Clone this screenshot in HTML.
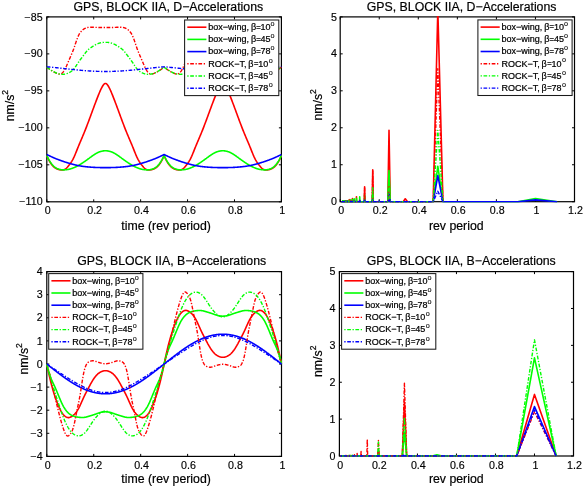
<!DOCTYPE html>
<html><head><meta charset="utf-8"><title>GPS BLOCK IIA Accelerations</title>
<style>html,body{margin:0;padding:0;background:#fff;overflow:hidden}svg{display:block}</style></head>
<body><svg width="585" height="487" viewBox="0 0 585 487" font-family="'Liberation Sans', sans-serif" fill="#000">
<rect width="585" height="487" fill="#fff"/>
<clipPath id="cTL"><rect x="46.00" y="16.10" width="236.20" height="186.50"/></clipPath>
<clipPath id="cTR"><rect x="339.40" y="16.10" width="235.90" height="186.40"/></clipPath>
<clipPath id="cBL"><rect x="46.00" y="270.80" width="236.30" height="186.40"/></clipPath>
<clipPath id="cBR"><rect x="338.60" y="270.80" width="235.70" height="186.00"/></clipPath>
<path d="M46.80,201.8v-2.5M46.80,16.9v2.5M93.72,201.8v-2.5M93.72,16.9v2.5M140.64,201.8v-2.5M140.64,16.9v2.5M187.56,201.8v-2.5M187.56,16.9v2.5M234.48,201.8v-2.5M234.48,16.9v2.5M281.40,201.8v-2.5M281.40,16.9v2.5M46.8,201.80h2.5M281.4,201.80h-2.5M46.8,164.82h2.5M281.4,164.82h-2.5M46.8,127.84h2.5M281.4,127.84h-2.5M46.8,90.86h2.5M281.4,90.86h-2.5M46.8,53.88h2.5M281.4,53.88h-2.5M46.8,16.90h2.5M281.4,16.90h-2.5" stroke="#000" stroke-width="1" fill="none"/>
<rect x="46.8" y="16.9" width="234.60" height="184.90" fill="none" stroke="#000" stroke-width="1.2"/>
<g clip-path="url(#cTL)"><polyline points="46.80,155.43 47.09,156.16 47.39,156.86 47.68,157.54 47.97,158.19 48.27,158.82 48.56,159.43 48.85,160.01 49.15,160.57 49.44,161.11 49.73,161.63 50.03,162.13 50.32,162.60 50.61,163.06 50.91,163.49 51.20,163.91 51.49,164.31 51.79,164.69 52.08,165.05 52.37,165.39 52.66,165.72 52.96,166.03 53.25,166.33 53.54,166.61 53.84,166.88 54.13,167.13 54.42,167.36 54.72,167.59 55.01,167.80 55.30,168.00 55.60,168.18 55.89,168.36 56.18,168.52 56.48,168.67 56.77,168.81 57.06,168.94 57.36,169.06 57.65,169.17 57.94,169.28 58.24,169.37 58.53,169.46 58.82,169.54 59.12,169.61 59.41,169.67 59.70,169.73 60.00,169.79 60.29,169.83 60.58,169.87 60.88,169.91 61.17,169.94 61.46,169.96 61.76,169.97 62.05,169.97 62.34,169.97 62.64,169.94 62.93,169.91 63.22,169.86 63.52,169.79 63.81,169.71 64.10,169.61 64.39,169.49 64.69,169.35 64.98,169.19 65.27,169.01 65.57,168.80 65.86,168.58 66.15,168.34 66.45,168.08 66.74,167.81 67.03,167.51 67.33,167.21 67.62,166.89 67.91,166.56 68.21,166.21 68.50,165.86 68.79,165.50 69.09,165.12 69.38,164.74 69.67,164.36 69.97,163.96 70.26,163.56 70.55,163.14 70.85,162.72 71.14,162.28 71.43,161.82 71.73,161.36 72.02,160.87 72.31,160.37 72.61,159.85 72.90,159.31 73.19,158.76 73.49,158.17 73.78,157.57 74.07,156.95 74.37,156.30 74.66,155.63 74.95,154.95 75.25,154.25 75.54,153.54 75.83,152.81 76.12,152.08 76.42,151.35 76.71,150.61 77.00,149.87 77.30,149.13 77.59,148.40 77.88,147.67 78.18,146.94 78.47,146.23 78.76,145.51 79.06,144.81 79.35,144.11 79.64,143.41 79.94,142.71 80.23,142.02 80.52,141.33 80.82,140.64 81.11,139.95 81.40,139.27 81.70,138.58 81.99,137.89 82.28,137.20 82.58,136.51 82.87,135.81 83.16,135.11 83.46,134.41 83.75,133.71 84.04,132.99 84.34,132.28 84.63,131.55 84.92,130.83 85.22,130.09 85.51,129.35 85.80,128.61 86.10,127.86 86.39,127.10 86.68,126.34 86.98,125.58 87.27,124.81 87.56,124.04 87.85,123.27 88.15,122.49 88.44,121.71 88.73,120.93 89.03,120.14 89.32,119.35 89.61,118.56 89.91,117.77 90.20,116.98 90.49,116.18 90.79,115.38 91.08,114.59 91.37,113.79 91.67,112.99 91.96,112.19 92.25,111.39 92.55,110.59 92.84,109.80 93.13,109.00 93.43,108.20 93.72,107.41 94.01,106.62 94.31,105.83 94.60,105.04 94.89,104.25 95.19,103.47 95.48,102.69 95.77,101.92 96.07,101.15 96.36,100.38 96.65,99.61 96.95,98.86 97.24,98.10 97.53,97.35 97.83,96.61 98.12,95.87 98.41,95.14 98.71,94.41 99.00,93.69 99.29,92.98 99.58,92.28 99.88,91.60 100.17,90.92 100.46,90.26 100.76,89.62 101.05,89.00 101.34,88.40 101.64,87.81 101.93,87.26 102.22,86.73 102.52,86.22 102.81,85.75 103.10,85.31 103.40,84.91 103.69,84.55 103.98,84.23 104.28,83.97 104.57,83.75 104.86,83.59 105.16,83.50 105.45,83.46 105.74,83.50 106.04,83.59 106.33,83.75 106.62,83.97 106.92,84.23 107.21,84.55 107.50,84.91 107.80,85.31 108.09,85.75 108.38,86.22 108.68,86.73 108.97,87.26 109.26,87.81 109.56,88.40 109.85,89.00 110.14,89.62 110.44,90.26 110.73,90.92 111.02,91.60 111.31,92.28 111.61,92.98 111.90,93.69 112.19,94.41 112.49,95.14 112.78,95.87 113.07,96.61 113.37,97.35 113.66,98.10 113.95,98.86 114.25,99.61 114.54,100.38 114.83,101.15 115.13,101.92 115.42,102.69 115.71,103.47 116.01,104.25 116.30,105.04 116.59,105.83 116.89,106.62 117.18,107.41 117.47,108.20 117.77,109.00 118.06,109.80 118.35,110.59 118.65,111.39 118.94,112.19 119.23,112.99 119.53,113.79 119.82,114.59 120.11,115.38 120.41,116.18 120.70,116.98 120.99,117.77 121.29,118.56 121.58,119.35 121.87,120.14 122.17,120.93 122.46,121.71 122.75,122.49 123.04,123.27 123.34,124.04 123.63,124.81 123.92,125.58 124.22,126.34 124.51,127.10 124.80,127.86 125.10,128.61 125.39,129.35 125.68,130.09 125.98,130.83 126.27,131.55 126.56,132.28 126.86,132.99 127.15,133.71 127.44,134.41 127.74,135.11 128.03,135.81 128.32,136.51 128.62,137.20 128.91,137.89 129.20,138.58 129.50,139.27 129.79,139.95 130.08,140.64 130.38,141.33 130.67,142.02 130.96,142.71 131.26,143.41 131.55,144.11 131.84,144.81 132.14,145.51 132.43,146.23 132.72,146.94 133.02,147.67 133.31,148.40 133.60,149.13 133.90,149.87 134.19,150.61 134.48,151.35 134.77,152.08 135.07,152.81 135.36,153.54 135.65,154.25 135.95,154.95 136.24,155.63 136.53,156.30 136.83,156.95 137.12,157.57 137.41,158.17 137.71,158.76 138.00,159.31 138.29,159.85 138.59,160.37 138.88,160.87 139.17,161.36 139.47,161.82 139.76,162.28 140.05,162.72 140.35,163.14 140.64,163.56 140.93,163.96 141.23,164.36 141.52,164.74 141.81,165.12 142.11,165.50 142.40,165.86 142.69,166.21 142.99,166.56 143.28,166.89 143.57,167.21 143.87,167.51 144.16,167.81 144.45,168.08 144.75,168.34 145.04,168.58 145.33,168.80 145.63,169.01 145.92,169.19 146.21,169.35 146.50,169.49 146.80,169.61 147.09,169.71 147.38,169.79 147.68,169.86 147.97,169.91 148.26,169.94 148.56,169.97 148.85,169.97 149.14,169.97 149.44,169.96 149.73,169.94 150.02,169.91 150.32,169.87 150.61,169.83 150.90,169.79 151.20,169.73 151.49,169.67 151.78,169.61 152.08,169.54 152.37,169.46 152.66,169.37 152.96,169.28 153.25,169.17 153.54,169.06 153.84,168.94 154.13,168.81 154.42,168.67 154.72,168.52 155.01,168.36 155.30,168.18 155.60,168.00 155.89,167.80 156.18,167.59 156.48,167.36 156.77,167.13 157.06,166.88 157.36,166.61 157.65,166.33 157.94,166.03 158.23,165.72 158.53,165.39 158.82,165.05 159.11,164.69 159.41,164.31 159.70,163.91 159.99,163.49 160.29,163.06 160.58,162.60 160.87,162.13 161.17,161.63 161.46,161.11 161.75,160.57 162.05,160.01 162.34,159.43 162.63,158.82 162.93,158.19 163.22,157.54 163.51,156.86 163.81,156.16 164.10,155.43 164.39,156.16 164.69,156.86 164.98,157.54 165.27,158.19 165.57,158.82 165.86,159.43 166.15,160.01 166.45,160.57 166.74,161.11 167.03,161.63 167.33,162.13 167.62,162.60 167.91,163.06 168.21,163.49 168.50,163.91 168.79,164.31 169.09,164.69 169.38,165.05 169.67,165.39 169.96,165.72 170.26,166.03 170.55,166.33 170.84,166.61 171.14,166.88 171.43,167.13 171.72,167.36 172.02,167.59 172.31,167.80 172.60,168.00 172.90,168.18 173.19,168.36 173.48,168.52 173.78,168.67 174.07,168.81 174.36,168.94 174.66,169.06 174.95,169.17 175.24,169.28 175.54,169.37 175.83,169.46 176.12,169.54 176.42,169.61 176.71,169.67 177.00,169.73 177.30,169.79 177.59,169.83 177.88,169.87 178.18,169.91 178.47,169.94 178.76,169.96 179.06,169.97 179.35,169.97 179.64,169.97 179.94,169.94 180.23,169.91 180.52,169.86 180.82,169.79 181.11,169.71 181.40,169.61 181.69,169.49 181.99,169.35 182.28,169.19 182.57,169.01 182.87,168.80 183.16,168.58 183.45,168.34 183.75,168.08 184.04,167.81 184.33,167.51 184.63,167.21 184.92,166.89 185.21,166.56 185.51,166.21 185.80,165.86 186.09,165.50 186.39,165.12 186.68,164.74 186.97,164.36 187.27,163.96 187.56,163.56 187.85,163.14 188.15,162.72 188.44,162.28 188.73,161.82 189.03,161.36 189.32,160.87 189.61,160.37 189.91,159.85 190.20,159.31 190.49,158.76 190.79,158.17 191.08,157.57 191.37,156.95 191.67,156.30 191.96,155.63 192.25,154.95 192.55,154.25 192.84,153.54 193.13,152.81 193.42,152.08 193.72,151.35 194.01,150.61 194.30,149.87 194.60,149.13 194.89,148.40 195.18,147.67 195.48,146.94 195.77,146.23 196.06,145.51 196.36,144.81 196.65,144.11 196.94,143.41 197.24,142.71 197.53,142.02 197.82,141.33 198.12,140.64 198.41,139.95 198.70,139.27 199.00,138.58 199.29,137.89 199.58,137.20 199.88,136.51 200.17,135.81 200.46,135.11 200.76,134.41 201.05,133.71 201.34,132.99 201.64,132.28 201.93,131.55 202.22,130.83 202.52,130.09 202.81,129.35 203.10,128.61 203.40,127.86 203.69,127.10 203.98,126.34 204.28,125.58 204.57,124.81 204.86,124.04 205.15,123.27 205.45,122.49 205.74,121.71 206.03,120.93 206.33,120.14 206.62,119.35 206.91,118.56 207.21,117.77 207.50,116.98 207.79,116.18 208.09,115.38 208.38,114.59 208.67,113.79 208.97,112.99 209.26,112.19 209.55,111.39 209.85,110.59 210.14,109.80 210.43,109.00 210.73,108.20 211.02,107.41 211.31,106.62 211.61,105.83 211.90,105.04 212.19,104.25 212.49,103.47 212.78,102.69 213.07,101.92 213.37,101.15 213.66,100.38 213.95,99.61 214.25,98.86 214.54,98.10 214.83,97.35 215.13,96.61 215.42,95.87 215.71,95.14 216.01,94.41 216.30,93.69 216.59,92.98 216.88,92.28 217.18,91.60 217.47,90.92 217.76,90.26 218.06,89.62 218.35,89.00 218.64,88.40 218.94,87.81 219.23,87.26 219.52,86.73 219.82,86.22 220.11,85.75 220.40,85.31 220.70,84.91 220.99,84.55 221.28,84.23 221.58,83.97 221.87,83.75 222.16,83.59 222.46,83.50 222.75,83.46 223.04,83.50 223.34,83.59 223.63,83.75 223.92,83.97 224.22,84.23 224.51,84.55 224.80,84.91 225.10,85.31 225.39,85.75 225.68,86.22 225.98,86.73 226.27,87.26 226.56,87.81 226.86,88.40 227.15,89.00 227.44,89.62 227.74,90.26 228.03,90.92 228.32,91.60 228.61,92.28 228.91,92.98 229.20,93.69 229.49,94.41 229.79,95.14 230.08,95.87 230.37,96.61 230.67,97.35 230.96,98.10 231.25,98.86 231.55,99.61 231.84,100.38 232.13,101.15 232.43,101.92 232.72,102.69 233.01,103.47 233.31,104.25 233.60,105.04 233.89,105.83 234.19,106.62 234.48,107.41 234.77,108.20 235.07,109.00 235.36,109.80 235.65,110.59 235.95,111.39 236.24,112.19 236.53,112.99 236.83,113.79 237.12,114.59 237.41,115.38 237.71,116.18 238.00,116.98 238.29,117.77 238.59,118.56 238.88,119.35 239.17,120.14 239.47,120.93 239.76,121.71 240.05,122.49 240.34,123.27 240.64,124.04 240.93,124.81 241.22,125.58 241.52,126.34 241.81,127.10 242.10,127.86 242.40,128.61 242.69,129.35 242.98,130.09 243.28,130.83 243.57,131.55 243.86,132.28 244.16,132.99 244.45,133.71 244.74,134.41 245.04,135.11 245.33,135.81 245.62,136.51 245.92,137.20 246.21,137.89 246.50,138.58 246.80,139.27 247.09,139.95 247.38,140.64 247.68,141.33 247.97,142.02 248.26,142.71 248.56,143.41 248.85,144.11 249.14,144.81 249.44,145.51 249.73,146.23 250.02,146.94 250.32,147.67 250.61,148.40 250.90,149.13 251.20,149.87 251.49,150.61 251.78,151.35 252.07,152.08 252.37,152.81 252.66,153.54 252.95,154.25 253.25,154.95 253.54,155.63 253.83,156.30 254.13,156.95 254.42,157.57 254.71,158.17 255.01,158.76 255.30,159.31 255.59,159.85 255.89,160.37 256.18,160.87 256.47,161.36 256.77,161.82 257.06,162.28 257.35,162.72 257.65,163.14 257.94,163.56 258.23,163.96 258.53,164.36 258.82,164.74 259.11,165.12 259.41,165.50 259.70,165.86 259.99,166.21 260.29,166.56 260.58,166.89 260.87,167.21 261.17,167.51 261.46,167.81 261.75,168.08 262.05,168.34 262.34,168.58 262.63,168.80 262.93,169.01 263.22,169.19 263.51,169.35 263.80,169.49 264.10,169.61 264.39,169.71 264.68,169.79 264.98,169.86 265.27,169.91 265.56,169.94 265.86,169.97 266.15,169.97 266.44,169.97 266.74,169.96 267.03,169.94 267.32,169.91 267.62,169.87 267.91,169.83 268.20,169.79 268.50,169.73 268.79,169.67 269.08,169.61 269.38,169.54 269.67,169.46 269.96,169.37 270.26,169.28 270.55,169.17 270.84,169.06 271.14,168.94 271.43,168.81 271.72,168.67 272.02,168.52 272.31,168.36 272.60,168.18 272.90,168.00 273.19,167.80 273.48,167.59 273.78,167.36 274.07,167.13 274.36,166.88 274.66,166.61 274.95,166.33 275.24,166.03 275.53,165.72 275.83,165.39 276.12,165.05 276.41,164.69 276.71,164.31 277.00,163.91 277.29,163.49 277.59,163.06 277.88,162.60 278.17,162.13 278.47,161.63 278.76,161.11 279.05,160.57 279.35,160.01 279.64,159.43 279.93,158.82 280.23,158.19 280.52,157.54 280.81,156.86 281.11,156.16 281.40,155.43" fill="none" stroke="#ff0000" stroke-width="1.6" stroke-linejoin="round" /><polyline points="46.80,155.43 47.09,156.09 47.39,156.73 47.68,157.34 47.97,157.94 48.27,158.52 48.56,159.08 48.85,159.63 49.15,160.15 49.44,160.65 49.73,161.14 50.03,161.61 50.32,162.06 50.61,162.50 50.91,162.92 51.20,163.32 51.49,163.71 51.79,164.08 52.08,164.44 52.37,164.78 52.66,165.11 52.96,165.42 53.25,165.72 53.54,166.01 53.84,166.28 54.13,166.54 54.42,166.78 54.72,167.02 55.01,167.24 55.30,167.45 55.60,167.65 55.89,167.84 56.18,168.02 56.48,168.18 56.77,168.34 57.06,168.49 57.36,168.63 57.65,168.76 57.94,168.88 58.24,168.99 58.53,169.09 58.82,169.19 59.12,169.28 59.41,169.36 59.70,169.43 60.00,169.50 60.29,169.56 60.58,169.61 60.88,169.66 61.17,169.70 61.46,169.74 61.76,169.77 62.05,169.79 62.34,169.81 62.64,169.83 62.93,169.84 63.22,169.85 63.52,169.85 63.81,169.85 64.10,169.85 64.39,169.84 64.69,169.83 64.98,169.81 65.27,169.80 65.57,169.78 65.86,169.75 66.15,169.72 66.45,169.69 66.74,169.66 67.03,169.62 67.33,169.58 67.62,169.53 67.91,169.48 68.21,169.43 68.50,169.38 68.79,169.32 69.09,169.25 69.38,169.19 69.67,169.11 69.97,169.04 70.26,168.96 70.55,168.88 70.85,168.79 71.14,168.70 71.43,168.61 71.73,168.52 72.02,168.42 72.31,168.31 72.61,168.21 72.90,168.09 73.19,167.98 73.49,167.86 73.78,167.74 74.07,167.62 74.37,167.50 74.66,167.37 74.95,167.23 75.25,167.10 75.54,166.96 75.83,166.82 76.12,166.68 76.42,166.53 76.71,166.38 77.00,166.23 77.30,166.07 77.59,165.91 77.88,165.75 78.18,165.59 78.47,165.43 78.76,165.26 79.06,165.09 79.35,164.92 79.64,164.74 79.94,164.57 80.23,164.39 80.52,164.21 80.82,164.03 81.11,163.84 81.40,163.66 81.70,163.47 81.99,163.28 82.28,163.09 82.58,162.89 82.87,162.70 83.16,162.50 83.46,162.30 83.75,162.10 84.04,161.90 84.34,161.70 84.63,161.50 84.92,161.29 85.22,161.09 85.51,160.88 85.80,160.67 86.10,160.47 86.39,160.26 86.68,160.05 86.98,159.83 87.27,159.62 87.56,159.41 87.85,159.20 88.15,158.98 88.44,158.77 88.73,158.55 89.03,158.34 89.32,158.12 89.61,157.90 89.91,157.69 90.20,157.47 90.49,157.26 90.79,157.04 91.08,156.83 91.37,156.61 91.67,156.40 91.96,156.19 92.25,155.98 92.55,155.77 92.84,155.57 93.13,155.37 93.43,155.16 93.72,154.97 94.01,154.77 94.31,154.58 94.60,154.39 94.89,154.20 95.19,154.02 95.48,153.84 95.77,153.67 96.07,153.50 96.36,153.33 96.65,153.17 96.95,153.02 97.24,152.87 97.53,152.72 97.83,152.58 98.12,152.44 98.41,152.31 98.71,152.19 99.00,152.07 99.29,151.95 99.58,151.84 99.88,151.74 100.17,151.64 100.46,151.55 100.76,151.46 101.05,151.38 101.34,151.30 101.64,151.23 101.93,151.16 102.22,151.10 102.52,151.04 102.81,150.99 103.10,150.94 103.40,150.90 103.69,150.87 103.98,150.84 104.28,150.81 104.57,150.79 104.86,150.78 105.16,150.77 105.45,150.77 105.74,150.77 106.04,150.78 106.33,150.79 106.62,150.81 106.92,150.84 107.21,150.87 107.50,150.90 107.80,150.94 108.09,150.99 108.38,151.04 108.68,151.10 108.97,151.16 109.26,151.23 109.56,151.30 109.85,151.38 110.14,151.46 110.44,151.55 110.73,151.64 111.02,151.74 111.31,151.84 111.61,151.95 111.90,152.07 112.19,152.19 112.49,152.31 112.78,152.44 113.07,152.58 113.37,152.72 113.66,152.87 113.95,153.02 114.25,153.17 114.54,153.33 114.83,153.50 115.13,153.67 115.42,153.84 115.71,154.02 116.01,154.20 116.30,154.39 116.59,154.58 116.89,154.77 117.18,154.97 117.47,155.16 117.77,155.37 118.06,155.57 118.35,155.77 118.65,155.98 118.94,156.19 119.23,156.40 119.53,156.61 119.82,156.83 120.11,157.04 120.41,157.26 120.70,157.47 120.99,157.69 121.29,157.90 121.58,158.12 121.87,158.34 122.17,158.55 122.46,158.77 122.75,158.98 123.04,159.20 123.34,159.41 123.63,159.62 123.92,159.83 124.22,160.05 124.51,160.26 124.80,160.47 125.10,160.67 125.39,160.88 125.68,161.09 125.98,161.29 126.27,161.50 126.56,161.70 126.86,161.90 127.15,162.10 127.44,162.30 127.74,162.50 128.03,162.70 128.32,162.89 128.62,163.09 128.91,163.28 129.20,163.47 129.50,163.66 129.79,163.84 130.08,164.03 130.38,164.21 130.67,164.39 130.96,164.57 131.26,164.74 131.55,164.92 131.84,165.09 132.14,165.26 132.43,165.43 132.72,165.59 133.02,165.75 133.31,165.91 133.60,166.07 133.90,166.23 134.19,166.38 134.48,166.53 134.77,166.68 135.07,166.82 135.36,166.96 135.65,167.10 135.95,167.23 136.24,167.37 136.53,167.50 136.83,167.62 137.12,167.74 137.41,167.86 137.71,167.98 138.00,168.09 138.29,168.21 138.59,168.31 138.88,168.42 139.17,168.52 139.47,168.61 139.76,168.70 140.05,168.79 140.35,168.88 140.64,168.96 140.93,169.04 141.23,169.11 141.52,169.19 141.81,169.25 142.11,169.32 142.40,169.38 142.69,169.43 142.99,169.48 143.28,169.53 143.57,169.58 143.87,169.62 144.16,169.66 144.45,169.69 144.75,169.72 145.04,169.75 145.33,169.78 145.63,169.80 145.92,169.81 146.21,169.83 146.50,169.84 146.80,169.85 147.09,169.85 147.38,169.85 147.68,169.85 147.97,169.84 148.26,169.83 148.56,169.81 148.85,169.79 149.14,169.77 149.44,169.74 149.73,169.70 150.02,169.66 150.32,169.61 150.61,169.56 150.90,169.50 151.20,169.43 151.49,169.36 151.78,169.28 152.08,169.19 152.37,169.09 152.66,168.99 152.96,168.88 153.25,168.76 153.54,168.63 153.84,168.49 154.13,168.34 154.42,168.18 154.72,168.02 155.01,167.84 155.30,167.65 155.60,167.45 155.89,167.24 156.18,167.02 156.48,166.78 156.77,166.54 157.06,166.28 157.36,166.01 157.65,165.72 157.94,165.42 158.23,165.11 158.53,164.78 158.82,164.44 159.11,164.08 159.41,163.71 159.70,163.32 159.99,162.92 160.29,162.50 160.58,162.06 160.87,161.61 161.17,161.14 161.46,160.65 161.75,160.15 162.05,159.63 162.34,159.08 162.63,158.52 162.93,157.94 163.22,157.34 163.51,156.73 163.81,156.09 164.10,155.43 164.39,156.09 164.69,156.73 164.98,157.34 165.27,157.94 165.57,158.52 165.86,159.08 166.15,159.63 166.45,160.15 166.74,160.65 167.03,161.14 167.33,161.61 167.62,162.06 167.91,162.50 168.21,162.92 168.50,163.32 168.79,163.71 169.09,164.08 169.38,164.44 169.67,164.78 169.96,165.11 170.26,165.42 170.55,165.72 170.84,166.01 171.14,166.28 171.43,166.54 171.72,166.78 172.02,167.02 172.31,167.24 172.60,167.45 172.90,167.65 173.19,167.84 173.48,168.02 173.78,168.18 174.07,168.34 174.36,168.49 174.66,168.63 174.95,168.76 175.24,168.88 175.54,168.99 175.83,169.09 176.12,169.19 176.42,169.28 176.71,169.36 177.00,169.43 177.30,169.50 177.59,169.56 177.88,169.61 178.18,169.66 178.47,169.70 178.76,169.74 179.06,169.77 179.35,169.79 179.64,169.81 179.94,169.83 180.23,169.84 180.52,169.85 180.82,169.85 181.11,169.85 181.40,169.85 181.69,169.84 181.99,169.83 182.28,169.81 182.57,169.80 182.87,169.78 183.16,169.75 183.45,169.72 183.75,169.69 184.04,169.66 184.33,169.62 184.63,169.58 184.92,169.53 185.21,169.48 185.51,169.43 185.80,169.38 186.09,169.32 186.39,169.25 186.68,169.19 186.97,169.11 187.27,169.04 187.56,168.96 187.85,168.88 188.15,168.79 188.44,168.70 188.73,168.61 189.03,168.52 189.32,168.42 189.61,168.31 189.91,168.21 190.20,168.09 190.49,167.98 190.79,167.86 191.08,167.74 191.37,167.62 191.67,167.50 191.96,167.37 192.25,167.23 192.55,167.10 192.84,166.96 193.13,166.82 193.42,166.68 193.72,166.53 194.01,166.38 194.30,166.23 194.60,166.07 194.89,165.91 195.18,165.75 195.48,165.59 195.77,165.43 196.06,165.26 196.36,165.09 196.65,164.92 196.94,164.74 197.24,164.57 197.53,164.39 197.82,164.21 198.12,164.03 198.41,163.84 198.70,163.66 199.00,163.47 199.29,163.28 199.58,163.09 199.88,162.89 200.17,162.70 200.46,162.50 200.76,162.30 201.05,162.10 201.34,161.90 201.64,161.70 201.93,161.50 202.22,161.29 202.52,161.09 202.81,160.88 203.10,160.67 203.40,160.47 203.69,160.26 203.98,160.05 204.28,159.83 204.57,159.62 204.86,159.41 205.15,159.20 205.45,158.98 205.74,158.77 206.03,158.55 206.33,158.34 206.62,158.12 206.91,157.90 207.21,157.69 207.50,157.47 207.79,157.26 208.09,157.04 208.38,156.83 208.67,156.61 208.97,156.40 209.26,156.19 209.55,155.98 209.85,155.77 210.14,155.57 210.43,155.37 210.73,155.16 211.02,154.97 211.31,154.77 211.61,154.58 211.90,154.39 212.19,154.20 212.49,154.02 212.78,153.84 213.07,153.67 213.37,153.50 213.66,153.33 213.95,153.17 214.25,153.02 214.54,152.87 214.83,152.72 215.13,152.58 215.42,152.44 215.71,152.31 216.01,152.19 216.30,152.07 216.59,151.95 216.88,151.84 217.18,151.74 217.47,151.64 217.76,151.55 218.06,151.46 218.35,151.38 218.64,151.30 218.94,151.23 219.23,151.16 219.52,151.10 219.82,151.04 220.11,150.99 220.40,150.94 220.70,150.90 220.99,150.87 221.28,150.84 221.58,150.81 221.87,150.79 222.16,150.78 222.46,150.77 222.75,150.77 223.04,150.77 223.34,150.78 223.63,150.79 223.92,150.81 224.22,150.84 224.51,150.87 224.80,150.90 225.10,150.94 225.39,150.99 225.68,151.04 225.98,151.10 226.27,151.16 226.56,151.23 226.86,151.30 227.15,151.38 227.44,151.46 227.74,151.55 228.03,151.64 228.32,151.74 228.61,151.84 228.91,151.95 229.20,152.07 229.49,152.19 229.79,152.31 230.08,152.44 230.37,152.58 230.67,152.72 230.96,152.87 231.25,153.02 231.55,153.17 231.84,153.33 232.13,153.50 232.43,153.67 232.72,153.84 233.01,154.02 233.31,154.20 233.60,154.39 233.89,154.58 234.19,154.77 234.48,154.97 234.77,155.16 235.07,155.37 235.36,155.57 235.65,155.77 235.95,155.98 236.24,156.19 236.53,156.40 236.83,156.61 237.12,156.83 237.41,157.04 237.71,157.26 238.00,157.47 238.29,157.69 238.59,157.90 238.88,158.12 239.17,158.34 239.47,158.55 239.76,158.77 240.05,158.98 240.34,159.20 240.64,159.41 240.93,159.62 241.22,159.83 241.52,160.05 241.81,160.26 242.10,160.47 242.40,160.67 242.69,160.88 242.98,161.09 243.28,161.29 243.57,161.50 243.86,161.70 244.16,161.90 244.45,162.10 244.74,162.30 245.04,162.50 245.33,162.70 245.62,162.89 245.92,163.09 246.21,163.28 246.50,163.47 246.80,163.66 247.09,163.84 247.38,164.03 247.68,164.21 247.97,164.39 248.26,164.57 248.56,164.74 248.85,164.92 249.14,165.09 249.44,165.26 249.73,165.43 250.02,165.59 250.32,165.75 250.61,165.91 250.90,166.07 251.20,166.23 251.49,166.38 251.78,166.53 252.07,166.68 252.37,166.82 252.66,166.96 252.95,167.10 253.25,167.23 253.54,167.37 253.83,167.50 254.13,167.62 254.42,167.74 254.71,167.86 255.01,167.98 255.30,168.09 255.59,168.21 255.89,168.31 256.18,168.42 256.47,168.52 256.77,168.61 257.06,168.70 257.35,168.79 257.65,168.88 257.94,168.96 258.23,169.04 258.53,169.11 258.82,169.19 259.11,169.25 259.41,169.32 259.70,169.38 259.99,169.43 260.29,169.48 260.58,169.53 260.87,169.58 261.17,169.62 261.46,169.66 261.75,169.69 262.05,169.72 262.34,169.75 262.63,169.78 262.93,169.80 263.22,169.81 263.51,169.83 263.80,169.84 264.10,169.85 264.39,169.85 264.68,169.85 264.98,169.85 265.27,169.84 265.56,169.83 265.86,169.81 266.15,169.79 266.44,169.77 266.74,169.74 267.03,169.70 267.32,169.66 267.62,169.61 267.91,169.56 268.20,169.50 268.50,169.43 268.79,169.36 269.08,169.28 269.38,169.19 269.67,169.09 269.96,168.99 270.26,168.88 270.55,168.76 270.84,168.63 271.14,168.49 271.43,168.34 271.72,168.18 272.02,168.02 272.31,167.84 272.60,167.65 272.90,167.45 273.19,167.24 273.48,167.02 273.78,166.78 274.07,166.54 274.36,166.28 274.66,166.01 274.95,165.72 275.24,165.42 275.53,165.11 275.83,164.78 276.12,164.44 276.41,164.08 276.71,163.71 277.00,163.32 277.29,162.92 277.59,162.50 277.88,162.06 278.17,161.61 278.47,161.14 278.76,160.65 279.05,160.15 279.35,159.63 279.64,159.08 279.93,158.52 280.23,157.94 280.52,157.34 280.81,156.73 281.11,156.09 281.40,155.43" fill="none" stroke="#00ff00" stroke-width="1.6" stroke-linejoin="round" /><polyline points="46.80,154.47 47.09,154.62 47.39,154.77 47.68,154.92 47.97,155.07 48.27,155.21 48.56,155.36 48.85,155.50 49.15,155.65 49.44,155.79 49.73,155.93 50.03,156.07 50.32,156.21 50.61,156.35 50.91,156.49 51.20,156.62 51.49,156.76 51.79,156.89 52.08,157.02 52.37,157.16 52.66,157.29 52.96,157.42 53.25,157.54 53.54,157.67 53.84,157.80 54.13,157.92 54.42,158.05 54.72,158.17 55.01,158.30 55.30,158.42 55.60,158.54 55.89,158.66 56.18,158.78 56.48,158.89 56.77,159.01 57.06,159.13 57.36,159.24 57.65,159.36 57.94,159.47 58.24,159.58 58.53,159.70 58.82,159.81 59.12,159.92 59.41,160.03 59.70,160.13 60.00,160.24 60.29,160.35 60.58,160.46 60.88,160.56 61.17,160.67 61.46,160.77 61.76,160.87 62.05,160.98 62.34,161.08 62.64,161.18 62.93,161.28 63.22,161.38 63.52,161.48 63.81,161.58 64.10,161.67 64.39,161.77 64.69,161.87 64.98,161.96 65.27,162.06 65.57,162.15 65.86,162.25 66.15,162.34 66.45,162.44 66.74,162.53 67.03,162.62 67.33,162.71 67.62,162.80 67.91,162.89 68.21,162.98 68.50,163.07 68.79,163.16 69.09,163.25 69.38,163.33 69.67,163.42 69.97,163.51 70.26,163.59 70.55,163.67 70.85,163.76 71.14,163.84 71.43,163.92 71.73,164.00 72.02,164.08 72.31,164.16 72.61,164.24 72.90,164.32 73.19,164.40 73.49,164.47 73.78,164.55 74.07,164.62 74.37,164.69 74.66,164.77 74.95,164.84 75.25,164.91 75.54,164.98 75.83,165.04 76.12,165.11 76.42,165.18 76.71,165.24 77.00,165.30 77.30,165.37 77.59,165.43 77.88,165.49 78.18,165.55 78.47,165.61 78.76,165.66 79.06,165.72 79.35,165.77 79.64,165.83 79.94,165.88 80.23,165.93 80.52,165.98 80.82,166.03 81.11,166.07 81.40,166.12 81.70,166.17 81.99,166.21 82.28,166.25 82.58,166.30 82.87,166.34 83.16,166.38 83.46,166.42 83.75,166.46 84.04,166.50 84.34,166.53 84.63,166.57 84.92,166.60 85.22,166.64 85.51,166.67 85.80,166.71 86.10,166.74 86.39,166.77 86.68,166.80 86.98,166.83 87.27,166.86 87.56,166.89 87.85,166.91 88.15,166.94 88.44,166.97 88.73,166.99 89.03,167.02 89.32,167.04 89.61,167.07 89.91,167.09 90.20,167.11 90.49,167.14 90.79,167.16 91.08,167.18 91.37,167.20 91.67,167.22 91.96,167.24 92.25,167.26 92.55,167.28 92.84,167.29 93.13,167.31 93.43,167.33 93.72,167.34 94.01,167.36 94.31,167.37 94.60,167.39 94.89,167.40 95.19,167.42 95.48,167.43 95.77,167.44 96.07,167.45 96.36,167.47 96.65,167.48 96.95,167.49 97.24,167.50 97.53,167.51 97.83,167.52 98.12,167.53 98.41,167.54 98.71,167.54 99.00,167.55 99.29,167.56 99.58,167.57 99.88,167.57 100.17,167.58 100.46,167.58 100.76,167.59 101.05,167.60 101.34,167.60 101.64,167.60 101.93,167.61 102.22,167.61 102.52,167.62 102.81,167.62 103.10,167.62 103.40,167.62 103.69,167.63 103.98,167.63 104.28,167.63 104.57,167.63 104.86,167.63 105.16,167.63 105.45,167.63 105.74,167.63 106.04,167.63 106.33,167.63 106.62,167.63 106.92,167.63 107.21,167.63 107.50,167.62 107.80,167.62 108.09,167.62 108.38,167.62 108.68,167.61 108.97,167.61 109.26,167.60 109.56,167.60 109.85,167.60 110.14,167.59 110.44,167.58 110.73,167.58 111.02,167.57 111.31,167.57 111.61,167.56 111.90,167.55 112.19,167.54 112.49,167.54 112.78,167.53 113.07,167.52 113.37,167.51 113.66,167.50 113.95,167.49 114.25,167.48 114.54,167.47 114.83,167.45 115.13,167.44 115.42,167.43 115.71,167.42 116.01,167.40 116.30,167.39 116.59,167.37 116.89,167.36 117.18,167.34 117.47,167.33 117.77,167.31 118.06,167.29 118.35,167.28 118.65,167.26 118.94,167.24 119.23,167.22 119.53,167.20 119.82,167.18 120.11,167.16 120.41,167.14 120.70,167.11 120.99,167.09 121.29,167.07 121.58,167.04 121.87,167.02 122.17,166.99 122.46,166.97 122.75,166.94 123.04,166.91 123.34,166.89 123.63,166.86 123.92,166.83 124.22,166.80 124.51,166.77 124.80,166.74 125.10,166.71 125.39,166.67 125.68,166.64 125.98,166.60 126.27,166.57 126.56,166.53 126.86,166.50 127.15,166.46 127.44,166.42 127.74,166.38 128.03,166.34 128.32,166.30 128.62,166.25 128.91,166.21 129.20,166.17 129.50,166.12 129.79,166.07 130.08,166.03 130.38,165.98 130.67,165.93 130.96,165.88 131.26,165.83 131.55,165.77 131.84,165.72 132.14,165.66 132.43,165.61 132.72,165.55 133.02,165.49 133.31,165.43 133.60,165.37 133.90,165.30 134.19,165.24 134.48,165.18 134.77,165.11 135.07,165.04 135.36,164.98 135.65,164.91 135.95,164.84 136.24,164.77 136.53,164.69 136.83,164.62 137.12,164.55 137.41,164.47 137.71,164.40 138.00,164.32 138.29,164.24 138.59,164.16 138.88,164.08 139.17,164.00 139.47,163.92 139.76,163.84 140.05,163.76 140.35,163.67 140.64,163.59 140.93,163.51 141.23,163.42 141.52,163.33 141.81,163.25 142.11,163.16 142.40,163.07 142.69,162.98 142.99,162.89 143.28,162.80 143.57,162.71 143.87,162.62 144.16,162.53 144.45,162.44 144.75,162.34 145.04,162.25 145.33,162.15 145.63,162.06 145.92,161.96 146.21,161.87 146.50,161.77 146.80,161.67 147.09,161.58 147.38,161.48 147.68,161.38 147.97,161.28 148.26,161.18 148.56,161.08 148.85,160.98 149.14,160.87 149.44,160.77 149.73,160.67 150.02,160.56 150.32,160.46 150.61,160.35 150.90,160.24 151.20,160.13 151.49,160.03 151.78,159.92 152.08,159.81 152.37,159.70 152.66,159.58 152.96,159.47 153.25,159.36 153.54,159.24 153.84,159.13 154.13,159.01 154.42,158.89 154.72,158.78 155.01,158.66 155.30,158.54 155.60,158.42 155.89,158.30 156.18,158.17 156.48,158.05 156.77,157.92 157.06,157.80 157.36,157.67 157.65,157.54 157.94,157.42 158.23,157.29 158.53,157.16 158.82,157.02 159.11,156.89 159.41,156.76 159.70,156.62 159.99,156.49 160.29,156.35 160.58,156.21 160.87,156.07 161.17,155.93 161.46,155.79 161.75,155.65 162.05,155.50 162.34,155.36 162.63,155.21 162.93,155.07 163.22,154.92 163.51,154.77 163.81,154.62 164.10,154.47 164.39,154.62 164.69,154.77 164.98,154.92 165.27,155.07 165.57,155.21 165.86,155.36 166.15,155.50 166.45,155.65 166.74,155.79 167.03,155.93 167.33,156.07 167.62,156.21 167.91,156.35 168.21,156.49 168.50,156.62 168.79,156.76 169.09,156.89 169.38,157.02 169.67,157.16 169.96,157.29 170.26,157.42 170.55,157.54 170.84,157.67 171.14,157.80 171.43,157.92 171.72,158.05 172.02,158.17 172.31,158.30 172.60,158.42 172.90,158.54 173.19,158.66 173.48,158.78 173.78,158.89 174.07,159.01 174.36,159.13 174.66,159.24 174.95,159.36 175.24,159.47 175.54,159.58 175.83,159.70 176.12,159.81 176.42,159.92 176.71,160.03 177.00,160.13 177.30,160.24 177.59,160.35 177.88,160.46 178.18,160.56 178.47,160.67 178.76,160.77 179.06,160.87 179.35,160.98 179.64,161.08 179.94,161.18 180.23,161.28 180.52,161.38 180.82,161.48 181.11,161.58 181.40,161.67 181.69,161.77 181.99,161.87 182.28,161.96 182.57,162.06 182.87,162.15 183.16,162.25 183.45,162.34 183.75,162.44 184.04,162.53 184.33,162.62 184.63,162.71 184.92,162.80 185.21,162.89 185.51,162.98 185.80,163.07 186.09,163.16 186.39,163.25 186.68,163.33 186.97,163.42 187.27,163.51 187.56,163.59 187.85,163.67 188.15,163.76 188.44,163.84 188.73,163.92 189.03,164.00 189.32,164.08 189.61,164.16 189.91,164.24 190.20,164.32 190.49,164.40 190.79,164.47 191.08,164.55 191.37,164.62 191.67,164.69 191.96,164.77 192.25,164.84 192.55,164.91 192.84,164.98 193.13,165.04 193.42,165.11 193.72,165.18 194.01,165.24 194.30,165.30 194.60,165.37 194.89,165.43 195.18,165.49 195.48,165.55 195.77,165.61 196.06,165.66 196.36,165.72 196.65,165.77 196.94,165.83 197.24,165.88 197.53,165.93 197.82,165.98 198.12,166.03 198.41,166.07 198.70,166.12 199.00,166.17 199.29,166.21 199.58,166.25 199.88,166.30 200.17,166.34 200.46,166.38 200.76,166.42 201.05,166.46 201.34,166.50 201.64,166.53 201.93,166.57 202.22,166.60 202.52,166.64 202.81,166.67 203.10,166.71 203.40,166.74 203.69,166.77 203.98,166.80 204.28,166.83 204.57,166.86 204.86,166.89 205.15,166.91 205.45,166.94 205.74,166.97 206.03,166.99 206.33,167.02 206.62,167.04 206.91,167.07 207.21,167.09 207.50,167.11 207.79,167.14 208.09,167.16 208.38,167.18 208.67,167.20 208.97,167.22 209.26,167.24 209.55,167.26 209.85,167.28 210.14,167.29 210.43,167.31 210.73,167.33 211.02,167.34 211.31,167.36 211.61,167.37 211.90,167.39 212.19,167.40 212.49,167.42 212.78,167.43 213.07,167.44 213.37,167.45 213.66,167.47 213.95,167.48 214.25,167.49 214.54,167.50 214.83,167.51 215.13,167.52 215.42,167.53 215.71,167.54 216.01,167.54 216.30,167.55 216.59,167.56 216.88,167.57 217.18,167.57 217.47,167.58 217.76,167.58 218.06,167.59 218.35,167.60 218.64,167.60 218.94,167.60 219.23,167.61 219.52,167.61 219.82,167.62 220.11,167.62 220.40,167.62 220.70,167.62 220.99,167.63 221.28,167.63 221.58,167.63 221.87,167.63 222.16,167.63 222.46,167.63 222.75,167.63 223.04,167.63 223.34,167.63 223.63,167.63 223.92,167.63 224.22,167.63 224.51,167.63 224.80,167.62 225.10,167.62 225.39,167.62 225.68,167.62 225.98,167.61 226.27,167.61 226.56,167.60 226.86,167.60 227.15,167.60 227.44,167.59 227.74,167.58 228.03,167.58 228.32,167.57 228.61,167.57 228.91,167.56 229.20,167.55 229.49,167.54 229.79,167.54 230.08,167.53 230.37,167.52 230.67,167.51 230.96,167.50 231.25,167.49 231.55,167.48 231.84,167.47 232.13,167.45 232.43,167.44 232.72,167.43 233.01,167.42 233.31,167.40 233.60,167.39 233.89,167.37 234.19,167.36 234.48,167.34 234.77,167.33 235.07,167.31 235.36,167.29 235.65,167.28 235.95,167.26 236.24,167.24 236.53,167.22 236.83,167.20 237.12,167.18 237.41,167.16 237.71,167.14 238.00,167.11 238.29,167.09 238.59,167.07 238.88,167.04 239.17,167.02 239.47,166.99 239.76,166.97 240.05,166.94 240.34,166.91 240.64,166.89 240.93,166.86 241.22,166.83 241.52,166.80 241.81,166.77 242.10,166.74 242.40,166.71 242.69,166.67 242.98,166.64 243.28,166.60 243.57,166.57 243.86,166.53 244.16,166.50 244.45,166.46 244.74,166.42 245.04,166.38 245.33,166.34 245.62,166.30 245.92,166.25 246.21,166.21 246.50,166.17 246.80,166.12 247.09,166.07 247.38,166.03 247.68,165.98 247.97,165.93 248.26,165.88 248.56,165.83 248.85,165.77 249.14,165.72 249.44,165.66 249.73,165.61 250.02,165.55 250.32,165.49 250.61,165.43 250.90,165.37 251.20,165.30 251.49,165.24 251.78,165.18 252.07,165.11 252.37,165.04 252.66,164.98 252.95,164.91 253.25,164.84 253.54,164.77 253.83,164.69 254.13,164.62 254.42,164.55 254.71,164.47 255.01,164.40 255.30,164.32 255.59,164.24 255.89,164.16 256.18,164.08 256.47,164.00 256.77,163.92 257.06,163.84 257.35,163.76 257.65,163.67 257.94,163.59 258.23,163.51 258.53,163.42 258.82,163.33 259.11,163.25 259.41,163.16 259.70,163.07 259.99,162.98 260.29,162.89 260.58,162.80 260.87,162.71 261.17,162.62 261.46,162.53 261.75,162.44 262.05,162.34 262.34,162.25 262.63,162.15 262.93,162.06 263.22,161.96 263.51,161.87 263.80,161.77 264.10,161.67 264.39,161.58 264.68,161.48 264.98,161.38 265.27,161.28 265.56,161.18 265.86,161.08 266.15,160.98 266.44,160.87 266.74,160.77 267.03,160.67 267.32,160.56 267.62,160.46 267.91,160.35 268.20,160.24 268.50,160.13 268.79,160.03 269.08,159.92 269.38,159.81 269.67,159.70 269.96,159.58 270.26,159.47 270.55,159.36 270.84,159.24 271.14,159.13 271.43,159.01 271.72,158.89 272.02,158.78 272.31,158.66 272.60,158.54 272.90,158.42 273.19,158.30 273.48,158.17 273.78,158.05 274.07,157.92 274.36,157.80 274.66,157.67 274.95,157.54 275.24,157.42 275.53,157.29 275.83,157.16 276.12,157.02 276.41,156.89 276.71,156.76 277.00,156.62 277.29,156.49 277.59,156.35 277.88,156.21 278.17,156.07 278.47,155.93 278.76,155.79 279.05,155.65 279.35,155.50 279.64,155.36 279.93,155.21 280.23,155.07 280.52,154.92 280.81,154.77 281.11,154.62 281.40,154.47" fill="none" stroke="#0000ff" stroke-width="1.6" stroke-linejoin="round" /><polyline points="46.80,67.19 47.09,67.42 47.39,67.64 47.68,67.86 47.97,68.08 48.27,68.30 48.56,68.51 48.85,68.73 49.15,68.94 49.44,69.14 49.73,69.35 50.03,69.55 50.32,69.75 50.61,69.95 50.91,70.14 51.20,70.34 51.49,70.52 51.79,70.71 52.08,70.89 52.37,71.07 52.66,71.25 52.96,71.42 53.25,71.59 53.54,71.76 53.84,71.92 54.13,72.08 54.42,72.23 54.72,72.39 55.01,72.53 55.30,72.68 55.60,72.82 55.89,72.95 56.18,73.09 56.48,73.21 56.77,73.34 57.06,73.46 57.36,73.57 57.65,73.68 57.94,73.78 58.24,73.87 58.53,73.95 58.82,74.01 59.12,74.06 59.41,74.08 59.70,74.09 60.00,74.07 60.29,74.02 60.58,73.95 60.88,73.85 61.17,73.72 61.46,73.55 61.76,73.35 62.05,73.12 62.34,72.86 62.64,72.57 62.93,72.24 63.22,71.89 63.52,71.50 63.81,71.08 64.10,70.63 64.39,70.15 64.69,69.64 64.98,69.10 65.27,68.54 65.57,67.95 65.86,67.34 66.15,66.71 66.45,66.07 66.74,65.41 67.03,64.74 67.33,64.07 67.62,63.38 67.91,62.69 68.21,62.00 68.50,61.32 68.79,60.63 69.09,59.95 69.38,59.28 69.67,58.61 69.97,57.94 70.26,57.28 70.55,56.61 70.85,55.94 71.14,55.26 71.43,54.58 71.73,53.89 72.02,53.19 72.31,52.48 72.61,51.75 72.90,51.00 73.19,50.24 73.49,49.45 73.78,48.65 74.07,47.82 74.37,46.97 74.66,46.10 74.95,45.23 75.25,44.35 75.54,43.47 75.83,42.60 76.12,41.73 76.42,40.87 76.71,40.04 77.00,39.22 77.30,38.43 77.59,37.67 77.88,36.95 78.18,36.26 78.47,35.62 78.76,35.02 79.06,34.47 79.35,33.95 79.64,33.46 79.94,33.01 80.23,32.60 80.52,32.20 80.82,31.84 81.11,31.50 81.40,31.17 81.70,30.87 81.99,30.58 82.28,30.31 82.58,30.05 82.87,29.80 83.16,29.56 83.46,29.34 83.75,29.13 84.04,28.93 84.34,28.75 84.63,28.58 84.92,28.42 85.22,28.27 85.51,28.14 85.80,28.02 86.10,27.91 86.39,27.82 86.68,27.73 86.98,27.65 87.27,27.59 87.56,27.53 87.85,27.47 88.15,27.43 88.44,27.39 88.73,27.36 89.03,27.33 89.32,27.30 89.61,27.28 89.91,27.27 90.20,27.25 90.49,27.24 90.79,27.23 91.08,27.23 91.37,27.23 91.67,27.23 91.96,27.23 92.25,27.23 92.55,27.24 92.84,27.25 93.13,27.26 93.43,27.27 93.72,27.28 94.01,27.29 94.31,27.30 94.60,27.32 94.89,27.33 95.19,27.34 95.48,27.36 95.77,27.37 96.07,27.38 96.36,27.40 96.65,27.41 96.95,27.42 97.24,27.43 97.53,27.44 97.83,27.44 98.12,27.45 98.41,27.46 98.71,27.46 99.00,27.47 99.29,27.47 99.58,27.47 99.88,27.48 100.17,27.48 100.46,27.48 100.76,27.48 101.05,27.48 101.34,27.48 101.64,27.48 101.93,27.48 102.22,27.48 102.52,27.48 102.81,27.48 103.10,27.48 103.40,27.48 103.69,27.48 103.98,27.48 104.28,27.48 104.57,27.48 104.86,27.48 105.16,27.48 105.45,27.48 105.74,27.48 106.04,27.48 106.33,27.48 106.62,27.48 106.92,27.48 107.21,27.48 107.50,27.48 107.80,27.48 108.09,27.48 108.38,27.48 108.68,27.48 108.97,27.48 109.26,27.48 109.56,27.48 109.85,27.48 110.14,27.48 110.44,27.48 110.73,27.48 111.02,27.48 111.31,27.47 111.61,27.47 111.90,27.47 112.19,27.46 112.49,27.46 112.78,27.45 113.07,27.44 113.37,27.44 113.66,27.43 113.95,27.42 114.25,27.41 114.54,27.40 114.83,27.38 115.13,27.37 115.42,27.36 115.71,27.34 116.01,27.33 116.30,27.32 116.59,27.30 116.89,27.29 117.18,27.28 117.47,27.27 117.77,27.26 118.06,27.25 118.35,27.24 118.65,27.23 118.94,27.23 119.23,27.23 119.53,27.23 119.82,27.23 120.11,27.23 120.41,27.24 120.70,27.25 120.99,27.27 121.29,27.28 121.58,27.30 121.87,27.33 122.17,27.36 122.46,27.39 122.75,27.43 123.04,27.47 123.34,27.53 123.63,27.59 123.92,27.65 124.22,27.73 124.51,27.82 124.80,27.91 125.10,28.02 125.39,28.14 125.68,28.27 125.98,28.42 126.27,28.58 126.56,28.75 126.86,28.93 127.15,29.13 127.44,29.34 127.74,29.56 128.03,29.80 128.32,30.05 128.62,30.31 128.91,30.58 129.20,30.87 129.50,31.17 129.79,31.50 130.08,31.84 130.38,32.20 130.67,32.60 130.96,33.01 131.26,33.46 131.55,33.95 131.84,34.47 132.14,35.02 132.43,35.62 132.72,36.26 133.02,36.95 133.31,37.67 133.60,38.43 133.90,39.22 134.19,40.04 134.48,40.87 134.77,41.73 135.07,42.60 135.36,43.47 135.65,44.35 135.95,45.23 136.24,46.10 136.53,46.97 136.83,47.82 137.12,48.65 137.41,49.45 137.71,50.24 138.00,51.00 138.29,51.75 138.59,52.48 138.88,53.19 139.17,53.89 139.47,54.58 139.76,55.26 140.05,55.94 140.35,56.61 140.64,57.28 140.93,57.94 141.23,58.61 141.52,59.28 141.81,59.95 142.11,60.63 142.40,61.32 142.69,62.00 142.99,62.69 143.28,63.38 143.57,64.07 143.87,64.74 144.16,65.41 144.45,66.07 144.75,66.71 145.04,67.34 145.33,67.95 145.63,68.54 145.92,69.10 146.21,69.64 146.50,70.15 146.80,70.63 147.09,71.08 147.38,71.50 147.68,71.89 147.97,72.24 148.26,72.57 148.56,72.86 148.85,73.12 149.14,73.35 149.44,73.55 149.73,73.72 150.02,73.85 150.32,73.95 150.61,74.02 150.90,74.07 151.20,74.09 151.49,74.08 151.78,74.06 152.08,74.01 152.37,73.95 152.66,73.87 152.96,73.78 153.25,73.68 153.54,73.57 153.84,73.46 154.13,73.34 154.42,73.21 154.72,73.09 155.01,72.95 155.30,72.82 155.60,72.68 155.89,72.53 156.18,72.39 156.48,72.23 156.77,72.08 157.06,71.92 157.36,71.76 157.65,71.59 157.94,71.42 158.23,71.25 158.53,71.07 158.82,70.89 159.11,70.71 159.41,70.52 159.70,70.34 159.99,70.14 160.29,69.95 160.58,69.75 160.87,69.55 161.17,69.35 161.46,69.14 161.75,68.94 162.05,68.73 162.34,68.51 162.63,68.30 162.93,68.08 163.22,67.86 163.51,67.64 163.81,67.42 164.10,67.19 164.39,67.42 164.69,67.64 164.98,67.86 165.27,68.08 165.57,68.30 165.86,68.51 166.15,68.73 166.45,68.94 166.74,69.14 167.03,69.35 167.33,69.55 167.62,69.75 167.91,69.95 168.21,70.14 168.50,70.34 168.79,70.52 169.09,70.71 169.38,70.89 169.67,71.07 169.96,71.25 170.26,71.42 170.55,71.59 170.84,71.76 171.14,71.92 171.43,72.08 171.72,72.23 172.02,72.39 172.31,72.53 172.60,72.68 172.90,72.82 173.19,72.95 173.48,73.09 173.78,73.21 174.07,73.34 174.36,73.46 174.66,73.57 174.95,73.68 175.24,73.78 175.54,73.87 175.83,73.95 176.12,74.01 176.42,74.06 176.71,74.08 177.00,74.09 177.30,74.07 177.59,74.02 177.88,73.95 178.18,73.85 178.47,73.72 178.76,73.55 179.06,73.35 179.35,73.12 179.64,72.86 179.94,72.57 180.23,72.24 180.52,71.89 180.82,71.50 181.11,71.08 181.40,70.63 181.69,70.15 181.99,69.64 182.28,69.10 182.57,68.54 182.87,67.95 183.16,67.34 183.45,66.71 183.75,66.07 184.04,65.41 184.33,64.74 184.63,64.07 184.92,63.38 185.21,62.69 185.51,62.00 185.80,61.32 186.09,60.63 186.39,59.95 186.68,59.28 186.97,58.61 187.27,57.94 187.56,57.28 187.85,56.61 188.15,55.94 188.44,55.26 188.73,54.58 189.03,53.89 189.32,53.19 189.61,52.48 189.91,51.75 190.20,51.00 190.49,50.24 190.79,49.45 191.08,48.65 191.37,47.82 191.67,46.97 191.96,46.10 192.25,45.23 192.55,44.35 192.84,43.47 193.13,42.60 193.42,41.73 193.72,40.87 194.01,40.04 194.30,39.22 194.60,38.43 194.89,37.67 195.18,36.95 195.48,36.26 195.77,35.62 196.06,35.02 196.36,34.47 196.65,33.95 196.94,33.46 197.24,33.01 197.53,32.60 197.82,32.20 198.12,31.84 198.41,31.50 198.70,31.17 199.00,30.87 199.29,30.58 199.58,30.31 199.88,30.05 200.17,29.80 200.46,29.56 200.76,29.34 201.05,29.13 201.34,28.93 201.64,28.75 201.93,28.58 202.22,28.42 202.52,28.27 202.81,28.14 203.10,28.02 203.40,27.91 203.69,27.82 203.98,27.73 204.28,27.65 204.57,27.59 204.86,27.53 205.15,27.47 205.45,27.43 205.74,27.39 206.03,27.36 206.33,27.33 206.62,27.30 206.91,27.28 207.21,27.27 207.50,27.25 207.79,27.24 208.09,27.23 208.38,27.23 208.67,27.23 208.97,27.23 209.26,27.23 209.55,27.23 209.85,27.24 210.14,27.25 210.43,27.26 210.73,27.27 211.02,27.28 211.31,27.29 211.61,27.30 211.90,27.32 212.19,27.33 212.49,27.34 212.78,27.36 213.07,27.37 213.37,27.38 213.66,27.40 213.95,27.41 214.25,27.42 214.54,27.43 214.83,27.44 215.13,27.44 215.42,27.45 215.71,27.46 216.01,27.46 216.30,27.47 216.59,27.47 216.88,27.47 217.18,27.48 217.47,27.48 217.76,27.48 218.06,27.48 218.35,27.48 218.64,27.48 218.94,27.48 219.23,27.48 219.52,27.48 219.82,27.48 220.11,27.48 220.40,27.48 220.70,27.48 220.99,27.48 221.28,27.48 221.58,27.48 221.87,27.48 222.16,27.48 222.46,27.48 222.75,27.48 223.04,27.48 223.34,27.48 223.63,27.48 223.92,27.48 224.22,27.48 224.51,27.48 224.80,27.48 225.10,27.48 225.39,27.48 225.68,27.48 225.98,27.48 226.27,27.48 226.56,27.48 226.86,27.48 227.15,27.48 227.44,27.48 227.74,27.48 228.03,27.48 228.32,27.48 228.61,27.47 228.91,27.47 229.20,27.47 229.49,27.46 229.79,27.46 230.08,27.45 230.37,27.44 230.67,27.44 230.96,27.43 231.25,27.42 231.55,27.41 231.84,27.40 232.13,27.38 232.43,27.37 232.72,27.36 233.01,27.34 233.31,27.33 233.60,27.32 233.89,27.30 234.19,27.29 234.48,27.28 234.77,27.27 235.07,27.26 235.36,27.25 235.65,27.24 235.95,27.23 236.24,27.23 236.53,27.23 236.83,27.23 237.12,27.23 237.41,27.23 237.71,27.24 238.00,27.25 238.29,27.27 238.59,27.28 238.88,27.30 239.17,27.33 239.47,27.36 239.76,27.39 240.05,27.43 240.34,27.47 240.64,27.53 240.93,27.59 241.22,27.65 241.52,27.73 241.81,27.82 242.10,27.91 242.40,28.02 242.69,28.14 242.98,28.27 243.28,28.42 243.57,28.58 243.86,28.75 244.16,28.93 244.45,29.13 244.74,29.34 245.04,29.56 245.33,29.80 245.62,30.05 245.92,30.31 246.21,30.58 246.50,30.87 246.80,31.17 247.09,31.50 247.38,31.84 247.68,32.20 247.97,32.60 248.26,33.01 248.56,33.46 248.85,33.95 249.14,34.47 249.44,35.02 249.73,35.62 250.02,36.26 250.32,36.95 250.61,37.67 250.90,38.43 251.20,39.22 251.49,40.04 251.78,40.87 252.07,41.73 252.37,42.60 252.66,43.47 252.95,44.35 253.25,45.23 253.54,46.10 253.83,46.97 254.13,47.82 254.42,48.65 254.71,49.45 255.01,50.24 255.30,51.00 255.59,51.75 255.89,52.48 256.18,53.19 256.47,53.89 256.77,54.58 257.06,55.26 257.35,55.94 257.65,56.61 257.94,57.28 258.23,57.94 258.53,58.61 258.82,59.28 259.11,59.95 259.41,60.63 259.70,61.32 259.99,62.00 260.29,62.69 260.58,63.38 260.87,64.07 261.17,64.74 261.46,65.41 261.75,66.07 262.05,66.71 262.34,67.34 262.63,67.95 262.93,68.54 263.22,69.10 263.51,69.64 263.80,70.15 264.10,70.63 264.39,71.08 264.68,71.50 264.98,71.89 265.27,72.24 265.56,72.57 265.86,72.86 266.15,73.12 266.44,73.35 266.74,73.55 267.03,73.72 267.32,73.85 267.62,73.95 267.91,74.02 268.20,74.07 268.50,74.09 268.79,74.08 269.08,74.06 269.38,74.01 269.67,73.95 269.96,73.87 270.26,73.78 270.55,73.68 270.84,73.57 271.14,73.46 271.43,73.34 271.72,73.21 272.02,73.09 272.31,72.95 272.60,72.82 272.90,72.68 273.19,72.53 273.48,72.39 273.78,72.23 274.07,72.08 274.36,71.92 274.66,71.76 274.95,71.59 275.24,71.42 275.53,71.25 275.83,71.07 276.12,70.89 276.41,70.71 276.71,70.52 277.00,70.34 277.29,70.14 277.59,69.95 277.88,69.75 278.17,69.55 278.47,69.35 278.76,69.14 279.05,68.94 279.35,68.73 279.64,68.51 279.93,68.30 280.23,68.08 280.52,67.86 280.81,67.64 281.11,67.42 281.40,67.19" fill="none" stroke="#ff0000" stroke-width="1.4" stroke-linejoin="round" stroke-dasharray="3.7 1.6 1.3 1.6"/><polyline points="46.80,67.19 47.09,67.41 47.39,67.63 47.68,67.84 47.97,68.05 48.27,68.26 48.56,68.47 48.85,68.68 49.15,68.88 49.44,69.08 49.73,69.28 50.03,69.48 50.32,69.68 50.61,69.87 50.91,70.06 51.20,70.25 51.49,70.43 51.79,70.61 52.08,70.79 52.37,70.96 52.66,71.13 52.96,71.30 53.25,71.47 53.54,71.63 53.84,71.79 54.13,71.94 54.42,72.09 54.72,72.24 55.01,72.38 55.30,72.51 55.60,72.65 55.89,72.78 56.18,72.90 56.48,73.02 56.77,73.14 57.06,73.25 57.36,73.36 57.65,73.46 57.94,73.55 58.24,73.64 58.53,73.73 58.82,73.81 59.12,73.89 59.41,73.96 59.70,74.02 60.00,74.08 60.29,74.13 60.58,74.18 60.88,74.22 61.17,74.26 61.46,74.29 61.76,74.31 62.05,74.32 62.34,74.33 62.64,74.34 62.93,74.34 63.22,74.33 63.52,74.31 63.81,74.29 64.10,74.26 64.39,74.22 64.69,74.17 64.98,74.12 65.27,74.06 65.57,74.00 65.86,73.93 66.15,73.85 66.45,73.76 66.74,73.66 67.03,73.56 67.33,73.46 67.62,73.34 67.91,73.22 68.21,73.09 68.50,72.96 68.79,72.81 69.09,72.66 69.38,72.51 69.67,72.35 69.97,72.18 70.26,72.00 70.55,71.82 70.85,71.63 71.14,71.43 71.43,71.22 71.73,71.00 72.02,70.76 72.31,70.52 72.61,70.25 72.90,69.98 73.19,69.68 73.49,69.37 73.78,69.04 74.07,68.69 74.37,68.32 74.66,67.94 74.95,67.54 75.25,67.13 75.54,66.70 75.83,66.27 76.12,65.83 76.42,65.38 76.71,64.93 77.00,64.48 77.30,64.03 77.59,63.58 77.88,63.14 78.18,62.69 78.47,62.26 78.76,61.83 79.06,61.41 79.35,61.00 79.64,60.59 79.94,60.18 80.23,59.78 80.52,59.38 80.82,58.99 81.11,58.60 81.40,58.20 81.70,57.81 81.99,57.42 82.28,57.03 82.58,56.64 82.87,56.25 83.16,55.86 83.46,55.46 83.75,55.07 84.04,54.67 84.34,54.28 84.63,53.89 84.92,53.50 85.22,53.12 85.51,52.74 85.80,52.38 86.10,52.02 86.39,51.66 86.68,51.32 86.98,50.99 87.27,50.68 87.56,50.37 87.85,50.08 88.15,49.80 88.44,49.53 88.73,49.28 89.03,49.03 89.32,48.79 89.61,48.56 89.91,48.34 90.20,48.12 90.49,47.92 90.79,47.71 91.08,47.51 91.37,47.32 91.67,47.12 91.96,46.93 92.25,46.74 92.55,46.55 92.84,46.36 93.13,46.17 93.43,45.99 93.72,45.81 94.01,45.63 94.31,45.45 94.60,45.28 94.89,45.11 95.19,44.94 95.48,44.78 95.77,44.62 96.07,44.46 96.36,44.32 96.65,44.17 96.95,44.04 97.24,43.90 97.53,43.78 97.83,43.66 98.12,43.54 98.41,43.43 98.71,43.33 99.00,43.23 99.29,43.14 99.58,43.05 99.88,42.97 100.17,42.90 100.46,42.83 100.76,42.76 101.05,42.70 101.34,42.65 101.64,42.60 101.93,42.55 102.22,42.51 102.52,42.48 102.81,42.45 103.10,42.42 103.40,42.40 103.69,42.38 103.98,42.37 104.28,42.36 104.57,42.35 104.86,42.35 105.16,42.34 105.45,42.34 105.74,42.34 106.04,42.35 106.33,42.35 106.62,42.36 106.92,42.37 107.21,42.38 107.50,42.40 107.80,42.42 108.09,42.45 108.38,42.48 108.68,42.51 108.97,42.55 109.26,42.60 109.56,42.65 109.85,42.70 110.14,42.76 110.44,42.83 110.73,42.90 111.02,42.97 111.31,43.05 111.61,43.14 111.90,43.23 112.19,43.33 112.49,43.43 112.78,43.54 113.07,43.66 113.37,43.78 113.66,43.90 113.95,44.04 114.25,44.17 114.54,44.32 114.83,44.46 115.13,44.62 115.42,44.78 115.71,44.94 116.01,45.11 116.30,45.28 116.59,45.45 116.89,45.63 117.18,45.81 117.47,45.99 117.77,46.17 118.06,46.36 118.35,46.55 118.65,46.74 118.94,46.93 119.23,47.12 119.53,47.32 119.82,47.51 120.11,47.71 120.41,47.92 120.70,48.12 120.99,48.34 121.29,48.56 121.58,48.79 121.87,49.03 122.17,49.28 122.46,49.53 122.75,49.80 123.04,50.08 123.34,50.37 123.63,50.68 123.92,50.99 124.22,51.32 124.51,51.66 124.80,52.02 125.10,52.38 125.39,52.74 125.68,53.12 125.98,53.50 126.27,53.89 126.56,54.28 126.86,54.67 127.15,55.07 127.44,55.46 127.74,55.86 128.03,56.25 128.32,56.64 128.62,57.03 128.91,57.42 129.20,57.81 129.50,58.20 129.79,58.60 130.08,58.99 130.38,59.38 130.67,59.78 130.96,60.18 131.26,60.59 131.55,61.00 131.84,61.41 132.14,61.83 132.43,62.26 132.72,62.69 133.02,63.14 133.31,63.58 133.60,64.03 133.90,64.48 134.19,64.93 134.48,65.38 134.77,65.83 135.07,66.27 135.36,66.70 135.65,67.13 135.95,67.54 136.24,67.94 136.53,68.32 136.83,68.69 137.12,69.04 137.41,69.37 137.71,69.68 138.00,69.98 138.29,70.25 138.59,70.52 138.88,70.76 139.17,71.00 139.47,71.22 139.76,71.43 140.05,71.63 140.35,71.82 140.64,72.00 140.93,72.18 141.23,72.35 141.52,72.51 141.81,72.66 142.11,72.81 142.40,72.96 142.69,73.09 142.99,73.22 143.28,73.34 143.57,73.46 143.87,73.56 144.16,73.66 144.45,73.76 144.75,73.85 145.04,73.93 145.33,74.00 145.63,74.06 145.92,74.12 146.21,74.17 146.50,74.22 146.80,74.26 147.09,74.29 147.38,74.31 147.68,74.33 147.97,74.34 148.26,74.34 148.56,74.33 148.85,74.32 149.14,74.31 149.44,74.29 149.73,74.26 150.02,74.22 150.32,74.18 150.61,74.13 150.90,74.08 151.20,74.02 151.49,73.96 151.78,73.89 152.08,73.81 152.37,73.73 152.66,73.64 152.96,73.55 153.25,73.46 153.54,73.36 153.84,73.25 154.13,73.14 154.42,73.02 154.72,72.90 155.01,72.78 155.30,72.65 155.60,72.51 155.89,72.38 156.18,72.24 156.48,72.09 156.77,71.94 157.06,71.79 157.36,71.63 157.65,71.47 157.94,71.30 158.23,71.13 158.53,70.96 158.82,70.79 159.11,70.61 159.41,70.43 159.70,70.25 159.99,70.06 160.29,69.87 160.58,69.68 160.87,69.48 161.17,69.28 161.46,69.08 161.75,68.88 162.05,68.68 162.34,68.47 162.63,68.26 162.93,68.05 163.22,67.84 163.51,67.63 163.81,67.41 164.10,67.19 164.39,67.41 164.69,67.63 164.98,67.84 165.27,68.05 165.57,68.26 165.86,68.47 166.15,68.68 166.45,68.88 166.74,69.08 167.03,69.28 167.33,69.48 167.62,69.68 167.91,69.87 168.21,70.06 168.50,70.25 168.79,70.43 169.09,70.61 169.38,70.79 169.67,70.96 169.96,71.13 170.26,71.30 170.55,71.47 170.84,71.63 171.14,71.79 171.43,71.94 171.72,72.09 172.02,72.24 172.31,72.38 172.60,72.51 172.90,72.65 173.19,72.78 173.48,72.90 173.78,73.02 174.07,73.14 174.36,73.25 174.66,73.36 174.95,73.46 175.24,73.55 175.54,73.64 175.83,73.73 176.12,73.81 176.42,73.89 176.71,73.96 177.00,74.02 177.30,74.08 177.59,74.13 177.88,74.18 178.18,74.22 178.47,74.26 178.76,74.29 179.06,74.31 179.35,74.32 179.64,74.33 179.94,74.34 180.23,74.34 180.52,74.33 180.82,74.31 181.11,74.29 181.40,74.26 181.69,74.22 181.99,74.17 182.28,74.12 182.57,74.06 182.87,74.00 183.16,73.93 183.45,73.85 183.75,73.76 184.04,73.66 184.33,73.56 184.63,73.46 184.92,73.34 185.21,73.22 185.51,73.09 185.80,72.96 186.09,72.81 186.39,72.66 186.68,72.51 186.97,72.35 187.27,72.18 187.56,72.00 187.85,71.82 188.15,71.63 188.44,71.43 188.73,71.22 189.03,71.00 189.32,70.76 189.61,70.52 189.91,70.25 190.20,69.98 190.49,69.68 190.79,69.37 191.08,69.04 191.37,68.69 191.67,68.32 191.96,67.94 192.25,67.54 192.55,67.13 192.84,66.70 193.13,66.27 193.42,65.83 193.72,65.38 194.01,64.93 194.30,64.48 194.60,64.03 194.89,63.58 195.18,63.14 195.48,62.69 195.77,62.26 196.06,61.83 196.36,61.41 196.65,61.00 196.94,60.59 197.24,60.18 197.53,59.78 197.82,59.38 198.12,58.99 198.41,58.60 198.70,58.20 199.00,57.81 199.29,57.42 199.58,57.03 199.88,56.64 200.17,56.25 200.46,55.86 200.76,55.46 201.05,55.07 201.34,54.67 201.64,54.28 201.93,53.89 202.22,53.50 202.52,53.12 202.81,52.74 203.10,52.38 203.40,52.02 203.69,51.66 203.98,51.32 204.28,50.99 204.57,50.68 204.86,50.37 205.15,50.08 205.45,49.80 205.74,49.53 206.03,49.28 206.33,49.03 206.62,48.79 206.91,48.56 207.21,48.34 207.50,48.12 207.79,47.92 208.09,47.71 208.38,47.51 208.67,47.32 208.97,47.12 209.26,46.93 209.55,46.74 209.85,46.55 210.14,46.36 210.43,46.17 210.73,45.99 211.02,45.81 211.31,45.63 211.61,45.45 211.90,45.28 212.19,45.11 212.49,44.94 212.78,44.78 213.07,44.62 213.37,44.46 213.66,44.32 213.95,44.17 214.25,44.04 214.54,43.90 214.83,43.78 215.13,43.66 215.42,43.54 215.71,43.43 216.01,43.33 216.30,43.23 216.59,43.14 216.88,43.05 217.18,42.97 217.47,42.90 217.76,42.83 218.06,42.76 218.35,42.70 218.64,42.65 218.94,42.60 219.23,42.55 219.52,42.51 219.82,42.48 220.11,42.45 220.40,42.42 220.70,42.40 220.99,42.38 221.28,42.37 221.58,42.36 221.87,42.35 222.16,42.35 222.46,42.34 222.75,42.34 223.04,42.34 223.34,42.35 223.63,42.35 223.92,42.36 224.22,42.37 224.51,42.38 224.80,42.40 225.10,42.42 225.39,42.45 225.68,42.48 225.98,42.51 226.27,42.55 226.56,42.60 226.86,42.65 227.15,42.70 227.44,42.76 227.74,42.83 228.03,42.90 228.32,42.97 228.61,43.05 228.91,43.14 229.20,43.23 229.49,43.33 229.79,43.43 230.08,43.54 230.37,43.66 230.67,43.78 230.96,43.90 231.25,44.04 231.55,44.17 231.84,44.32 232.13,44.46 232.43,44.62 232.72,44.78 233.01,44.94 233.31,45.11 233.60,45.28 233.89,45.45 234.19,45.63 234.48,45.81 234.77,45.99 235.07,46.17 235.36,46.36 235.65,46.55 235.95,46.74 236.24,46.93 236.53,47.12 236.83,47.32 237.12,47.51 237.41,47.71 237.71,47.92 238.00,48.12 238.29,48.34 238.59,48.56 238.88,48.79 239.17,49.03 239.47,49.28 239.76,49.53 240.05,49.80 240.34,50.08 240.64,50.37 240.93,50.68 241.22,50.99 241.52,51.32 241.81,51.66 242.10,52.02 242.40,52.38 242.69,52.74 242.98,53.12 243.28,53.50 243.57,53.89 243.86,54.28 244.16,54.67 244.45,55.07 244.74,55.46 245.04,55.86 245.33,56.25 245.62,56.64 245.92,57.03 246.21,57.42 246.50,57.81 246.80,58.20 247.09,58.60 247.38,58.99 247.68,59.38 247.97,59.78 248.26,60.18 248.56,60.59 248.85,61.00 249.14,61.41 249.44,61.83 249.73,62.26 250.02,62.69 250.32,63.14 250.61,63.58 250.90,64.03 251.20,64.48 251.49,64.93 251.78,65.38 252.07,65.83 252.37,66.27 252.66,66.70 252.95,67.13 253.25,67.54 253.54,67.94 253.83,68.32 254.13,68.69 254.42,69.04 254.71,69.37 255.01,69.68 255.30,69.98 255.59,70.25 255.89,70.52 256.18,70.76 256.47,71.00 256.77,71.22 257.06,71.43 257.35,71.63 257.65,71.82 257.94,72.00 258.23,72.18 258.53,72.35 258.82,72.51 259.11,72.66 259.41,72.81 259.70,72.96 259.99,73.09 260.29,73.22 260.58,73.34 260.87,73.46 261.17,73.56 261.46,73.66 261.75,73.76 262.05,73.85 262.34,73.93 262.63,74.00 262.93,74.06 263.22,74.12 263.51,74.17 263.80,74.22 264.10,74.26 264.39,74.29 264.68,74.31 264.98,74.33 265.27,74.34 265.56,74.34 265.86,74.33 266.15,74.32 266.44,74.31 266.74,74.29 267.03,74.26 267.32,74.22 267.62,74.18 267.91,74.13 268.20,74.08 268.50,74.02 268.79,73.96 269.08,73.89 269.38,73.81 269.67,73.73 269.96,73.64 270.26,73.55 270.55,73.46 270.84,73.36 271.14,73.25 271.43,73.14 271.72,73.02 272.02,72.90 272.31,72.78 272.60,72.65 272.90,72.51 273.19,72.38 273.48,72.24 273.78,72.09 274.07,71.94 274.36,71.79 274.66,71.63 274.95,71.47 275.24,71.30 275.53,71.13 275.83,70.96 276.12,70.79 276.41,70.61 276.71,70.43 277.00,70.25 277.29,70.06 277.59,69.87 277.88,69.68 278.17,69.48 278.47,69.28 278.76,69.08 279.05,68.88 279.35,68.68 279.64,68.47 279.93,68.26 280.23,68.05 280.52,67.84 280.81,67.63 281.11,67.41 281.40,67.19" fill="none" stroke="#00ff00" stroke-width="1.4" stroke-linejoin="round" stroke-dasharray="3.7 1.6 1.3 1.6"/><polyline points="46.80,66.82 47.09,66.85 47.39,66.87 47.68,66.89 47.97,66.92 48.27,66.94 48.56,66.97 48.85,66.99 49.15,67.02 49.44,67.05 49.73,67.07 50.03,67.10 50.32,67.12 50.61,67.15 50.91,67.18 51.20,67.20 51.49,67.23 51.79,67.26 52.08,67.29 52.37,67.31 52.66,67.34 52.96,67.37 53.25,67.40 53.54,67.43 53.84,67.46 54.13,67.49 54.42,67.52 54.72,67.55 55.01,67.57 55.30,67.60 55.60,67.63 55.89,67.66 56.18,67.69 56.48,67.72 56.77,67.76 57.06,67.79 57.36,67.82 57.65,67.85 57.94,67.88 58.24,67.91 58.53,67.94 58.82,67.97 59.12,68.00 59.41,68.03 59.70,68.07 60.00,68.10 60.29,68.13 60.58,68.16 60.88,68.19 61.17,68.22 61.46,68.26 61.76,68.29 62.05,68.32 62.34,68.35 62.64,68.39 62.93,68.42 63.22,68.45 63.52,68.48 63.81,68.51 64.10,68.55 64.39,68.58 64.69,68.61 64.98,68.64 65.27,68.68 65.57,68.71 65.86,68.74 66.15,68.77 66.45,68.81 66.74,68.84 67.03,68.87 67.33,68.90 67.62,68.94 67.91,68.97 68.21,69.00 68.50,69.03 68.79,69.07 69.09,69.10 69.38,69.13 69.67,69.16 69.97,69.19 70.26,69.23 70.55,69.26 70.85,69.29 71.14,69.32 71.43,69.35 71.73,69.38 72.02,69.41 72.31,69.45 72.61,69.48 72.90,69.51 73.19,69.54 73.49,69.57 73.78,69.60 74.07,69.63 74.37,69.66 74.66,69.69 74.95,69.72 75.25,69.75 75.54,69.78 75.83,69.81 76.12,69.84 76.42,69.87 76.71,69.90 77.00,69.93 77.30,69.96 77.59,69.99 77.88,70.02 78.18,70.04 78.47,70.07 78.76,70.10 79.06,70.13 79.35,70.16 79.64,70.18 79.94,70.21 80.23,70.24 80.52,70.26 80.82,70.29 81.11,70.32 81.40,70.34 81.70,70.37 81.99,70.39 82.28,70.42 82.58,70.44 82.87,70.47 83.16,70.49 83.46,70.52 83.75,70.54 84.04,70.56 84.34,70.59 84.63,70.61 84.92,70.63 85.22,70.66 85.51,70.68 85.80,70.70 86.10,70.72 86.39,70.75 86.68,70.77 86.98,70.79 87.27,70.81 87.56,70.83 87.85,70.85 88.15,70.87 88.44,70.89 88.73,70.91 89.03,70.93 89.32,70.95 89.61,70.96 89.91,70.98 90.20,71.00 90.49,71.02 90.79,71.04 91.08,71.05 91.37,71.07 91.67,71.09 91.96,71.10 92.25,71.12 92.55,71.13 92.84,71.15 93.13,71.16 93.43,71.18 93.72,71.19 94.01,71.21 94.31,71.22 94.60,71.23 94.89,71.25 95.19,71.26 95.48,71.27 95.77,71.28 96.07,71.29 96.36,71.31 96.65,71.32 96.95,71.33 97.24,71.34 97.53,71.35 97.83,71.36 98.12,71.37 98.41,71.38 98.71,71.38 99.00,71.39 99.29,71.40 99.58,71.41 99.88,71.41 100.17,71.42 100.46,71.43 100.76,71.43 101.05,71.44 101.34,71.45 101.64,71.45 101.93,71.46 102.22,71.46 102.52,71.46 102.81,71.47 103.10,71.47 103.40,71.47 103.69,71.48 103.98,71.48 104.28,71.48 104.57,71.48 104.86,71.48 105.16,71.48 105.45,71.48 105.74,71.48 106.04,71.48 106.33,71.48 106.62,71.48 106.92,71.48 107.21,71.48 107.50,71.47 107.80,71.47 108.09,71.47 108.38,71.46 108.68,71.46 108.97,71.46 109.26,71.45 109.56,71.45 109.85,71.44 110.14,71.43 110.44,71.43 110.73,71.42 111.02,71.41 111.31,71.41 111.61,71.40 111.90,71.39 112.19,71.38 112.49,71.38 112.78,71.37 113.07,71.36 113.37,71.35 113.66,71.34 113.95,71.33 114.25,71.32 114.54,71.31 114.83,71.29 115.13,71.28 115.42,71.27 115.71,71.26 116.01,71.25 116.30,71.23 116.59,71.22 116.89,71.21 117.18,71.19 117.47,71.18 117.77,71.16 118.06,71.15 118.35,71.13 118.65,71.12 118.94,71.10 119.23,71.09 119.53,71.07 119.82,71.05 120.11,71.04 120.41,71.02 120.70,71.00 120.99,70.98 121.29,70.96 121.58,70.95 121.87,70.93 122.17,70.91 122.46,70.89 122.75,70.87 123.04,70.85 123.34,70.83 123.63,70.81 123.92,70.79 124.22,70.77 124.51,70.75 124.80,70.72 125.10,70.70 125.39,70.68 125.68,70.66 125.98,70.63 126.27,70.61 126.56,70.59 126.86,70.56 127.15,70.54 127.44,70.52 127.74,70.49 128.03,70.47 128.32,70.44 128.62,70.42 128.91,70.39 129.20,70.37 129.50,70.34 129.79,70.32 130.08,70.29 130.38,70.26 130.67,70.24 130.96,70.21 131.26,70.18 131.55,70.16 131.84,70.13 132.14,70.10 132.43,70.07 132.72,70.04 133.02,70.02 133.31,69.99 133.60,69.96 133.90,69.93 134.19,69.90 134.48,69.87 134.77,69.84 135.07,69.81 135.36,69.78 135.65,69.75 135.95,69.72 136.24,69.69 136.53,69.66 136.83,69.63 137.12,69.60 137.41,69.57 137.71,69.54 138.00,69.51 138.29,69.48 138.59,69.45 138.88,69.41 139.17,69.38 139.47,69.35 139.76,69.32 140.05,69.29 140.35,69.26 140.64,69.23 140.93,69.19 141.23,69.16 141.52,69.13 141.81,69.10 142.11,69.07 142.40,69.03 142.69,69.00 142.99,68.97 143.28,68.94 143.57,68.90 143.87,68.87 144.16,68.84 144.45,68.81 144.75,68.77 145.04,68.74 145.33,68.71 145.63,68.68 145.92,68.64 146.21,68.61 146.50,68.58 146.80,68.55 147.09,68.51 147.38,68.48 147.68,68.45 147.97,68.42 148.26,68.39 148.56,68.35 148.85,68.32 149.14,68.29 149.44,68.26 149.73,68.22 150.02,68.19 150.32,68.16 150.61,68.13 150.90,68.10 151.20,68.07 151.49,68.03 151.78,68.00 152.08,67.97 152.37,67.94 152.66,67.91 152.96,67.88 153.25,67.85 153.54,67.82 153.84,67.79 154.13,67.76 154.42,67.72 154.72,67.69 155.01,67.66 155.30,67.63 155.60,67.60 155.89,67.57 156.18,67.55 156.48,67.52 156.77,67.49 157.06,67.46 157.36,67.43 157.65,67.40 157.94,67.37 158.23,67.34 158.53,67.31 158.82,67.29 159.11,67.26 159.41,67.23 159.70,67.20 159.99,67.18 160.29,67.15 160.58,67.12 160.87,67.10 161.17,67.07 161.46,67.05 161.75,67.02 162.05,66.99 162.34,66.97 162.63,66.94 162.93,66.92 163.22,66.89 163.51,66.87 163.81,66.85 164.10,66.82 164.39,66.85 164.69,66.87 164.98,66.89 165.27,66.92 165.57,66.94 165.86,66.97 166.15,66.99 166.45,67.02 166.74,67.05 167.03,67.07 167.33,67.10 167.62,67.12 167.91,67.15 168.21,67.18 168.50,67.20 168.79,67.23 169.09,67.26 169.38,67.29 169.67,67.31 169.96,67.34 170.26,67.37 170.55,67.40 170.84,67.43 171.14,67.46 171.43,67.49 171.72,67.52 172.02,67.55 172.31,67.57 172.60,67.60 172.90,67.63 173.19,67.66 173.48,67.69 173.78,67.72 174.07,67.76 174.36,67.79 174.66,67.82 174.95,67.85 175.24,67.88 175.54,67.91 175.83,67.94 176.12,67.97 176.42,68.00 176.71,68.03 177.00,68.07 177.30,68.10 177.59,68.13 177.88,68.16 178.18,68.19 178.47,68.22 178.76,68.26 179.06,68.29 179.35,68.32 179.64,68.35 179.94,68.39 180.23,68.42 180.52,68.45 180.82,68.48 181.11,68.51 181.40,68.55 181.69,68.58 181.99,68.61 182.28,68.64 182.57,68.68 182.87,68.71 183.16,68.74 183.45,68.77 183.75,68.81 184.04,68.84 184.33,68.87 184.63,68.90 184.92,68.94 185.21,68.97 185.51,69.00 185.80,69.03 186.09,69.07 186.39,69.10 186.68,69.13 186.97,69.16 187.27,69.19 187.56,69.23 187.85,69.26 188.15,69.29 188.44,69.32 188.73,69.35 189.03,69.38 189.32,69.41 189.61,69.45 189.91,69.48 190.20,69.51 190.49,69.54 190.79,69.57 191.08,69.60 191.37,69.63 191.67,69.66 191.96,69.69 192.25,69.72 192.55,69.75 192.84,69.78 193.13,69.81 193.42,69.84 193.72,69.87 194.01,69.90 194.30,69.93 194.60,69.96 194.89,69.99 195.18,70.02 195.48,70.04 195.77,70.07 196.06,70.10 196.36,70.13 196.65,70.16 196.94,70.18 197.24,70.21 197.53,70.24 197.82,70.26 198.12,70.29 198.41,70.32 198.70,70.34 199.00,70.37 199.29,70.39 199.58,70.42 199.88,70.44 200.17,70.47 200.46,70.49 200.76,70.52 201.05,70.54 201.34,70.56 201.64,70.59 201.93,70.61 202.22,70.63 202.52,70.66 202.81,70.68 203.10,70.70 203.40,70.72 203.69,70.75 203.98,70.77 204.28,70.79 204.57,70.81 204.86,70.83 205.15,70.85 205.45,70.87 205.74,70.89 206.03,70.91 206.33,70.93 206.62,70.95 206.91,70.96 207.21,70.98 207.50,71.00 207.79,71.02 208.09,71.04 208.38,71.05 208.67,71.07 208.97,71.09 209.26,71.10 209.55,71.12 209.85,71.13 210.14,71.15 210.43,71.16 210.73,71.18 211.02,71.19 211.31,71.21 211.61,71.22 211.90,71.23 212.19,71.25 212.49,71.26 212.78,71.27 213.07,71.28 213.37,71.29 213.66,71.31 213.95,71.32 214.25,71.33 214.54,71.34 214.83,71.35 215.13,71.36 215.42,71.37 215.71,71.38 216.01,71.38 216.30,71.39 216.59,71.40 216.88,71.41 217.18,71.41 217.47,71.42 217.76,71.43 218.06,71.43 218.35,71.44 218.64,71.45 218.94,71.45 219.23,71.46 219.52,71.46 219.82,71.46 220.11,71.47 220.40,71.47 220.70,71.47 220.99,71.48 221.28,71.48 221.58,71.48 221.87,71.48 222.16,71.48 222.46,71.48 222.75,71.48 223.04,71.48 223.34,71.48 223.63,71.48 223.92,71.48 224.22,71.48 224.51,71.48 224.80,71.47 225.10,71.47 225.39,71.47 225.68,71.46 225.98,71.46 226.27,71.46 226.56,71.45 226.86,71.45 227.15,71.44 227.44,71.43 227.74,71.43 228.03,71.42 228.32,71.41 228.61,71.41 228.91,71.40 229.20,71.39 229.49,71.38 229.79,71.38 230.08,71.37 230.37,71.36 230.67,71.35 230.96,71.34 231.25,71.33 231.55,71.32 231.84,71.31 232.13,71.29 232.43,71.28 232.72,71.27 233.01,71.26 233.31,71.25 233.60,71.23 233.89,71.22 234.19,71.21 234.48,71.19 234.77,71.18 235.07,71.16 235.36,71.15 235.65,71.13 235.95,71.12 236.24,71.10 236.53,71.09 236.83,71.07 237.12,71.05 237.41,71.04 237.71,71.02 238.00,71.00 238.29,70.98 238.59,70.96 238.88,70.95 239.17,70.93 239.47,70.91 239.76,70.89 240.05,70.87 240.34,70.85 240.64,70.83 240.93,70.81 241.22,70.79 241.52,70.77 241.81,70.75 242.10,70.72 242.40,70.70 242.69,70.68 242.98,70.66 243.28,70.63 243.57,70.61 243.86,70.59 244.16,70.56 244.45,70.54 244.74,70.52 245.04,70.49 245.33,70.47 245.62,70.44 245.92,70.42 246.21,70.39 246.50,70.37 246.80,70.34 247.09,70.32 247.38,70.29 247.68,70.26 247.97,70.24 248.26,70.21 248.56,70.18 248.85,70.16 249.14,70.13 249.44,70.10 249.73,70.07 250.02,70.04 250.32,70.02 250.61,69.99 250.90,69.96 251.20,69.93 251.49,69.90 251.78,69.87 252.07,69.84 252.37,69.81 252.66,69.78 252.95,69.75 253.25,69.72 253.54,69.69 253.83,69.66 254.13,69.63 254.42,69.60 254.71,69.57 255.01,69.54 255.30,69.51 255.59,69.48 255.89,69.45 256.18,69.41 256.47,69.38 256.77,69.35 257.06,69.32 257.35,69.29 257.65,69.26 257.94,69.23 258.23,69.19 258.53,69.16 258.82,69.13 259.11,69.10 259.41,69.07 259.70,69.03 259.99,69.00 260.29,68.97 260.58,68.94 260.87,68.90 261.17,68.87 261.46,68.84 261.75,68.81 262.05,68.77 262.34,68.74 262.63,68.71 262.93,68.68 263.22,68.64 263.51,68.61 263.80,68.58 264.10,68.55 264.39,68.51 264.68,68.48 264.98,68.45 265.27,68.42 265.56,68.39 265.86,68.35 266.15,68.32 266.44,68.29 266.74,68.26 267.03,68.22 267.32,68.19 267.62,68.16 267.91,68.13 268.20,68.10 268.50,68.07 268.79,68.03 269.08,68.00 269.38,67.97 269.67,67.94 269.96,67.91 270.26,67.88 270.55,67.85 270.84,67.82 271.14,67.79 271.43,67.76 271.72,67.72 272.02,67.69 272.31,67.66 272.60,67.63 272.90,67.60 273.19,67.57 273.48,67.55 273.78,67.52 274.07,67.49 274.36,67.46 274.66,67.43 274.95,67.40 275.24,67.37 275.53,67.34 275.83,67.31 276.12,67.29 276.41,67.26 276.71,67.23 277.00,67.20 277.29,67.18 277.59,67.15 277.88,67.12 278.17,67.10 278.47,67.07 278.76,67.05 279.05,67.02 279.35,66.99 279.64,66.97 279.93,66.94 280.23,66.92 280.52,66.89 280.81,66.87 281.11,66.85 281.40,66.82" fill="none" stroke="#0000ff" stroke-width="1.4" stroke-linejoin="round" stroke-dasharray="3.7 1.6 1.3 1.6"/></g>
<text transform="translate(47.70,213.7) scale(1.07,1)" font-size="10" text-anchor="middle" stroke="#000" stroke-width="0.15">0</text>
<text transform="translate(94.62,213.7) scale(1.07,1)" font-size="10" text-anchor="middle" stroke="#000" stroke-width="0.15">0.2</text>
<text transform="translate(141.54,213.7) scale(1.07,1)" font-size="10" text-anchor="middle" stroke="#000" stroke-width="0.15">0.4</text>
<text transform="translate(188.46,213.7) scale(1.07,1)" font-size="10" text-anchor="middle" stroke="#000" stroke-width="0.15">0.6</text>
<text transform="translate(235.38,213.7) scale(1.07,1)" font-size="10" text-anchor="middle" stroke="#000" stroke-width="0.15">0.8</text>
<text transform="translate(282.30,213.7) scale(1.07,1)" font-size="10" text-anchor="middle" stroke="#000" stroke-width="0.15">1</text>
<text transform="translate(42.6,205.40) scale(1.07,1)" font-size="10" text-anchor="end" stroke="#000" stroke-width="0.15">−110</text>
<text transform="translate(42.6,168.42) scale(1.07,1)" font-size="10" text-anchor="end" stroke="#000" stroke-width="0.15">−105</text>
<text transform="translate(42.6,131.44) scale(1.07,1)" font-size="10" text-anchor="end" stroke="#000" stroke-width="0.15">−100</text>
<text transform="translate(42.6,94.46) scale(1.07,1)" font-size="10" text-anchor="end" stroke="#000" stroke-width="0.15">−95</text>
<text transform="translate(42.6,57.48) scale(1.07,1)" font-size="10" text-anchor="end" stroke="#000" stroke-width="0.15">−90</text>
<text transform="translate(42.6,20.50) scale(1.07,1)" font-size="10" text-anchor="end" stroke="#000" stroke-width="0.15">−85</text>
<text x="73.50" y="10.80" font-size="12.3" text-anchor="start" stroke="#000" stroke-width="0.2">GPS, BLOCK IIA, D−Accelerations</text>
<text x="121.30" y="229.60" font-size="12.3" text-anchor="start" stroke="#000" stroke-width="0.2">time (rev period)</text>
<text transform="translate(13.9,121.3) rotate(-90)" font-size="12.3" stroke="#000" stroke-width="0.2">nm/s<tspan dy="-6" font-size="8.5">2</tspan></text>
<rect x="184.6" y="20.0" width="94.2" height="75.6" fill="#fff" stroke="#1a1a1a" stroke-width="1.05"/>
<line x1="187.30" y1="27.20" x2="206.40" y2="27.20" stroke="#ff0000" stroke-width="1.6" />
<text y="30.00" font-size="9" stroke="#000" stroke-width="0.22"><tspan x="208.20">box−wing,</tspan><tspan x="250.90">β</tspan><tspan x="256.30" dy="-0.45" font-size="7.6">=</tspan><tspan x="260.60" dy="0.45">10</tspan><tspan x="270.60" dy="-4.1" font-size="7.2" stroke-width="0.1">o</tspan></text>
<line x1="187.30" y1="39.40" x2="206.40" y2="39.40" stroke="#00ff00" stroke-width="1.6" />
<text y="42.20" font-size="9" stroke="#000" stroke-width="0.22"><tspan x="208.20">box−wing,</tspan><tspan x="250.90">β</tspan><tspan x="256.30" dy="-0.45" font-size="7.6">=</tspan><tspan x="260.60" dy="0.45">45</tspan><tspan x="270.60" dy="-4.1" font-size="7.2" stroke-width="0.1">o</tspan></text>
<line x1="187.30" y1="51.60" x2="206.40" y2="51.60" stroke="#0000ff" stroke-width="1.6" />
<text y="54.40" font-size="9" stroke="#000" stroke-width="0.22"><tspan x="208.20">box−wing,</tspan><tspan x="250.90">β</tspan><tspan x="256.30" dy="-0.45" font-size="7.6">=</tspan><tspan x="260.60" dy="0.45">78</tspan><tspan x="270.60" dy="-4.1" font-size="7.2" stroke-width="0.1">o</tspan></text>
<line x1="187.30" y1="63.80" x2="205.50" y2="63.80" stroke="#ff0000" stroke-width="1.4" stroke-dasharray="3.7 1.6 1.3 1.6" stroke-dashoffset="5.3"/>
<text y="66.60" font-size="9" stroke="#000" stroke-width="0.22"><tspan x="208.20">ROCK−T,</tspan><tspan x="248.20">β</tspan><tspan x="253.90" dy="-0.45" font-size="7.6">=</tspan><tspan x="258.30" dy="0.45">10</tspan><tspan x="268.70" dy="-4.1" font-size="7.2" stroke-width="0.1">o</tspan></text>
<line x1="187.30" y1="76.00" x2="205.50" y2="76.00" stroke="#00ff00" stroke-width="1.4" stroke-dasharray="3.7 1.6 1.3 1.6" stroke-dashoffset="5.3"/>
<text y="78.80" font-size="9" stroke="#000" stroke-width="0.22"><tspan x="208.20">ROCK−T,</tspan><tspan x="248.20">β</tspan><tspan x="253.90" dy="-0.45" font-size="7.6">=</tspan><tspan x="258.30" dy="0.45">45</tspan><tspan x="268.70" dy="-4.1" font-size="7.2" stroke-width="0.1">o</tspan></text>
<line x1="187.30" y1="88.20" x2="205.50" y2="88.20" stroke="#0000ff" stroke-width="1.4" stroke-dasharray="3.7 1.6 1.3 1.6" stroke-dashoffset="5.3"/>
<text y="91.00" font-size="9" stroke="#000" stroke-width="0.22"><tspan x="208.20">ROCK−T,</tspan><tspan x="248.20">β</tspan><tspan x="253.90" dy="-0.45" font-size="7.6">=</tspan><tspan x="258.30" dy="0.45">78</tspan><tspan x="268.70" dy="-4.1" font-size="7.2" stroke-width="0.1">o</tspan></text>
<path d="M340.20,201.7v-2.5M340.20,16.9v2.5M379.25,201.7v-2.5M379.25,16.9v2.5M418.30,201.7v-2.5M418.30,16.9v2.5M457.35,201.7v-2.5M457.35,16.9v2.5M496.40,201.7v-2.5M496.40,16.9v2.5M535.45,201.7v-2.5M535.45,16.9v2.5M574.50,201.7v-2.5M574.50,16.9v2.5M340.2,201.70h2.5M574.5,201.70h-2.5M340.2,164.74h2.5M574.5,164.74h-2.5M340.2,127.78h2.5M574.5,127.78h-2.5M340.2,90.82h2.5M574.5,90.82h-2.5M340.2,53.86h2.5M574.5,53.86h-2.5M340.2,16.90h2.5M574.5,16.90h-2.5" stroke="#000" stroke-width="1" fill="none"/>
<rect x="340.2" y="16.9" width="234.30" height="184.80" fill="none" stroke="#000" stroke-width="1.2"/>
<g clip-path="url(#cTR)"><polyline points="442.96,201.70 437.82,9.52 433.18,201.70 407.53,201.70 405.28,198.74 403.18,201.70 390.26,201.70 389.01,130.32 387.82,201.70 373.29,201.70 372.74,169.91 372.21,201.70 364.92,201.70 364.61,186.75 364.30,201.70 359.92,201.70 359.72,200.68 359.53,201.70 356.61,201.70 356.47,196.84 356.34,201.70 354.25,201.70 354.15,199.62 354.05,201.70 352.48,201.70 352.40,198.49 352.33,201.70 351.11,201.70 351.05,200.88 350.99,201.70 350.01,201.70 349.96,199.50 349.91,201.70 349.12,201.70 349.07,200.28 349.03,201.70 348.37,201.70 348.34,200.55 348.30,201.70 347.74,201.70 347.71,201.30 347.68,201.70 347.20,201.70 347.17,200.91 347.15,201.70 346.73,201.70 346.71,200.97 346.69,201.70 346.32,201.70 346.30,200.97 346.28,201.70 345.96,201.70 345.94,201.23 345.93,201.70 345.64,201.70 345.62,201.22 345.61,201.70 345.35,201.70 345.34,201.29 345.32,201.70 345.09,201.70 345.08,201.28 345.07,201.70 344.86,201.70 344.85,201.39 344.84,201.70 344.65,201.70 344.64,201.37 344.63,201.70 344.45,201.70 344.44,201.41 344.44,201.70 344.28,201.70 344.27,201.41 344.26,201.70 344.11,201.70 344.10,201.47 344.10,201.70 343.96,201.70 343.95,201.45 343.95,201.70 343.82,201.70 343.82,201.49 343.81,201.70 343.69,201.70 343.69,201.49 343.68,201.70 343.57,201.70 343.57,201.51 343.56,201.70 343.46,201.70 343.45,201.52 343.45,201.70 343.35,201.70 343.35,201.53 343.34,201.70 343.26,201.70 343.25,201.54 343.25,201.70 343.16,201.70 343.16,201.55 343.15,201.70 343.08,201.70 343.07,201.56 343.07,201.70 342.99,201.70 342.99,201.57 342.99,201.70 342.92,201.70 342.91,201.57 342.91,201.70 342.84,201.70 342.84,201.58 342.83,201.70 342.77,201.70 342.77,201.58 342.77,201.70 342.71,201.70 342.70,201.59 342.70,201.70 342.64,201.70 342.64,201.59 342.64,201.70 342.58,201.70 342.58,201.60 342.58,201.70 342.53,201.70 342.52,201.60 342.52,201.70 342.47,201.70 342.47,201.61 342.47,201.70 342.42,201.70 342.42,201.61 342.42,201.70 342.37,201.70 342.37,201.61 342.37,201.70 342.32,201.70 342.32,201.61 342.32,201.70 342.28,201.70 342.28,201.62 342.27,201.70 342.24,201.70 342.23,201.62 342.23,201.70 342.19,201.70 342.19,201.62 342.19,201.70 342.15,201.70 342.15,201.63 342.15,201.70 341.18,201.70" fill="none" stroke="#ff0000" stroke-width="1.6" stroke-linejoin="round" /><polyline points="557.14,201.70 535.45,198.56 517.70,201.70 442.96,201.70 437.82,166.22 433.18,201.70 390.26,201.70 389.01,170.65 387.82,201.70 373.29,201.70 372.74,193.89 372.21,201.70 364.92,201.70 364.61,194.92 364.30,201.70 359.92,201.70 359.72,196.84 359.53,201.70 356.61,201.70 356.47,198.21 356.34,201.70 354.25,201.70 354.15,198.83 354.05,201.70 352.48,201.70 352.40,199.65 352.33,201.70 351.11,201.70 351.05,200.05 350.99,201.70 350.01,201.70 349.96,200.37 349.91,201.70 349.12,201.70 349.07,200.61 349.03,201.70 348.37,201.70 348.34,200.75 348.30,201.70 347.74,201.70 347.71,200.89 347.68,201.70 347.20,201.70 347.17,201.00 347.15,201.70 346.73,201.70 346.71,201.09 346.69,201.70 346.32,201.70 346.30,201.16 346.28,201.70 345.96,201.70 345.94,201.23 345.93,201.70 345.64,201.70 345.62,201.27 345.61,201.70 345.35,201.70 345.34,201.32 345.32,201.70 345.09,201.70 345.08,201.35 345.07,201.70 344.86,201.70 344.85,201.38 344.84,201.70 344.65,201.70 344.64,201.41 344.63,201.70 344.45,201.70 344.44,201.43 344.44,201.70 344.28,201.70 344.27,201.45 344.26,201.70 344.11,201.70 344.10,201.47 344.10,201.70 343.96,201.70 343.95,201.49 343.95,201.70 343.82,201.70 343.82,201.50 343.81,201.70 343.69,201.70 343.69,201.52 343.68,201.70 343.57,201.70 343.57,201.53 343.56,201.70 343.46,201.70 343.45,201.54 343.45,201.70 343.35,201.70 343.35,201.55 343.34,201.70 343.26,201.70 343.25,201.56 343.25,201.70 343.16,201.70 343.16,201.56 343.15,201.70 343.08,201.70 343.07,201.57 343.07,201.70 342.99,201.70 342.99,201.58 342.99,201.70 342.92,201.70 342.91,201.58 342.91,201.70 342.84,201.70 342.84,201.59 342.83,201.70 342.77,201.70 342.77,201.59 342.77,201.70 342.71,201.70 342.70,201.60 342.70,201.70 342.64,201.70 342.64,201.60 342.64,201.70 342.58,201.70 342.58,201.61 342.58,201.70 342.53,201.70 342.52,201.61 342.52,201.70 342.47,201.70 342.47,201.61 342.47,201.70 342.42,201.70 342.42,201.62 342.42,201.70 342.37,201.70 342.37,201.62 342.37,201.70 342.32,201.70 342.32,201.62 342.32,201.70 341.18,201.70" fill="none" stroke="#00ff00" stroke-width="1.6" stroke-linejoin="round" /><polyline points="557.14,201.70 535.45,199.85 517.70,201.70 442.96,201.70 437.82,175.59 433.18,201.70 390.26,201.70 389.01,193.39 387.82,201.70 373.29,201.70 372.74,198.72 372.21,201.70 364.92,201.70 364.61,199.94 364.30,201.70 359.92,201.70 359.72,200.43 359.53,201.70 356.61,201.70 356.47,200.80 356.34,201.70 354.25,201.70 354.15,201.08 354.05,201.70 352.48,201.70 352.40,201.22 352.33,201.70 351.11,201.70 351.05,201.32 350.99,201.70 350.01,201.70 349.96,201.39 349.91,201.70 349.12,201.70 349.07,201.44 349.03,201.70 348.37,201.70 348.34,201.48 348.30,201.70 347.74,201.70 347.71,201.51 347.68,201.70 347.20,201.70 347.17,201.54 347.15,201.70 346.73,201.70 346.71,201.56 346.69,201.70 346.32,201.70 346.30,201.58 346.28,201.70 345.96,201.70 345.94,201.59 345.93,201.70 345.64,201.70 345.62,201.60 345.61,201.70 345.35,201.70 345.34,201.61 345.32,201.70 345.09,201.70 345.08,201.62 345.07,201.70 341.18,201.70" fill="none" stroke="#0000ff" stroke-width="1.6" stroke-linejoin="round" /><polyline points="442.96,201.70 437.82,68.79 433.18,201.70 390.26,201.70 389.01,185.82 387.82,201.70 373.29,201.70 372.74,170.95 372.21,201.70 364.92,201.70 364.61,187.99 364.30,201.70 359.92,201.70 359.72,201.12 359.53,201.70 356.61,201.70 356.47,201.35 356.34,201.70 354.25,201.70 354.15,200.36 354.05,201.70 352.48,201.70 352.40,201.33 352.33,201.70 351.11,201.70 351.05,200.78 350.99,201.70 350.01,201.70 349.96,200.97 349.91,201.70 349.12,201.70 349.07,200.13 349.03,201.70 348.37,201.70 348.34,201.10 348.30,201.70 347.74,201.70 347.71,201.46 347.68,201.70 347.20,201.70 347.17,201.60 347.15,201.70 346.73,201.70 346.71,201.21 346.69,201.70 346.32,201.70 346.30,201.48 346.28,201.70 345.64,201.70 345.62,201.58 345.61,201.70 345.35,201.70 345.34,201.54 345.32,201.70 345.09,201.70 345.08,201.59 345.07,201.70 344.86,201.70 344.85,201.59 344.84,201.70 344.65,201.70 344.64,201.58 344.63,201.70 344.45,201.70 344.44,201.60 344.44,201.70 344.28,201.70 344.27,201.62 344.26,201.70 341.18,201.70" fill="none" stroke="#ff0000" stroke-width="1.4" stroke-linejoin="round" stroke-dasharray="3.7 1.6 1.3 1.6"/><polyline points="442.96,201.70 437.82,130.37 433.18,201.70 390.26,201.70 389.01,177.20 387.82,201.70 373.29,201.70 372.74,187.62 372.21,201.70 364.92,201.70 364.61,200.67 364.30,201.70 359.92,201.70 359.72,201.32 359.53,201.70 356.61,201.70 356.47,199.68 356.34,201.70 354.25,201.70 354.15,200.32 354.05,201.70 352.48,201.70 352.40,201.14 352.33,201.70 351.11,201.70 351.05,201.33 350.99,201.70 350.01,201.70 349.96,201.51 349.91,201.70 349.12,201.70 349.07,200.89 349.03,201.70 348.37,201.70 348.34,201.32 348.30,201.70 347.20,201.70 347.17,201.42 347.15,201.70 346.73,201.70 346.71,201.37 346.69,201.70 346.32,201.70 346.30,201.56 346.28,201.70 345.96,201.70 345.94,201.57 345.93,201.70 345.64,201.70 345.62,201.57 345.61,201.70 345.35,201.70 345.34,201.55 345.32,201.70 345.09,201.70 345.08,201.58 345.07,201.70 344.86,201.70 344.85,201.60 344.84,201.70 344.65,201.70 344.64,201.62 344.63,201.70 344.45,201.70 344.44,201.61 344.44,201.70 344.28,201.70 344.27,201.62 344.26,201.70 344.11,201.70 344.10,201.62 344.10,201.70 341.18,201.70" fill="none" stroke="#00ff00" stroke-width="1.4" stroke-linejoin="round" stroke-dasharray="3.7 1.6 1.3 1.6"/><polyline points="442.96,201.70 437.82,191.22 433.18,201.70 390.26,201.70 389.01,200.26 387.82,201.70 380.05,201.70 379.25,200.59 378.48,201.70 373.29,201.70 372.74,201.13 372.21,201.70 364.92,201.70 364.61,201.40 364.30,201.70 359.92,201.70 359.72,201.50 359.53,201.70 356.61,201.70 356.47,201.57 356.34,201.70 354.25,201.70 354.15,201.60 354.05,201.70 352.48,201.70 352.40,201.62 352.33,201.70 341.18,201.70" fill="none" stroke="#0000ff" stroke-width="1.4" stroke-linejoin="round" stroke-dasharray="3.7 1.6 1.3 1.6"/></g>
<text transform="translate(341.10,213.7) scale(1.07,1)" font-size="10" text-anchor="middle" stroke="#000" stroke-width="0.15">0</text>
<text transform="translate(380.15,213.7) scale(1.07,1)" font-size="10" text-anchor="middle" stroke="#000" stroke-width="0.15">0.2</text>
<text transform="translate(419.20,213.7) scale(1.07,1)" font-size="10" text-anchor="middle" stroke="#000" stroke-width="0.15">0.4</text>
<text transform="translate(458.25,213.7) scale(1.07,1)" font-size="10" text-anchor="middle" stroke="#000" stroke-width="0.15">0.6</text>
<text transform="translate(497.30,213.7) scale(1.07,1)" font-size="10" text-anchor="middle" stroke="#000" stroke-width="0.15">0.8</text>
<text transform="translate(536.35,213.7) scale(1.07,1)" font-size="10" text-anchor="middle" stroke="#000" stroke-width="0.15">1</text>
<text transform="translate(575.40,213.7) scale(1.07,1)" font-size="10" text-anchor="middle" stroke="#000" stroke-width="0.15">1.2</text>
<text transform="translate(336.9,205.30) scale(1.07,1)" font-size="10" text-anchor="end" stroke="#000" stroke-width="0.15">0</text>
<text transform="translate(336.9,168.34) scale(1.07,1)" font-size="10" text-anchor="end" stroke="#000" stroke-width="0.15">1</text>
<text transform="translate(336.9,131.38) scale(1.07,1)" font-size="10" text-anchor="end" stroke="#000" stroke-width="0.15">2</text>
<text transform="translate(336.9,94.42) scale(1.07,1)" font-size="10" text-anchor="end" stroke="#000" stroke-width="0.15">3</text>
<text transform="translate(336.9,57.46) scale(1.07,1)" font-size="10" text-anchor="end" stroke="#000" stroke-width="0.15">4</text>
<text transform="translate(336.9,20.50) scale(1.07,1)" font-size="10" text-anchor="end" stroke="#000" stroke-width="0.15">5</text>
<text x="366.80" y="10.80" font-size="12.3" text-anchor="start" stroke="#000" stroke-width="0.2">GPS, BLOCK IIA, D−Accelerations</text>
<text x="428.90" y="229.60" font-size="12.3" text-anchor="start" stroke="#000" stroke-width="0.2">rev period</text>
<text transform="translate(322.1,120.6) rotate(-90)" font-size="12.3" stroke="#000" stroke-width="0.2">nm/s<tspan dy="-6" font-size="8.5">2</tspan></text>
<rect x="477.9" y="19.9" width="94.2" height="75.6" fill="#fff" stroke="#1a1a1a" stroke-width="1.05"/>
<line x1="480.60" y1="27.10" x2="499.70" y2="27.10" stroke="#ff0000" stroke-width="1.6" />
<text y="29.90" font-size="9" stroke="#000" stroke-width="0.22"><tspan x="501.50">box−wing,</tspan><tspan x="544.20">β</tspan><tspan x="549.60" dy="-0.45" font-size="7.6">=</tspan><tspan x="553.90" dy="0.45">10</tspan><tspan x="563.90" dy="-4.1" font-size="7.2" stroke-width="0.1">o</tspan></text>
<line x1="480.60" y1="39.30" x2="499.70" y2="39.30" stroke="#00ff00" stroke-width="1.6" />
<text y="42.10" font-size="9" stroke="#000" stroke-width="0.22"><tspan x="501.50">box−wing,</tspan><tspan x="544.20">β</tspan><tspan x="549.60" dy="-0.45" font-size="7.6">=</tspan><tspan x="553.90" dy="0.45">45</tspan><tspan x="563.90" dy="-4.1" font-size="7.2" stroke-width="0.1">o</tspan></text>
<line x1="480.60" y1="51.50" x2="499.70" y2="51.50" stroke="#0000ff" stroke-width="1.6" />
<text y="54.30" font-size="9" stroke="#000" stroke-width="0.22"><tspan x="501.50">box−wing,</tspan><tspan x="544.20">β</tspan><tspan x="549.60" dy="-0.45" font-size="7.6">=</tspan><tspan x="553.90" dy="0.45">78</tspan><tspan x="563.90" dy="-4.1" font-size="7.2" stroke-width="0.1">o</tspan></text>
<line x1="480.60" y1="63.70" x2="498.80" y2="63.70" stroke="#ff0000" stroke-width="1.4" stroke-dasharray="3.7 1.6 1.3 1.6" stroke-dashoffset="5.3"/>
<text y="66.50" font-size="9" stroke="#000" stroke-width="0.22"><tspan x="501.50">ROCK−T,</tspan><tspan x="541.50">β</tspan><tspan x="547.20" dy="-0.45" font-size="7.6">=</tspan><tspan x="551.60" dy="0.45">10</tspan><tspan x="562.00" dy="-4.1" font-size="7.2" stroke-width="0.1">o</tspan></text>
<line x1="480.60" y1="75.90" x2="498.80" y2="75.90" stroke="#00ff00" stroke-width="1.4" stroke-dasharray="3.7 1.6 1.3 1.6" stroke-dashoffset="5.3"/>
<text y="78.70" font-size="9" stroke="#000" stroke-width="0.22"><tspan x="501.50">ROCK−T,</tspan><tspan x="541.50">β</tspan><tspan x="547.20" dy="-0.45" font-size="7.6">=</tspan><tspan x="551.60" dy="0.45">45</tspan><tspan x="562.00" dy="-4.1" font-size="7.2" stroke-width="0.1">o</tspan></text>
<line x1="480.60" y1="88.10" x2="498.80" y2="88.10" stroke="#0000ff" stroke-width="1.4" stroke-dasharray="3.7 1.6 1.3 1.6" stroke-dashoffset="5.3"/>
<text y="90.90" font-size="9" stroke="#000" stroke-width="0.22"><tspan x="501.50">ROCK−T,</tspan><tspan x="541.50">β</tspan><tspan x="547.20" dy="-0.45" font-size="7.6">=</tspan><tspan x="551.60" dy="0.45">78</tspan><tspan x="562.00" dy="-4.1" font-size="7.2" stroke-width="0.1">o</tspan></text>
<path d="M46.80,456.4v-2.5M46.80,271.6v2.5M93.74,456.4v-2.5M93.74,271.6v2.5M140.68,456.4v-2.5M140.68,271.6v2.5M187.62,456.4v-2.5M187.62,271.6v2.5M234.56,456.4v-2.5M234.56,271.6v2.5M281.50,456.4v-2.5M281.50,271.6v2.5M46.8,456.40h2.5M281.5,456.40h-2.5M46.8,433.30h2.5M281.5,433.30h-2.5M46.8,410.20h2.5M281.5,410.20h-2.5M46.8,387.10h2.5M281.5,387.10h-2.5M46.8,364.00h2.5M281.5,364.00h-2.5M46.8,340.90h2.5M281.5,340.90h-2.5M46.8,317.80h2.5M281.5,317.80h-2.5M46.8,294.70h2.5M281.5,294.70h-2.5M46.8,271.60h2.5M281.5,271.60h-2.5" stroke="#000" stroke-width="1" fill="none"/>
<rect x="46.8" y="271.6" width="234.70" height="184.80" fill="none" stroke="#000" stroke-width="1.2"/>
<g clip-path="url(#cBL)"><polyline points="46.80,364.00 47.09,365.49 47.39,366.95 47.68,368.39 47.97,369.79 48.27,371.17 48.56,372.52 48.85,373.84 49.15,375.14 49.44,376.42 49.73,377.67 50.03,378.89 50.32,380.10 50.61,381.27 50.91,382.43 51.20,383.57 51.49,384.68 51.79,385.78 52.08,386.85 52.37,387.91 52.67,388.95 52.96,389.97 53.25,390.97 53.55,391.95 53.84,392.92 54.13,393.87 54.43,394.80 54.72,395.71 55.01,396.61 55.31,397.49 55.60,398.35 55.89,399.19 56.19,400.01 56.48,400.82 56.77,401.61 57.07,402.39 57.36,403.14 57.65,403.88 57.95,404.60 58.24,405.31 58.53,405.99 58.83,406.66 59.12,407.32 59.42,407.95 59.71,408.57 60.00,409.16 60.30,409.74 60.59,410.30 60.88,410.84 61.18,411.36 61.47,411.86 61.76,412.34 62.06,412.80 62.35,413.24 62.64,413.65 62.94,414.05 63.23,414.43 63.52,414.78 63.82,415.11 64.11,415.42 64.40,415.71 64.70,415.98 64.99,416.23 65.28,416.45 65.58,416.66 65.87,416.85 66.16,417.01 66.46,417.15 66.75,417.28 67.04,417.38 67.34,417.47 67.63,417.53 67.92,417.57 68.22,417.60 68.51,417.60 68.80,417.58 69.10,417.55 69.39,417.50 69.68,417.43 69.98,417.34 70.27,417.23 70.56,417.11 70.86,416.98 71.15,416.83 71.44,416.66 71.74,416.48 72.03,416.29 72.32,416.08 72.62,415.86 72.91,415.63 73.20,415.38 73.50,415.13 73.79,414.86 74.08,414.58 74.38,414.29 74.67,413.99 74.96,413.67 75.26,413.34 75.55,412.99 75.84,412.63 76.14,412.25 76.43,411.86 76.72,411.44 77.02,411.01 77.31,410.57 77.60,410.10 77.90,409.61 78.19,409.11 78.48,408.58 78.78,408.04 79.07,407.47 79.36,406.89 79.66,406.29 79.95,405.67 80.24,405.05 80.54,404.41 80.83,403.77 81.12,403.12 81.42,402.46 81.71,401.80 82.00,401.14 82.30,400.48 82.59,399.82 82.89,399.17 83.18,398.52 83.47,397.88 83.77,397.24 84.06,396.62 84.35,396.01 84.65,395.40 84.94,394.81 85.23,394.22 85.53,393.64 85.82,393.06 86.11,392.49 86.41,391.92 86.70,391.36 86.99,390.80 87.29,390.25 87.58,389.69 87.87,389.14 88.17,388.59 88.46,388.03 88.75,387.48 89.05,386.93 89.34,386.38 89.63,385.83 89.93,385.28 90.22,384.74 90.51,384.20 90.81,383.67 91.10,383.14 91.39,382.62 91.69,382.11 91.98,381.60 92.27,381.11 92.57,380.62 92.86,380.14 93.15,379.67 93.45,379.22 93.74,378.77 94.03,378.34 94.33,377.93 94.62,377.52 94.91,377.13 95.21,376.76 95.50,376.40 95.79,376.05 96.09,375.71 96.38,375.39 96.67,375.08 96.97,374.78 97.26,374.49 97.55,374.22 97.85,373.96 98.14,373.70 98.43,373.46 98.73,373.24 99.02,373.02 99.31,372.81 99.61,372.61 99.90,372.42 100.19,372.25 100.49,372.08 100.78,371.92 101.07,371.77 101.37,371.63 101.66,371.50 101.95,371.38 102.25,371.27 102.54,371.17 102.83,371.08 103.13,371.00 103.42,370.93 103.71,370.87 104.01,370.82 104.30,370.77 104.59,370.74 104.89,370.72 105.18,370.70 105.47,370.70 105.77,370.70 106.06,370.72 106.36,370.74 106.65,370.77 106.94,370.82 107.24,370.87 107.53,370.93 107.82,371.00 108.12,371.08 108.41,371.17 108.70,371.27 109.00,371.38 109.29,371.50 109.58,371.63 109.88,371.77 110.17,371.92 110.46,372.08 110.76,372.25 111.05,372.42 111.34,372.61 111.64,372.81 111.93,373.02 112.22,373.24 112.52,373.46 112.81,373.70 113.10,373.96 113.40,374.22 113.69,374.49 113.98,374.78 114.28,375.08 114.57,375.39 114.86,375.71 115.16,376.05 115.45,376.40 115.74,376.76 116.04,377.13 116.33,377.52 116.62,377.93 116.92,378.34 117.21,378.77 117.50,379.22 117.80,379.67 118.09,380.14 118.38,380.62 118.68,381.11 118.97,381.60 119.26,382.11 119.56,382.62 119.85,383.14 120.14,383.67 120.44,384.20 120.73,384.74 121.02,385.28 121.32,385.83 121.61,386.38 121.90,386.93 122.20,387.48 122.49,388.03 122.78,388.59 123.08,389.14 123.37,389.69 123.66,390.25 123.96,390.80 124.25,391.36 124.54,391.92 124.84,392.49 125.13,393.06 125.42,393.64 125.72,394.22 126.01,394.81 126.30,395.40 126.60,396.01 126.89,396.62 127.18,397.24 127.48,397.88 127.77,398.52 128.06,399.17 128.36,399.82 128.65,400.48 128.94,401.14 129.24,401.80 129.53,402.46 129.83,403.12 130.12,403.77 130.41,404.41 130.71,405.05 131.00,405.67 131.29,406.29 131.59,406.89 131.88,407.47 132.17,408.04 132.47,408.58 132.76,409.11 133.05,409.61 133.35,410.10 133.64,410.57 133.93,411.01 134.23,411.44 134.52,411.86 134.81,412.25 135.11,412.63 135.40,412.99 135.69,413.34 135.99,413.67 136.28,413.99 136.57,414.29 136.87,414.58 137.16,414.86 137.45,415.13 137.75,415.38 138.04,415.63 138.33,415.86 138.63,416.08 138.92,416.29 139.21,416.48 139.51,416.66 139.80,416.83 140.09,416.98 140.39,417.11 140.68,417.23 140.97,417.34 141.27,417.43 141.56,417.50 141.85,417.55 142.15,417.58 142.44,417.60 142.73,417.60 143.03,417.57 143.32,417.53 143.61,417.47 143.91,417.38 144.20,417.28 144.49,417.15 144.79,417.01 145.08,416.85 145.37,416.66 145.67,416.45 145.96,416.23 146.25,415.98 146.55,415.71 146.84,415.42 147.13,415.11 147.43,414.78 147.72,414.43 148.01,414.05 148.31,413.65 148.60,413.24 148.89,412.80 149.19,412.34 149.48,411.86 149.77,411.36 150.07,410.84 150.36,410.30 150.65,409.74 150.95,409.16 151.24,408.57 151.53,407.95 151.83,407.32 152.12,406.66 152.41,405.99 152.71,405.31 153.00,404.60 153.30,403.88 153.59,403.14 153.88,402.39 154.18,401.61 154.47,400.82 154.76,400.01 155.06,399.19 155.35,398.35 155.64,397.49 155.94,396.61 156.23,395.71 156.52,394.80 156.82,393.87 157.11,392.92 157.40,391.95 157.70,390.97 157.99,389.97 158.28,388.95 158.58,387.91 158.87,386.85 159.16,385.78 159.46,384.68 159.75,383.57 160.04,382.43 160.34,381.27 160.63,380.10 160.92,378.89 161.22,377.67 161.51,376.42 161.80,375.14 162.10,373.84 162.39,372.52 162.68,371.17 162.98,369.79 163.27,368.39 163.56,366.95 163.86,365.49 164.15,364.00 164.44,362.51 164.74,361.05 165.03,359.61 165.32,358.21 165.62,356.83 165.91,355.48 166.20,354.16 166.50,352.86 166.79,351.58 167.08,350.33 167.38,349.11 167.67,347.90 167.96,346.73 168.26,345.57 168.55,344.43 168.84,343.32 169.14,342.22 169.43,341.15 169.72,340.09 170.02,339.05 170.31,338.03 170.60,337.03 170.90,336.05 171.19,335.08 171.48,334.13 171.78,333.20 172.07,332.29 172.36,331.39 172.66,330.51 172.95,329.65 173.24,328.81 173.54,327.99 173.83,327.18 174.12,326.39 174.42,325.61 174.71,324.86 175.00,324.12 175.30,323.40 175.59,322.69 175.88,322.01 176.18,321.34 176.47,320.68 176.77,320.05 177.06,319.43 177.35,318.84 177.65,318.26 177.94,317.70 178.23,317.16 178.53,316.64 178.82,316.14 179.11,315.66 179.41,315.20 179.70,314.76 179.99,314.35 180.29,313.95 180.58,313.57 180.87,313.22 181.17,312.89 181.46,312.58 181.75,312.29 182.05,312.02 182.34,311.77 182.63,311.55 182.93,311.34 183.22,311.15 183.51,310.99 183.81,310.85 184.10,310.72 184.39,310.62 184.69,310.53 184.98,310.47 185.27,310.43 185.57,310.40 185.86,310.40 186.15,310.42 186.45,310.45 186.74,310.50 187.03,310.57 187.33,310.66 187.62,310.77 187.91,310.89 188.21,311.02 188.50,311.17 188.79,311.34 189.09,311.52 189.38,311.71 189.67,311.92 189.97,312.14 190.26,312.37 190.55,312.62 190.85,312.87 191.14,313.14 191.43,313.42 191.73,313.71 192.02,314.01 192.31,314.33 192.61,314.66 192.90,315.01 193.19,315.37 193.49,315.75 193.78,316.14 194.07,316.56 194.37,316.99 194.66,317.43 194.95,317.90 195.25,318.39 195.54,318.89 195.83,319.42 196.13,319.96 196.42,320.53 196.71,321.11 197.01,321.71 197.30,322.33 197.59,322.95 197.89,323.59 198.18,324.23 198.47,324.88 198.77,325.54 199.06,326.20 199.36,326.86 199.65,327.52 199.94,328.18 200.24,328.83 200.53,329.48 200.82,330.12 201.12,330.76 201.41,331.38 201.70,331.99 202.00,332.60 202.29,333.19 202.58,333.78 202.88,334.36 203.17,334.94 203.46,335.51 203.76,336.08 204.05,336.64 204.34,337.20 204.64,337.75 204.93,338.31 205.22,338.86 205.52,339.41 205.81,339.97 206.10,340.52 206.40,341.07 206.69,341.62 206.98,342.17 207.28,342.72 207.57,343.26 207.86,343.80 208.16,344.33 208.45,344.86 208.74,345.38 209.04,345.89 209.33,346.40 209.62,346.89 209.92,347.38 210.21,347.86 210.50,348.33 210.80,348.78 211.09,349.23 211.38,349.66 211.68,350.07 211.97,350.48 212.26,350.87 212.56,351.24 212.85,351.60 213.14,351.95 213.44,352.29 213.73,352.61 214.02,352.92 214.32,353.22 214.61,353.51 214.90,353.78 215.20,354.04 215.49,354.30 215.78,354.54 216.08,354.76 216.37,354.98 216.66,355.19 216.96,355.39 217.25,355.58 217.54,355.75 217.84,355.92 218.13,356.08 218.42,356.23 218.72,356.37 219.01,356.50 219.30,356.62 219.60,356.73 219.89,356.83 220.18,356.92 220.48,357.00 220.77,357.07 221.06,357.13 221.36,357.18 221.65,357.23 221.94,357.26 222.24,357.28 222.53,357.30 222.82,357.30 223.12,357.30 223.41,357.28 223.71,357.26 224.00,357.23 224.29,357.18 224.59,357.13 224.88,357.07 225.17,357.00 225.47,356.92 225.76,356.83 226.05,356.73 226.35,356.62 226.64,356.50 226.93,356.37 227.23,356.23 227.52,356.08 227.81,355.92 228.11,355.75 228.40,355.58 228.69,355.39 228.99,355.19 229.28,354.98 229.57,354.76 229.87,354.54 230.16,354.30 230.45,354.04 230.75,353.78 231.04,353.51 231.33,353.22 231.63,352.92 231.92,352.61 232.21,352.29 232.51,351.95 232.80,351.60 233.09,351.24 233.39,350.87 233.68,350.48 233.97,350.07 234.27,349.66 234.56,349.23 234.85,348.78 235.15,348.33 235.44,347.86 235.73,347.38 236.03,346.89 236.32,346.40 236.61,345.89 236.91,345.38 237.20,344.86 237.49,344.33 237.79,343.80 238.08,343.26 238.37,342.72 238.67,342.17 238.96,341.62 239.25,341.07 239.55,340.52 239.84,339.97 240.13,339.41 240.43,338.86 240.72,338.31 241.01,337.75 241.31,337.20 241.60,336.64 241.89,336.08 242.19,335.51 242.48,334.94 242.77,334.36 243.07,333.78 243.36,333.19 243.65,332.60 243.95,331.99 244.24,331.38 244.53,330.76 244.83,330.12 245.12,329.48 245.41,328.83 245.71,328.18 246.00,327.52 246.29,326.86 246.59,326.20 246.88,325.54 247.18,324.88 247.47,324.23 247.76,323.59 248.06,322.95 248.35,322.33 248.64,321.71 248.94,321.11 249.23,320.53 249.52,319.96 249.82,319.42 250.11,318.89 250.40,318.39 250.70,317.90 250.99,317.43 251.28,316.99 251.58,316.56 251.87,316.14 252.16,315.75 252.46,315.37 252.75,315.01 253.04,314.66 253.34,314.33 253.63,314.01 253.92,313.71 254.22,313.42 254.51,313.14 254.80,312.87 255.10,312.62 255.39,312.37 255.68,312.14 255.98,311.92 256.27,311.71 256.56,311.52 256.86,311.34 257.15,311.17 257.44,311.02 257.74,310.89 258.03,310.77 258.32,310.66 258.62,310.57 258.91,310.50 259.20,310.45 259.50,310.42 259.79,310.40 260.08,310.40 260.38,310.43 260.67,310.47 260.96,310.53 261.26,310.62 261.55,310.72 261.84,310.85 262.14,310.99 262.43,311.15 262.72,311.34 263.02,311.55 263.31,311.77 263.60,312.02 263.90,312.29 264.19,312.58 264.48,312.89 264.78,313.22 265.07,313.57 265.36,313.95 265.66,314.35 265.95,314.76 266.24,315.20 266.54,315.66 266.83,316.14 267.12,316.64 267.42,317.16 267.71,317.70 268.00,318.26 268.30,318.84 268.59,319.43 268.88,320.05 269.18,320.68 269.47,321.34 269.76,322.01 270.06,322.69 270.35,323.40 270.65,324.12 270.94,324.86 271.23,325.61 271.53,326.39 271.82,327.18 272.11,327.99 272.41,328.81 272.70,329.65 272.99,330.51 273.29,331.39 273.58,332.29 273.87,333.20 274.17,334.13 274.46,335.08 274.75,336.05 275.05,337.03 275.34,338.03 275.63,339.05 275.93,340.09 276.22,341.15 276.51,342.22 276.81,343.32 277.10,344.43 277.39,345.57 277.69,346.73 277.98,347.90 278.27,349.11 278.57,350.33 278.86,351.58 279.15,352.86 279.45,354.16 279.74,355.48 280.03,356.83 280.33,358.21 280.62,359.61 280.91,361.05 281.21,362.51 281.50,364.00" fill="none" stroke="#ff0000" stroke-width="1.6" stroke-linejoin="round" /><polyline points="46.80,364.00 47.09,365.33 47.39,366.60 47.68,367.81 47.97,368.97 48.27,370.07 48.56,371.12 48.85,372.13 49.15,373.08 49.44,374.00 49.73,374.88 50.03,375.72 50.32,376.52 50.61,377.30 50.91,378.04 51.20,378.77 51.49,379.47 51.79,380.15 52.08,380.81 52.37,381.46 52.67,382.10 52.96,382.73 53.25,383.36 53.55,383.98 53.84,384.61 54.13,385.23 54.43,385.87 54.72,386.51 55.01,387.16 55.31,387.83 55.60,388.50 55.89,389.19 56.19,389.88 56.48,390.58 56.77,391.29 57.07,392.00 57.36,392.71 57.65,393.43 57.95,394.14 58.24,394.86 58.53,395.58 58.83,396.30 59.12,397.01 59.42,397.71 59.71,398.42 60.00,399.11 60.30,399.80 60.59,400.48 60.88,401.15 61.18,401.81 61.47,402.46 61.76,403.09 62.06,403.71 62.35,404.31 62.64,404.90 62.94,405.47 63.23,406.02 63.52,406.55 63.82,407.06 64.11,407.56 64.40,408.04 64.70,408.50 64.99,408.94 65.28,409.37 65.58,409.78 65.87,410.17 66.16,410.55 66.46,410.92 66.75,411.27 67.04,411.60 67.34,411.92 67.63,412.23 67.92,412.53 68.22,412.81 68.51,413.08 68.80,413.34 69.10,413.58 69.39,413.82 69.68,414.04 69.98,414.25 70.27,414.46 70.56,414.65 70.86,414.83 71.15,415.01 71.44,415.17 71.74,415.33 72.03,415.48 72.32,415.62 72.62,415.75 72.91,415.87 73.20,415.99 73.50,416.10 73.79,416.21 74.08,416.31 74.38,416.40 74.67,416.49 74.96,416.57 75.26,416.65 75.55,416.72 75.84,416.79 76.14,416.86 76.43,416.92 76.72,416.97 77.02,417.03 77.31,417.07 77.60,417.12 77.90,417.16 78.19,417.20 78.48,417.24 78.78,417.27 79.07,417.30 79.36,417.33 79.66,417.36 79.95,417.39 80.24,417.41 80.54,417.43 80.83,417.45 81.12,417.47 81.42,417.48 81.71,417.49 82.00,417.49 82.30,417.49 82.59,417.49 82.89,417.48 83.18,417.47 83.47,417.45 83.77,417.43 84.06,417.40 84.35,417.36 84.65,417.32 84.94,417.27 85.23,417.22 85.53,417.16 85.82,417.10 86.11,417.03 86.41,416.96 86.70,416.88 86.99,416.80 87.29,416.72 87.58,416.64 87.87,416.56 88.17,416.47 88.46,416.38 88.75,416.29 89.05,416.21 89.34,416.12 89.63,416.03 89.93,415.94 90.22,415.85 90.51,415.77 90.81,415.68 91.10,415.59 91.39,415.50 91.69,415.41 91.98,415.32 92.27,415.23 92.57,415.14 92.86,415.04 93.15,414.95 93.45,414.85 93.74,414.76 94.03,414.66 94.33,414.56 94.62,414.46 94.91,414.36 95.21,414.25 95.50,414.15 95.79,414.04 96.09,413.93 96.38,413.83 96.67,413.72 96.97,413.61 97.26,413.50 97.55,413.40 97.85,413.29 98.14,413.19 98.43,413.09 98.73,412.99 99.02,412.89 99.31,412.80 99.61,412.71 99.90,412.62 100.19,412.54 100.49,412.46 100.78,412.39 101.07,412.32 101.37,412.26 101.66,412.20 101.95,412.14 102.25,412.09 102.54,412.04 102.83,412.00 103.13,411.96 103.42,411.93 103.71,411.90 104.01,411.87 104.30,411.85 104.59,411.84 104.89,411.83 105.18,411.82 105.47,411.82 105.77,411.82 106.06,411.83 106.36,411.84 106.65,411.85 106.94,411.87 107.24,411.90 107.53,411.93 107.82,411.96 108.12,412.00 108.41,412.04 108.70,412.09 109.00,412.14 109.29,412.20 109.58,412.26 109.88,412.32 110.17,412.39 110.46,412.46 110.76,412.54 111.05,412.62 111.34,412.71 111.64,412.80 111.93,412.89 112.22,412.99 112.52,413.09 112.81,413.19 113.10,413.29 113.40,413.40 113.69,413.50 113.98,413.61 114.28,413.72 114.57,413.83 114.86,413.93 115.16,414.04 115.45,414.15 115.74,414.25 116.04,414.36 116.33,414.46 116.62,414.56 116.92,414.66 117.21,414.76 117.50,414.85 117.80,414.95 118.09,415.04 118.38,415.14 118.68,415.23 118.97,415.32 119.26,415.41 119.56,415.50 119.85,415.59 120.14,415.68 120.44,415.77 120.73,415.85 121.02,415.94 121.32,416.03 121.61,416.12 121.90,416.21 122.20,416.29 122.49,416.38 122.78,416.47 123.08,416.56 123.37,416.64 123.66,416.72 123.96,416.80 124.25,416.88 124.54,416.96 124.84,417.03 125.13,417.10 125.42,417.16 125.72,417.22 126.01,417.27 126.30,417.32 126.60,417.36 126.89,417.40 127.18,417.43 127.48,417.45 127.77,417.47 128.06,417.48 128.36,417.49 128.65,417.49 128.94,417.49 129.24,417.49 129.53,417.48 129.83,417.47 130.12,417.45 130.41,417.43 130.71,417.41 131.00,417.39 131.29,417.36 131.59,417.33 131.88,417.30 132.17,417.27 132.47,417.24 132.76,417.20 133.05,417.16 133.35,417.12 133.64,417.07 133.93,417.03 134.23,416.97 134.52,416.92 134.81,416.86 135.11,416.79 135.40,416.72 135.69,416.65 135.99,416.57 136.28,416.49 136.57,416.40 136.87,416.31 137.16,416.21 137.45,416.10 137.75,415.99 138.04,415.87 138.33,415.75 138.63,415.62 138.92,415.48 139.21,415.33 139.51,415.17 139.80,415.01 140.09,414.83 140.39,414.65 140.68,414.46 140.97,414.25 141.27,414.04 141.56,413.82 141.85,413.58 142.15,413.34 142.44,413.08 142.73,412.81 143.03,412.53 143.32,412.23 143.61,411.92 143.91,411.60 144.20,411.27 144.49,410.92 144.79,410.55 145.08,410.17 145.37,409.78 145.67,409.37 145.96,408.94 146.25,408.50 146.55,408.04 146.84,407.56 147.13,407.06 147.43,406.55 147.72,406.02 148.01,405.47 148.31,404.90 148.60,404.31 148.89,403.71 149.19,403.09 149.48,402.46 149.77,401.81 150.07,401.15 150.36,400.48 150.65,399.80 150.95,399.11 151.24,398.42 151.53,397.71 151.83,397.01 152.12,396.30 152.41,395.58 152.71,394.86 153.00,394.14 153.30,393.43 153.59,392.71 153.88,392.00 154.18,391.29 154.47,390.58 154.76,389.88 155.06,389.19 155.35,388.50 155.64,387.83 155.94,387.16 156.23,386.51 156.52,385.87 156.82,385.23 157.11,384.61 157.40,383.98 157.70,383.36 157.99,382.73 158.28,382.10 158.58,381.46 158.87,380.81 159.16,380.15 159.46,379.47 159.75,378.77 160.04,378.04 160.34,377.30 160.63,376.52 160.92,375.72 161.22,374.88 161.51,374.00 161.80,373.08 162.10,372.13 162.39,371.12 162.68,370.07 162.98,368.97 163.27,367.81 163.56,366.60 163.86,365.33 164.15,364.00 164.44,362.67 164.74,361.40 165.03,360.19 165.32,359.03 165.62,357.93 165.91,356.88 166.20,355.87 166.50,354.92 166.79,354.00 167.08,353.12 167.38,352.28 167.67,351.48 167.96,350.70 168.26,349.96 168.55,349.23 168.84,348.53 169.14,347.85 169.43,347.19 169.72,346.54 170.02,345.90 170.31,345.27 170.60,344.64 170.90,344.02 171.19,343.39 171.48,342.77 171.78,342.13 172.07,341.49 172.36,340.84 172.66,340.17 172.95,339.50 173.24,338.81 173.54,338.12 173.83,337.42 174.12,336.71 174.42,336.00 174.71,335.29 175.00,334.57 175.30,333.86 175.59,333.14 175.88,332.42 176.18,331.70 176.47,330.99 176.77,330.29 177.06,329.58 177.35,328.89 177.65,328.20 177.94,327.52 178.23,326.85 178.53,326.19 178.82,325.54 179.11,324.91 179.41,324.29 179.70,323.69 179.99,323.10 180.29,322.53 180.58,321.98 180.87,321.45 181.17,320.94 181.46,320.44 181.75,319.96 182.05,319.50 182.34,319.06 182.63,318.63 182.93,318.22 183.22,317.83 183.51,317.45 183.81,317.08 184.10,316.73 184.39,316.40 184.69,316.08 184.98,315.77 185.27,315.47 185.57,315.19 185.86,314.92 186.15,314.66 186.45,314.42 186.74,314.18 187.03,313.96 187.33,313.75 187.62,313.54 187.91,313.35 188.21,313.17 188.50,312.99 188.79,312.83 189.09,312.67 189.38,312.52 189.67,312.38 189.97,312.25 190.26,312.13 190.55,312.01 190.85,311.90 191.14,311.79 191.43,311.69 191.73,311.60 192.02,311.51 192.31,311.43 192.61,311.35 192.90,311.28 193.19,311.21 193.49,311.14 193.78,311.08 194.07,311.03 194.37,310.97 194.66,310.93 194.95,310.88 195.25,310.84 195.54,310.80 195.83,310.76 196.13,310.73 196.42,310.70 196.71,310.67 197.01,310.64 197.30,310.61 197.59,310.59 197.89,310.57 198.18,310.55 198.47,310.53 198.77,310.52 199.06,310.51 199.36,310.51 199.65,310.51 199.94,310.51 200.24,310.52 200.53,310.53 200.82,310.55 201.12,310.57 201.41,310.60 201.70,310.64 202.00,310.68 202.29,310.73 202.58,310.78 202.88,310.84 203.17,310.90 203.46,310.97 203.76,311.04 204.05,311.12 204.34,311.20 204.64,311.28 204.93,311.36 205.22,311.44 205.52,311.53 205.81,311.62 206.10,311.71 206.40,311.79 206.69,311.88 206.98,311.97 207.28,312.06 207.57,312.15 207.86,312.23 208.16,312.32 208.45,312.41 208.74,312.50 209.04,312.59 209.33,312.68 209.62,312.77 209.92,312.86 210.21,312.96 210.50,313.05 210.80,313.15 211.09,313.24 211.38,313.34 211.68,313.44 211.97,313.54 212.26,313.64 212.56,313.75 212.85,313.85 213.14,313.96 213.44,314.07 213.73,314.17 214.02,314.28 214.32,314.39 214.61,314.50 214.90,314.60 215.20,314.71 215.49,314.81 215.78,314.91 216.08,315.01 216.37,315.11 216.66,315.20 216.96,315.29 217.25,315.38 217.54,315.46 217.84,315.54 218.13,315.61 218.42,315.68 218.72,315.74 219.01,315.80 219.30,315.86 219.60,315.91 219.89,315.96 220.18,316.00 220.48,316.04 220.77,316.07 221.06,316.10 221.36,316.13 221.65,316.15 221.94,316.16 222.24,316.17 222.53,316.18 222.82,316.18 223.12,316.18 223.41,316.17 223.71,316.16 224.00,316.15 224.29,316.13 224.59,316.10 224.88,316.07 225.17,316.04 225.47,316.00 225.76,315.96 226.05,315.91 226.35,315.86 226.64,315.80 226.93,315.74 227.23,315.68 227.52,315.61 227.81,315.54 228.11,315.46 228.40,315.38 228.69,315.29 228.99,315.20 229.28,315.11 229.57,315.01 229.87,314.91 230.16,314.81 230.45,314.71 230.75,314.60 231.04,314.50 231.33,314.39 231.63,314.28 231.92,314.17 232.21,314.07 232.51,313.96 232.80,313.85 233.09,313.75 233.39,313.64 233.68,313.54 233.97,313.44 234.27,313.34 234.56,313.24 234.85,313.15 235.15,313.05 235.44,312.96 235.73,312.86 236.03,312.77 236.32,312.68 236.61,312.59 236.91,312.50 237.20,312.41 237.49,312.32 237.79,312.23 238.08,312.15 238.37,312.06 238.67,311.97 238.96,311.88 239.25,311.79 239.55,311.71 239.84,311.62 240.13,311.53 240.43,311.44 240.72,311.36 241.01,311.28 241.31,311.20 241.60,311.12 241.89,311.04 242.19,310.97 242.48,310.90 242.77,310.84 243.07,310.78 243.36,310.73 243.65,310.68 243.95,310.64 244.24,310.60 244.53,310.57 244.83,310.55 245.12,310.53 245.41,310.52 245.71,310.51 246.00,310.51 246.29,310.51 246.59,310.51 246.88,310.52 247.18,310.53 247.47,310.55 247.76,310.57 248.06,310.59 248.35,310.61 248.64,310.64 248.94,310.67 249.23,310.70 249.52,310.73 249.82,310.76 250.11,310.80 250.40,310.84 250.70,310.88 250.99,310.93 251.28,310.97 251.58,311.03 251.87,311.08 252.16,311.14 252.46,311.21 252.75,311.28 253.04,311.35 253.34,311.43 253.63,311.51 253.92,311.60 254.22,311.69 254.51,311.79 254.80,311.90 255.10,312.01 255.39,312.13 255.68,312.25 255.98,312.38 256.27,312.52 256.56,312.67 256.86,312.83 257.15,312.99 257.44,313.17 257.74,313.35 258.03,313.54 258.32,313.75 258.62,313.96 258.91,314.18 259.20,314.42 259.50,314.66 259.79,314.92 260.08,315.19 260.38,315.47 260.67,315.77 260.96,316.08 261.26,316.40 261.55,316.73 261.84,317.08 262.14,317.45 262.43,317.83 262.72,318.22 263.02,318.63 263.31,319.06 263.60,319.50 263.90,319.96 264.19,320.44 264.48,320.94 264.78,321.45 265.07,321.98 265.36,322.53 265.66,323.10 265.95,323.69 266.24,324.29 266.54,324.91 266.83,325.54 267.12,326.19 267.42,326.85 267.71,327.52 268.00,328.20 268.30,328.89 268.59,329.58 268.88,330.29 269.18,330.99 269.47,331.70 269.76,332.42 270.06,333.14 270.35,333.86 270.65,334.57 270.94,335.29 271.23,336.00 271.53,336.71 271.82,337.42 272.11,338.12 272.41,338.81 272.70,339.50 272.99,340.17 273.29,340.84 273.58,341.49 273.87,342.13 274.17,342.77 274.46,343.39 274.75,344.02 275.05,344.64 275.34,345.27 275.63,345.90 275.93,346.54 276.22,347.19 276.51,347.85 276.81,348.53 277.10,349.23 277.39,349.96 277.69,350.70 277.98,351.48 278.27,352.28 278.57,353.12 278.86,354.00 279.15,354.92 279.45,355.87 279.74,356.88 280.03,357.93 280.33,359.03 280.62,360.19 280.91,361.40 281.21,362.67 281.50,364.00" fill="none" stroke="#00ff00" stroke-width="1.6" stroke-linejoin="round" /><polyline points="46.80,364.00 47.09,364.23 47.39,364.47 47.68,364.70 47.97,364.94 48.27,365.17 48.56,365.40 48.85,365.64 49.15,365.87 49.44,366.10 49.73,366.34 50.03,366.57 50.32,366.80 50.61,367.04 50.91,367.27 51.20,367.50 51.49,367.73 51.79,367.97 52.08,368.20 52.37,368.43 52.67,368.66 52.96,368.89 53.25,369.12 53.55,369.35 53.84,369.58 54.13,369.81 54.43,370.04 54.72,370.27 55.01,370.50 55.31,370.73 55.60,370.96 55.89,371.18 56.19,371.41 56.48,371.64 56.77,371.86 57.07,372.09 57.36,372.31 57.65,372.54 57.95,372.76 58.24,372.99 58.53,373.21 58.83,373.43 59.12,373.65 59.42,373.87 59.71,374.09 60.00,374.31 60.30,374.53 60.59,374.75 60.88,374.97 61.18,375.19 61.47,375.40 61.76,375.62 62.06,375.83 62.35,376.05 62.64,376.26 62.94,376.48 63.23,376.69 63.52,376.90 63.82,377.11 64.11,377.32 64.40,377.53 64.70,377.74 64.99,377.94 65.28,378.15 65.58,378.36 65.87,378.56 66.16,378.76 66.46,378.97 66.75,379.17 67.04,379.37 67.34,379.57 67.63,379.77 67.92,379.97 68.22,380.16 68.51,380.36 68.80,380.56 69.10,380.75 69.39,380.94 69.68,381.13 69.98,381.33 70.27,381.52 70.56,381.70 70.86,381.89 71.15,382.08 71.44,382.26 71.74,382.45 72.03,382.63 72.32,382.81 72.62,382.99 72.91,383.17 73.20,383.35 73.50,383.53 73.79,383.71 74.08,383.88 74.38,384.06 74.67,384.23 74.96,384.40 75.26,384.57 75.55,384.74 75.84,384.90 76.14,385.07 76.43,385.24 76.72,385.40 77.02,385.56 77.31,385.72 77.60,385.88 77.90,386.04 78.19,386.20 78.48,386.35 78.78,386.51 79.07,386.66 79.36,386.81 79.66,386.96 79.95,387.11 80.24,387.26 80.54,387.40 80.83,387.55 81.12,387.69 81.42,387.83 81.71,387.97 82.00,388.11 82.30,388.24 82.59,388.38 82.89,388.51 83.18,388.65 83.47,388.78 83.77,388.91 84.06,389.03 84.35,389.16 84.65,389.28 84.94,389.41 85.23,389.53 85.53,389.65 85.82,389.77 86.11,389.88 86.41,390.00 86.70,390.11 86.99,390.23 87.29,390.34 87.58,390.44 87.87,390.55 88.17,390.66 88.46,390.76 88.75,390.86 89.05,390.96 89.34,391.06 89.63,391.16 89.93,391.25 90.22,391.35 90.51,391.44 90.81,391.53 91.10,391.62 91.39,391.71 91.69,391.79 91.98,391.88 92.27,391.96 92.57,392.04 92.86,392.12 93.15,392.19 93.45,392.27 93.74,392.34 94.03,392.41 94.33,392.48 94.62,392.55 94.91,392.62 95.21,392.68 95.50,392.74 95.79,392.80 96.09,392.86 96.38,392.92 96.67,392.98 96.97,393.03 97.26,393.08 97.55,393.13 97.85,393.18 98.14,393.23 98.43,393.27 98.73,393.31 99.02,393.36 99.31,393.39 99.61,393.43 99.90,393.47 100.19,393.50 100.49,393.53 100.78,393.56 101.07,393.59 101.37,393.62 101.66,393.64 101.95,393.67 102.25,393.69 102.54,393.71 102.83,393.72 103.13,393.74 103.42,393.75 103.71,393.77 104.01,393.78 104.30,393.78 104.59,393.79 104.89,393.80 105.18,393.80 105.47,393.80 105.77,393.80 106.06,393.80 106.36,393.79 106.65,393.78 106.94,393.78 107.24,393.77 107.53,393.75 107.82,393.74 108.12,393.72 108.41,393.71 108.70,393.69 109.00,393.67 109.29,393.64 109.58,393.62 109.88,393.59 110.17,393.56 110.46,393.53 110.76,393.50 111.05,393.47 111.34,393.43 111.64,393.39 111.93,393.36 112.22,393.31 112.52,393.27 112.81,393.23 113.10,393.18 113.40,393.13 113.69,393.08 113.98,393.03 114.28,392.98 114.57,392.92 114.86,392.86 115.16,392.80 115.45,392.74 115.74,392.68 116.04,392.62 116.33,392.55 116.62,392.48 116.92,392.41 117.21,392.34 117.50,392.27 117.80,392.19 118.09,392.12 118.38,392.04 118.68,391.96 118.97,391.88 119.26,391.79 119.56,391.71 119.85,391.62 120.14,391.53 120.44,391.44 120.73,391.35 121.02,391.25 121.32,391.16 121.61,391.06 121.90,390.96 122.20,390.86 122.49,390.76 122.78,390.66 123.08,390.55 123.37,390.44 123.66,390.34 123.96,390.23 124.25,390.11 124.54,390.00 124.84,389.88 125.13,389.77 125.42,389.65 125.72,389.53 126.01,389.41 126.30,389.28 126.60,389.16 126.89,389.03 127.18,388.91 127.48,388.78 127.77,388.65 128.06,388.51 128.36,388.38 128.65,388.24 128.94,388.11 129.24,387.97 129.53,387.83 129.83,387.69 130.12,387.55 130.41,387.40 130.71,387.26 131.00,387.11 131.29,386.96 131.59,386.81 131.88,386.66 132.17,386.51 132.47,386.35 132.76,386.20 133.05,386.04 133.35,385.88 133.64,385.72 133.93,385.56 134.23,385.40 134.52,385.24 134.81,385.07 135.11,384.90 135.40,384.74 135.69,384.57 135.99,384.40 136.28,384.23 136.57,384.06 136.87,383.88 137.16,383.71 137.45,383.53 137.75,383.35 138.04,383.17 138.33,382.99 138.63,382.81 138.92,382.63 139.21,382.45 139.51,382.26 139.80,382.08 140.09,381.89 140.39,381.70 140.68,381.52 140.97,381.33 141.27,381.13 141.56,380.94 141.85,380.75 142.15,380.56 142.44,380.36 142.73,380.16 143.03,379.97 143.32,379.77 143.61,379.57 143.91,379.37 144.20,379.17 144.49,378.97 144.79,378.76 145.08,378.56 145.37,378.36 145.67,378.15 145.96,377.94 146.25,377.74 146.55,377.53 146.84,377.32 147.13,377.11 147.43,376.90 147.72,376.69 148.01,376.48 148.31,376.26 148.60,376.05 148.89,375.83 149.19,375.62 149.48,375.40 149.77,375.19 150.07,374.97 150.36,374.75 150.65,374.53 150.95,374.31 151.24,374.09 151.53,373.87 151.83,373.65 152.12,373.43 152.41,373.21 152.71,372.99 153.00,372.76 153.30,372.54 153.59,372.31 153.88,372.09 154.18,371.86 154.47,371.64 154.76,371.41 155.06,371.18 155.35,370.96 155.64,370.73 155.94,370.50 156.23,370.27 156.52,370.04 156.82,369.81 157.11,369.58 157.40,369.35 157.70,369.12 157.99,368.89 158.28,368.66 158.58,368.43 158.87,368.20 159.16,367.97 159.46,367.73 159.75,367.50 160.04,367.27 160.34,367.04 160.63,366.80 160.92,366.57 161.22,366.34 161.51,366.10 161.80,365.87 162.10,365.64 162.39,365.40 162.68,365.17 162.98,364.94 163.27,364.70 163.56,364.47 163.86,364.23 164.15,364.00 164.44,363.77 164.74,363.53 165.03,363.30 165.32,363.06 165.62,362.83 165.91,362.60 166.20,362.36 166.50,362.13 166.79,361.90 167.08,361.66 167.38,361.43 167.67,361.20 167.96,360.96 168.26,360.73 168.55,360.50 168.84,360.27 169.14,360.03 169.43,359.80 169.72,359.57 170.02,359.34 170.31,359.11 170.60,358.88 170.90,358.65 171.19,358.42 171.48,358.19 171.78,357.96 172.07,357.73 172.36,357.50 172.66,357.27 172.95,357.04 173.24,356.82 173.54,356.59 173.83,356.36 174.12,356.14 174.42,355.91 174.71,355.69 175.00,355.46 175.30,355.24 175.59,355.01 175.88,354.79 176.18,354.57 176.47,354.35 176.77,354.13 177.06,353.91 177.35,353.69 177.65,353.47 177.94,353.25 178.23,353.03 178.53,352.81 178.82,352.60 179.11,352.38 179.41,352.17 179.70,351.95 179.99,351.74 180.29,351.52 180.58,351.31 180.87,351.10 181.17,350.89 181.46,350.68 181.75,350.47 182.05,350.26 182.34,350.06 182.63,349.85 182.93,349.64 183.22,349.44 183.51,349.24 183.81,349.03 184.10,348.83 184.39,348.63 184.69,348.43 184.98,348.23 185.27,348.03 185.57,347.84 185.86,347.64 186.15,347.44 186.45,347.25 186.74,347.06 187.03,346.87 187.33,346.67 187.62,346.48 187.91,346.30 188.21,346.11 188.50,345.92 188.79,345.74 189.09,345.55 189.38,345.37 189.67,345.19 189.97,345.01 190.26,344.83 190.55,344.65 190.85,344.47 191.14,344.29 191.43,344.12 191.73,343.94 192.02,343.77 192.31,343.60 192.61,343.43 192.90,343.26 193.19,343.10 193.49,342.93 193.78,342.76 194.07,342.60 194.37,342.44 194.66,342.28 194.95,342.12 195.25,341.96 195.54,341.80 195.83,341.65 196.13,341.49 196.42,341.34 196.71,341.19 197.01,341.04 197.30,340.89 197.59,340.74 197.89,340.60 198.18,340.45 198.47,340.31 198.77,340.17 199.06,340.03 199.36,339.89 199.65,339.76 199.94,339.62 200.24,339.49 200.53,339.35 200.82,339.22 201.12,339.09 201.41,338.97 201.70,338.84 202.00,338.72 202.29,338.59 202.58,338.47 202.88,338.35 203.17,338.23 203.46,338.12 203.76,338.00 204.05,337.89 204.34,337.77 204.64,337.66 204.93,337.56 205.22,337.45 205.52,337.34 205.81,337.24 206.10,337.14 206.40,337.04 206.69,336.94 206.98,336.84 207.28,336.75 207.57,336.65 207.86,336.56 208.16,336.47 208.45,336.38 208.74,336.29 209.04,336.21 209.33,336.12 209.62,336.04 209.92,335.96 210.21,335.88 210.50,335.81 210.80,335.73 211.09,335.66 211.38,335.59 211.68,335.52 211.97,335.45 212.26,335.38 212.56,335.32 212.85,335.26 213.14,335.20 213.44,335.14 213.73,335.08 214.02,335.02 214.32,334.97 214.61,334.92 214.90,334.87 215.20,334.82 215.49,334.77 215.78,334.73 216.08,334.69 216.37,334.64 216.66,334.61 216.96,334.57 217.25,334.53 217.54,334.50 217.84,334.47 218.13,334.44 218.42,334.41 218.72,334.38 219.01,334.36 219.30,334.33 219.60,334.31 219.89,334.29 220.18,334.28 220.48,334.26 220.77,334.25 221.06,334.23 221.36,334.22 221.65,334.22 221.94,334.21 222.24,334.20 222.53,334.20 222.82,334.20 223.12,334.20 223.41,334.20 223.71,334.21 224.00,334.22 224.29,334.22 224.59,334.23 224.88,334.25 225.17,334.26 225.47,334.28 225.76,334.29 226.05,334.31 226.35,334.33 226.64,334.36 226.93,334.38 227.23,334.41 227.52,334.44 227.81,334.47 228.11,334.50 228.40,334.53 228.69,334.57 228.99,334.61 229.28,334.64 229.57,334.69 229.87,334.73 230.16,334.77 230.45,334.82 230.75,334.87 231.04,334.92 231.33,334.97 231.63,335.02 231.92,335.08 232.21,335.14 232.51,335.20 232.80,335.26 233.09,335.32 233.39,335.38 233.68,335.45 233.97,335.52 234.27,335.59 234.56,335.66 234.85,335.73 235.15,335.81 235.44,335.88 235.73,335.96 236.03,336.04 236.32,336.12 236.61,336.21 236.91,336.29 237.20,336.38 237.49,336.47 237.79,336.56 238.08,336.65 238.37,336.75 238.67,336.84 238.96,336.94 239.25,337.04 239.55,337.14 239.84,337.24 240.13,337.34 240.43,337.45 240.72,337.56 241.01,337.66 241.31,337.77 241.60,337.89 241.89,338.00 242.19,338.12 242.48,338.23 242.77,338.35 243.07,338.47 243.36,338.59 243.65,338.72 243.95,338.84 244.24,338.97 244.53,339.09 244.83,339.22 245.12,339.35 245.41,339.49 245.71,339.62 246.00,339.76 246.29,339.89 246.59,340.03 246.88,340.17 247.18,340.31 247.47,340.45 247.76,340.60 248.06,340.74 248.35,340.89 248.64,341.04 248.94,341.19 249.23,341.34 249.52,341.49 249.82,341.65 250.11,341.80 250.40,341.96 250.70,342.12 250.99,342.28 251.28,342.44 251.58,342.60 251.87,342.76 252.16,342.93 252.46,343.10 252.75,343.26 253.04,343.43 253.34,343.60 253.63,343.77 253.92,343.94 254.22,344.12 254.51,344.29 254.80,344.47 255.10,344.65 255.39,344.83 255.68,345.01 255.98,345.19 256.27,345.37 256.56,345.55 256.86,345.74 257.15,345.92 257.44,346.11 257.74,346.30 258.03,346.48 258.32,346.67 258.62,346.87 258.91,347.06 259.20,347.25 259.50,347.44 259.79,347.64 260.08,347.84 260.38,348.03 260.67,348.23 260.96,348.43 261.26,348.63 261.55,348.83 261.84,349.03 262.14,349.24 262.43,349.44 262.72,349.64 263.02,349.85 263.31,350.06 263.60,350.26 263.90,350.47 264.19,350.68 264.48,350.89 264.78,351.10 265.07,351.31 265.36,351.52 265.66,351.74 265.95,351.95 266.24,352.17 266.54,352.38 266.83,352.60 267.12,352.81 267.42,353.03 267.71,353.25 268.00,353.47 268.30,353.69 268.59,353.91 268.88,354.13 269.18,354.35 269.47,354.57 269.76,354.79 270.06,355.01 270.35,355.24 270.65,355.46 270.94,355.69 271.23,355.91 271.53,356.14 271.82,356.36 272.11,356.59 272.41,356.82 272.70,357.04 272.99,357.27 273.29,357.50 273.58,357.73 273.87,357.96 274.17,358.19 274.46,358.42 274.75,358.65 275.05,358.88 275.34,359.11 275.63,359.34 275.93,359.57 276.22,359.80 276.51,360.03 276.81,360.27 277.10,360.50 277.39,360.73 277.69,360.96 277.98,361.20 278.27,361.43 278.57,361.66 278.86,361.90 279.15,362.13 279.45,362.36 279.74,362.60 280.03,362.83 280.33,363.06 280.62,363.30 280.91,363.53 281.21,363.77 281.50,364.00" fill="none" stroke="#0000ff" stroke-width="1.6" stroke-linejoin="round" /><polyline points="46.80,364.00 47.09,364.93 47.39,365.88 47.68,366.86 47.97,367.86 48.27,368.89 48.56,369.94 48.85,371.01 49.15,372.10 49.44,373.21 49.73,374.34 50.03,375.49 50.32,376.65 50.61,377.83 50.91,379.02 51.20,380.23 51.49,381.45 51.79,382.68 52.08,383.92 52.37,385.16 52.67,386.42 52.96,387.68 53.25,388.95 53.55,390.22 53.84,391.50 54.13,392.78 54.43,394.06 54.72,395.34 55.01,396.63 55.31,397.91 55.60,399.18 55.89,400.46 56.19,401.73 56.48,402.99 56.77,404.25 57.07,405.49 57.36,406.73 57.65,407.96 57.95,409.18 58.24,410.39 58.53,411.58 58.83,412.76 59.12,413.93 59.42,415.07 59.71,416.21 60.00,417.32 60.30,418.41 60.59,419.49 60.88,420.54 61.18,421.58 61.47,422.59 61.76,423.59 62.06,424.56 62.35,425.51 62.64,426.44 62.94,427.35 63.23,428.23 63.52,429.09 63.82,429.91 64.11,430.70 64.40,431.46 64.70,432.17 64.99,432.83 65.28,433.44 65.58,433.99 65.87,434.49 66.16,434.92 66.46,435.29 66.75,435.58 67.04,435.79 67.34,435.93 67.63,435.99 67.92,435.98 68.22,435.90 68.51,435.76 68.80,435.57 69.10,435.32 69.39,435.04 69.68,434.72 69.98,434.37 70.27,433.99 70.56,433.60 70.86,433.17 71.15,432.71 71.44,432.21 71.74,431.67 72.03,431.07 72.32,430.40 72.62,429.67 72.91,428.86 73.20,427.97 73.50,426.99 73.79,425.91 74.08,424.73 74.38,423.45 74.67,422.11 74.96,420.69 75.26,419.23 75.55,417.74 75.84,416.23 76.14,414.71 76.43,413.20 76.72,411.71 77.02,410.26 77.31,408.84 77.60,407.45 77.90,406.07 78.19,404.68 78.48,403.29 78.78,401.87 79.07,400.42 79.36,398.92 79.66,397.37 79.95,395.74 80.24,394.03 80.54,392.24 80.83,390.39 81.12,388.49 81.42,386.57 81.71,384.65 82.00,382.74 82.30,380.87 82.59,379.05 82.89,377.30 83.18,375.64 83.47,374.10 83.77,372.67 84.06,371.37 84.35,370.18 84.65,369.10 84.94,368.12 85.23,367.23 85.53,366.43 85.82,365.71 86.11,365.07 86.41,364.50 86.70,364.00 86.99,363.55 87.29,363.16 87.58,362.82 87.87,362.52 88.17,362.26 88.46,362.04 88.75,361.85 89.05,361.69 89.34,361.55 89.63,361.43 89.93,361.32 90.22,361.23 90.51,361.14 90.81,361.06 91.10,360.98 91.39,360.92 91.69,360.86 91.98,360.82 92.27,360.79 92.57,360.77 92.86,360.77 93.15,360.78 93.45,360.81 93.74,360.85 94.03,360.90 94.33,360.96 94.62,361.03 94.91,361.11 95.21,361.20 95.50,361.29 95.79,361.39 96.09,361.50 96.38,361.60 96.67,361.71 96.97,361.81 97.26,361.92 97.55,362.03 97.85,362.13 98.14,362.23 98.43,362.32 98.73,362.42 99.02,362.51 99.31,362.60 99.61,362.69 99.90,362.78 100.19,362.86 100.49,362.94 100.78,363.02 101.07,363.10 101.37,363.17 101.66,363.24 101.95,363.31 102.25,363.37 102.54,363.43 102.83,363.49 103.13,363.54 103.42,363.59 103.71,363.64 104.01,363.68 104.30,363.71 104.59,363.73 104.89,363.75 105.18,363.76 105.47,363.77 105.77,363.76 106.06,363.75 106.36,363.73 106.65,363.71 106.94,363.68 107.24,363.64 107.53,363.59 107.82,363.54 108.12,363.49 108.41,363.43 108.70,363.37 109.00,363.31 109.29,363.24 109.58,363.17 109.88,363.10 110.17,363.02 110.46,362.94 110.76,362.86 111.05,362.78 111.34,362.69 111.64,362.60 111.93,362.51 112.22,362.42 112.52,362.32 112.81,362.23 113.10,362.13 113.40,362.03 113.69,361.92 113.98,361.81 114.28,361.71 114.57,361.60 114.86,361.50 115.16,361.39 115.45,361.29 115.74,361.20 116.04,361.11 116.33,361.03 116.62,360.96 116.92,360.90 117.21,360.85 117.50,360.81 117.80,360.78 118.09,360.77 118.38,360.77 118.68,360.79 118.97,360.82 119.26,360.86 119.56,360.92 119.85,360.98 120.14,361.06 120.44,361.14 120.73,361.23 121.02,361.32 121.32,361.43 121.61,361.55 121.90,361.69 122.20,361.85 122.49,362.04 122.78,362.26 123.08,362.52 123.37,362.82 123.66,363.16 123.96,363.55 124.25,364.00 124.54,364.50 124.84,365.07 125.13,365.71 125.42,366.43 125.72,367.23 126.01,368.12 126.30,369.10 126.60,370.18 126.89,371.37 127.18,372.67 127.48,374.10 127.77,375.64 128.06,377.30 128.36,379.05 128.65,380.87 128.94,382.74 129.24,384.65 129.53,386.57 129.83,388.49 130.12,390.39 130.41,392.24 130.71,394.03 131.00,395.74 131.29,397.37 131.59,398.92 131.88,400.42 132.17,401.87 132.47,403.29 132.76,404.68 133.05,406.07 133.35,407.45 133.64,408.84 133.93,410.26 134.23,411.71 134.52,413.20 134.81,414.71 135.11,416.23 135.40,417.74 135.69,419.23 135.99,420.69 136.28,422.11 136.57,423.45 136.87,424.73 137.16,425.91 137.45,426.99 137.75,427.97 138.04,428.86 138.33,429.67 138.63,430.40 138.92,431.07 139.21,431.67 139.51,432.21 139.80,432.71 140.09,433.17 140.39,433.60 140.68,433.99 140.97,434.37 141.27,434.72 141.56,435.04 141.85,435.32 142.15,435.57 142.44,435.76 142.73,435.90 143.03,435.98 143.32,435.99 143.61,435.93 143.91,435.79 144.20,435.58 144.49,435.29 144.79,434.92 145.08,434.49 145.37,433.99 145.67,433.44 145.96,432.83 146.25,432.17 146.55,431.46 146.84,430.70 147.13,429.91 147.43,429.09 147.72,428.23 148.01,427.35 148.31,426.44 148.60,425.51 148.89,424.56 149.19,423.59 149.48,422.59 149.77,421.58 150.07,420.54 150.36,419.49 150.65,418.41 150.95,417.32 151.24,416.21 151.53,415.07 151.83,413.93 152.12,412.76 152.41,411.58 152.71,410.39 153.00,409.18 153.30,407.96 153.59,406.73 153.88,405.49 154.18,404.25 154.47,402.99 154.76,401.73 155.06,400.46 155.35,399.18 155.64,397.91 155.94,396.63 156.23,395.34 156.52,394.06 156.82,392.78 157.11,391.50 157.40,390.22 157.70,388.95 157.99,387.68 158.28,386.42 158.58,385.16 158.87,383.92 159.16,382.68 159.46,381.45 159.75,380.23 160.04,379.02 160.34,377.83 160.63,376.65 160.92,375.49 161.22,374.34 161.51,373.21 161.80,372.10 162.10,371.01 162.39,369.94 162.68,368.89 162.98,367.86 163.27,366.86 163.56,365.88 163.86,364.93 164.15,364.00 164.44,363.07 164.74,362.12 165.03,361.14 165.32,360.14 165.62,359.11 165.91,358.06 166.20,356.99 166.50,355.90 166.79,354.79 167.08,353.66 167.38,352.51 167.67,351.35 167.96,350.17 168.26,348.98 168.55,347.77 168.84,346.55 169.14,345.32 169.43,344.08 169.72,342.84 170.02,341.58 170.31,340.32 170.60,339.05 170.90,337.78 171.19,336.50 171.48,335.22 171.78,333.94 172.07,332.66 172.36,331.37 172.66,330.09 172.95,328.82 173.24,327.54 173.54,326.27 173.83,325.01 174.12,323.75 174.42,322.51 174.71,321.27 175.00,320.04 175.30,318.82 175.59,317.61 175.88,316.42 176.18,315.24 176.47,314.07 176.77,312.93 177.06,311.79 177.35,310.68 177.65,309.59 177.94,308.51 178.23,307.46 178.53,306.42 178.82,305.41 179.11,304.41 179.41,303.44 179.70,302.49 179.99,301.56 180.29,300.65 180.58,299.77 180.87,298.91 181.17,298.09 181.46,297.30 181.75,296.54 182.05,295.83 182.34,295.17 182.63,294.56 182.93,294.01 183.22,293.51 183.51,293.08 183.81,292.71 184.10,292.42 184.39,292.21 184.69,292.07 184.98,292.01 185.27,292.02 185.57,292.10 185.86,292.24 186.15,292.43 186.45,292.68 186.74,292.96 187.03,293.28 187.33,293.63 187.62,294.01 187.91,294.40 188.21,294.83 188.50,295.29 188.79,295.79 189.09,296.33 189.38,296.93 189.67,297.60 189.97,298.33 190.26,299.14 190.55,300.03 190.85,301.01 191.14,302.09 191.43,303.27 191.73,304.55 192.02,305.89 192.31,307.31 192.61,308.77 192.90,310.26 193.19,311.77 193.49,313.29 193.78,314.80 194.07,316.29 194.37,317.74 194.66,319.16 194.95,320.55 195.25,321.93 195.54,323.32 195.83,324.71 196.13,326.13 196.42,327.58 196.71,329.08 197.01,330.63 197.30,332.26 197.59,333.97 197.89,335.76 198.18,337.61 198.47,339.51 198.77,341.43 199.06,343.35 199.36,345.26 199.65,347.13 199.94,348.95 200.24,350.70 200.53,352.36 200.82,353.90 201.12,355.33 201.41,356.63 201.70,357.82 202.00,358.90 202.29,359.88 202.58,360.77 202.88,361.57 203.17,362.29 203.46,362.93 203.76,363.50 204.05,364.00 204.34,364.45 204.64,364.84 204.93,365.18 205.22,365.48 205.52,365.74 205.81,365.96 206.10,366.15 206.40,366.31 206.69,366.45 206.98,366.57 207.28,366.68 207.57,366.77 207.86,366.86 208.16,366.94 208.45,367.02 208.74,367.08 209.04,367.14 209.33,367.18 209.62,367.21 209.92,367.23 210.21,367.23 210.50,367.22 210.80,367.19 211.09,367.15 211.38,367.10 211.68,367.04 211.97,366.97 212.26,366.89 212.56,366.80 212.85,366.71 213.14,366.61 213.44,366.50 213.73,366.40 214.02,366.29 214.32,366.19 214.61,366.08 214.90,365.97 215.20,365.87 215.49,365.77 215.78,365.68 216.08,365.58 216.37,365.49 216.66,365.40 216.96,365.31 217.25,365.22 217.54,365.14 217.84,365.06 218.13,364.98 218.42,364.90 218.72,364.83 219.01,364.76 219.30,364.69 219.60,364.63 219.89,364.57 220.18,364.51 220.48,364.46 220.77,364.41 221.06,364.36 221.36,364.32 221.65,364.29 221.94,364.27 222.24,364.25 222.53,364.24 222.82,364.23 223.12,364.24 223.41,364.25 223.71,364.27 224.00,364.29 224.29,364.32 224.59,364.36 224.88,364.41 225.17,364.46 225.47,364.51 225.76,364.57 226.05,364.63 226.35,364.69 226.64,364.76 226.93,364.83 227.23,364.90 227.52,364.98 227.81,365.06 228.11,365.14 228.40,365.22 228.69,365.31 228.99,365.40 229.28,365.49 229.57,365.58 229.87,365.68 230.16,365.77 230.45,365.87 230.75,365.97 231.04,366.08 231.33,366.19 231.63,366.29 231.92,366.40 232.21,366.50 232.51,366.61 232.80,366.71 233.09,366.80 233.39,366.89 233.68,366.97 233.97,367.04 234.27,367.10 234.56,367.15 234.85,367.19 235.15,367.22 235.44,367.23 235.73,367.23 236.03,367.21 236.32,367.18 236.61,367.14 236.91,367.08 237.20,367.02 237.49,366.94 237.79,366.86 238.08,366.77 238.37,366.68 238.67,366.57 238.96,366.45 239.25,366.31 239.55,366.15 239.84,365.96 240.13,365.74 240.43,365.48 240.72,365.18 241.01,364.84 241.31,364.45 241.60,364.00 241.89,363.50 242.19,362.93 242.48,362.29 242.77,361.57 243.07,360.77 243.36,359.88 243.65,358.90 243.95,357.82 244.24,356.63 244.53,355.33 244.83,353.90 245.12,352.36 245.41,350.70 245.71,348.95 246.00,347.13 246.29,345.26 246.59,343.35 246.88,341.43 247.18,339.51 247.47,337.61 247.76,335.76 248.06,333.97 248.35,332.26 248.64,330.63 248.94,329.08 249.23,327.58 249.52,326.13 249.82,324.71 250.11,323.32 250.40,321.93 250.70,320.55 250.99,319.16 251.28,317.74 251.58,316.29 251.87,314.80 252.16,313.29 252.46,311.77 252.75,310.26 253.04,308.77 253.34,307.31 253.63,305.89 253.92,304.55 254.22,303.27 254.51,302.09 254.80,301.01 255.10,300.03 255.39,299.14 255.68,298.33 255.98,297.60 256.27,296.93 256.56,296.33 256.86,295.79 257.15,295.29 257.44,294.83 257.74,294.40 258.03,294.01 258.32,293.63 258.62,293.28 258.91,292.96 259.20,292.68 259.50,292.43 259.79,292.24 260.08,292.10 260.38,292.02 260.67,292.01 260.96,292.07 261.26,292.21 261.55,292.42 261.84,292.71 262.14,293.08 262.43,293.51 262.72,294.01 263.02,294.56 263.31,295.17 263.60,295.83 263.90,296.54 264.19,297.30 264.48,298.09 264.78,298.91 265.07,299.77 265.36,300.65 265.66,301.56 265.95,302.49 266.24,303.44 266.54,304.41 266.83,305.41 267.12,306.42 267.42,307.46 267.71,308.51 268.00,309.59 268.30,310.68 268.59,311.79 268.88,312.93 269.18,314.07 269.47,315.24 269.76,316.42 270.06,317.61 270.35,318.82 270.65,320.04 270.94,321.27 271.23,322.51 271.53,323.75 271.82,325.01 272.11,326.27 272.41,327.54 272.70,328.82 272.99,330.09 273.29,331.37 273.58,332.66 273.87,333.94 274.17,335.22 274.46,336.50 274.75,337.78 275.05,339.05 275.34,340.32 275.63,341.58 275.93,342.84 276.22,344.08 276.51,345.32 276.81,346.55 277.10,347.77 277.39,348.98 277.69,350.17 277.98,351.35 278.27,352.51 278.57,353.66 278.86,354.79 279.15,355.90 279.45,356.99 279.74,358.06 280.03,359.11 280.33,360.14 280.62,361.14 280.91,362.12 281.21,363.07 281.50,364.00" fill="none" stroke="#ff0000" stroke-width="1.4" stroke-linejoin="round" stroke-dasharray="3.7 1.6 1.3 1.6"/><polyline points="46.80,364.00 47.09,365.13 47.39,366.24 47.68,367.35 47.97,368.45 48.27,369.54 48.56,370.62 48.85,371.70 49.15,372.76 49.44,373.82 49.73,374.87 50.03,375.91 50.32,376.95 50.61,377.97 50.91,379.00 51.20,380.01 51.49,381.02 51.79,382.02 52.08,383.01 52.37,384.00 52.67,384.98 52.96,385.95 53.25,386.92 53.55,387.88 53.84,388.84 54.13,389.79 54.43,390.74 54.72,391.68 55.01,392.62 55.31,393.55 55.60,394.47 55.89,395.40 56.19,396.32 56.48,397.23 56.77,398.14 57.07,399.05 57.36,399.95 57.65,400.85 57.95,401.74 58.24,402.63 58.53,403.52 58.83,404.41 59.12,405.29 59.42,406.17 59.71,407.05 60.00,407.92 60.30,408.78 60.59,409.64 60.88,410.50 61.18,411.34 61.47,412.18 61.76,413.01 62.06,413.83 62.35,414.64 62.64,415.44 62.94,416.22 63.23,417.00 63.52,417.76 63.82,418.51 64.11,419.24 64.40,419.96 64.70,420.67 64.99,421.35 65.28,422.02 65.58,422.67 65.87,423.31 66.16,423.92 66.46,424.52 66.75,425.10 67.04,425.66 67.34,426.21 67.63,426.73 67.92,427.24 68.22,427.74 68.51,428.22 68.80,428.68 69.10,429.12 69.39,429.55 69.68,429.96 69.98,430.36 70.27,430.74 70.56,431.11 70.86,431.46 71.15,431.80 71.44,432.12 71.74,432.43 72.03,432.72 72.32,433.00 72.62,433.27 72.91,433.52 73.20,433.76 73.50,433.99 73.79,434.20 74.08,434.40 74.38,434.59 74.67,434.76 74.96,434.92 75.26,435.06 75.55,435.20 75.84,435.32 76.14,435.43 76.43,435.52 76.72,435.60 77.02,435.67 77.31,435.73 77.60,435.78 77.90,435.81 78.19,435.83 78.48,435.84 78.78,435.84 79.07,435.83 79.36,435.80 79.66,435.76 79.95,435.71 80.24,435.65 80.54,435.57 80.83,435.48 81.12,435.38 81.42,435.26 81.71,435.13 82.00,434.98 82.30,434.83 82.59,434.65 82.89,434.47 83.18,434.26 83.47,434.05 83.77,433.81 84.06,433.57 84.35,433.30 84.65,433.02 84.94,432.73 85.23,432.42 85.53,432.09 85.82,431.75 86.11,431.39 86.41,431.03 86.70,430.65 86.99,430.25 87.29,429.85 87.58,429.44 87.87,429.02 88.17,428.59 88.46,428.16 88.75,427.72 89.05,427.27 89.34,426.82 89.63,426.37 89.93,425.91 90.22,425.46 90.51,425.00 90.81,424.54 91.10,424.09 91.39,423.63 91.69,423.18 91.98,422.74 92.27,422.30 92.57,421.86 92.86,421.43 93.15,421.01 93.45,420.60 93.74,420.19 94.03,419.79 94.33,419.40 94.62,419.02 94.91,418.65 95.21,418.28 95.50,417.92 95.79,417.57 96.09,417.22 96.38,416.89 96.67,416.56 96.97,416.24 97.26,415.93 97.55,415.63 97.85,415.33 98.14,415.05 98.43,414.77 98.73,414.50 99.02,414.24 99.31,413.99 99.61,413.75 99.90,413.52 100.19,413.29 100.49,413.07 100.78,412.87 101.07,412.67 101.37,412.48 101.66,412.31 101.95,412.14 102.25,411.99 102.54,411.84 102.83,411.71 103.13,411.59 103.42,411.49 103.71,411.39 104.01,411.31 104.30,411.25 104.59,411.19 104.89,411.15 105.18,411.13 105.47,411.12 105.77,411.13 106.06,411.15 106.36,411.19 106.65,411.25 106.94,411.31 107.24,411.39 107.53,411.49 107.82,411.59 108.12,411.71 108.41,411.84 108.70,411.99 109.00,412.14 109.29,412.31 109.58,412.48 109.88,412.67 110.17,412.87 110.46,413.07 110.76,413.29 111.05,413.52 111.34,413.75 111.64,413.99 111.93,414.24 112.22,414.50 112.52,414.77 112.81,415.05 113.10,415.33 113.40,415.63 113.69,415.93 113.98,416.24 114.28,416.56 114.57,416.89 114.86,417.22 115.16,417.57 115.45,417.92 115.74,418.28 116.04,418.65 116.33,419.02 116.62,419.40 116.92,419.79 117.21,420.19 117.50,420.60 117.80,421.01 118.09,421.43 118.38,421.86 118.68,422.30 118.97,422.74 119.26,423.18 119.56,423.63 119.85,424.09 120.14,424.54 120.44,425.00 120.73,425.46 121.02,425.91 121.32,426.37 121.61,426.82 121.90,427.27 122.20,427.72 122.49,428.16 122.78,428.59 123.08,429.02 123.37,429.44 123.66,429.85 123.96,430.25 124.25,430.65 124.54,431.03 124.84,431.39 125.13,431.75 125.42,432.09 125.72,432.42 126.01,432.73 126.30,433.02 126.60,433.30 126.89,433.57 127.18,433.81 127.48,434.05 127.77,434.26 128.06,434.47 128.36,434.65 128.65,434.83 128.94,434.98 129.24,435.13 129.53,435.26 129.83,435.38 130.12,435.48 130.41,435.57 130.71,435.65 131.00,435.71 131.29,435.76 131.59,435.80 131.88,435.83 132.17,435.84 132.47,435.84 132.76,435.83 133.05,435.81 133.35,435.78 133.64,435.73 133.93,435.67 134.23,435.60 134.52,435.52 134.81,435.43 135.11,435.32 135.40,435.20 135.69,435.06 135.99,434.92 136.28,434.76 136.57,434.59 136.87,434.40 137.16,434.20 137.45,433.99 137.75,433.76 138.04,433.52 138.33,433.27 138.63,433.00 138.92,432.72 139.21,432.43 139.51,432.12 139.80,431.80 140.09,431.46 140.39,431.11 140.68,430.74 140.97,430.36 141.27,429.96 141.56,429.55 141.85,429.12 142.15,428.68 142.44,428.22 142.73,427.74 143.03,427.24 143.32,426.73 143.61,426.21 143.91,425.66 144.20,425.10 144.49,424.52 144.79,423.92 145.08,423.31 145.37,422.67 145.67,422.02 145.96,421.35 146.25,420.67 146.55,419.96 146.84,419.24 147.13,418.51 147.43,417.76 147.72,417.00 148.01,416.22 148.31,415.44 148.60,414.64 148.89,413.83 149.19,413.01 149.48,412.18 149.77,411.34 150.07,410.50 150.36,409.64 150.65,408.78 150.95,407.92 151.24,407.05 151.53,406.17 151.83,405.29 152.12,404.41 152.41,403.52 152.71,402.63 153.00,401.74 153.30,400.85 153.59,399.95 153.88,399.05 154.18,398.14 154.47,397.23 154.76,396.32 155.06,395.40 155.35,394.47 155.64,393.55 155.94,392.62 156.23,391.68 156.52,390.74 156.82,389.79 157.11,388.84 157.40,387.88 157.70,386.92 157.99,385.95 158.28,384.98 158.58,384.00 158.87,383.01 159.16,382.02 159.46,381.02 159.75,380.01 160.04,379.00 160.34,377.97 160.63,376.95 160.92,375.91 161.22,374.87 161.51,373.82 161.80,372.76 162.10,371.70 162.39,370.62 162.68,369.54 162.98,368.45 163.27,367.35 163.56,366.24 163.86,365.13 164.15,364.00 164.44,362.87 164.74,361.76 165.03,360.65 165.32,359.55 165.62,358.46 165.91,357.38 166.20,356.30 166.50,355.24 166.79,354.18 167.08,353.13 167.38,352.09 167.67,351.05 167.96,350.03 168.26,349.00 168.55,347.99 168.84,346.98 169.14,345.98 169.43,344.99 169.72,344.00 170.02,343.02 170.31,342.05 170.60,341.08 170.90,340.12 171.19,339.16 171.48,338.21 171.78,337.26 172.07,336.32 172.36,335.38 172.66,334.45 172.95,333.53 173.24,332.60 173.54,331.68 173.83,330.77 174.12,329.86 174.42,328.95 174.71,328.05 175.00,327.15 175.30,326.26 175.59,325.37 175.88,324.48 176.18,323.59 176.47,322.71 176.77,321.83 177.06,320.95 177.35,320.08 177.65,319.22 177.94,318.36 178.23,317.50 178.53,316.66 178.82,315.82 179.11,314.99 179.41,314.17 179.70,313.36 179.99,312.56 180.29,311.78 180.58,311.00 180.87,310.24 181.17,309.49 181.46,308.76 181.75,308.04 182.05,307.33 182.34,306.65 182.63,305.98 182.93,305.33 183.22,304.69 183.51,304.08 183.81,303.48 184.10,302.90 184.39,302.34 184.69,301.79 184.98,301.27 185.27,300.76 185.57,300.26 185.86,299.78 186.15,299.32 186.45,298.88 186.74,298.45 187.03,298.04 187.33,297.64 187.62,297.26 187.91,296.89 188.21,296.54 188.50,296.20 188.79,295.88 189.09,295.57 189.38,295.28 189.67,295.00 189.97,294.73 190.26,294.48 190.55,294.24 190.85,294.01 191.14,293.80 191.43,293.60 191.73,293.41 192.02,293.24 192.31,293.08 192.61,292.94 192.90,292.80 193.19,292.68 193.49,292.57 193.78,292.48 194.07,292.40 194.37,292.33 194.66,292.27 194.95,292.22 195.25,292.19 195.54,292.17 195.83,292.16 196.13,292.16 196.42,292.17 196.71,292.20 197.01,292.24 197.30,292.29 197.59,292.35 197.89,292.43 198.18,292.52 198.47,292.62 198.77,292.74 199.06,292.87 199.36,293.02 199.65,293.17 199.94,293.35 200.24,293.53 200.53,293.74 200.82,293.95 201.12,294.19 201.41,294.43 201.70,294.70 202.00,294.98 202.29,295.27 202.58,295.58 202.88,295.91 203.17,296.25 203.46,296.61 203.76,296.97 204.05,297.35 204.34,297.75 204.64,298.15 204.93,298.56 205.22,298.98 205.52,299.41 205.81,299.84 206.10,300.28 206.40,300.73 206.69,301.18 206.98,301.63 207.28,302.09 207.57,302.54 207.86,303.00 208.16,303.46 208.45,303.91 208.74,304.37 209.04,304.82 209.33,305.26 209.62,305.70 209.92,306.14 210.21,306.57 210.50,306.99 210.80,307.40 211.09,307.81 211.38,308.21 211.68,308.60 211.97,308.98 212.26,309.35 212.56,309.72 212.85,310.08 213.14,310.43 213.44,310.78 213.73,311.11 214.02,311.44 214.32,311.76 214.61,312.07 214.90,312.37 215.20,312.67 215.49,312.95 215.78,313.23 216.08,313.50 216.37,313.76 216.66,314.01 216.96,314.25 217.25,314.48 217.54,314.71 217.84,314.93 218.13,315.13 218.42,315.33 218.72,315.52 219.01,315.69 219.30,315.86 219.60,316.01 219.89,316.16 220.18,316.29 220.48,316.41 220.77,316.51 221.06,316.61 221.36,316.69 221.65,316.75 221.94,316.81 222.24,316.85 222.53,316.87 222.82,316.88 223.12,316.87 223.41,316.85 223.71,316.81 224.00,316.75 224.29,316.69 224.59,316.61 224.88,316.51 225.17,316.41 225.47,316.29 225.76,316.16 226.05,316.01 226.35,315.86 226.64,315.69 226.93,315.52 227.23,315.33 227.52,315.13 227.81,314.93 228.11,314.71 228.40,314.48 228.69,314.25 228.99,314.01 229.28,313.76 229.57,313.50 229.87,313.23 230.16,312.95 230.45,312.67 230.75,312.37 231.04,312.07 231.33,311.76 231.63,311.44 231.92,311.11 232.21,310.78 232.51,310.43 232.80,310.08 233.09,309.72 233.39,309.35 233.68,308.98 233.97,308.60 234.27,308.21 234.56,307.81 234.85,307.40 235.15,306.99 235.44,306.57 235.73,306.14 236.03,305.70 236.32,305.26 236.61,304.82 236.91,304.37 237.20,303.91 237.49,303.46 237.79,303.00 238.08,302.54 238.37,302.09 238.67,301.63 238.96,301.18 239.25,300.73 239.55,300.28 239.84,299.84 240.13,299.41 240.43,298.98 240.72,298.56 241.01,298.15 241.31,297.75 241.60,297.35 241.89,296.97 242.19,296.61 242.48,296.25 242.77,295.91 243.07,295.58 243.36,295.27 243.65,294.98 243.95,294.70 244.24,294.43 244.53,294.19 244.83,293.95 245.12,293.74 245.41,293.53 245.71,293.35 246.00,293.17 246.29,293.02 246.59,292.87 246.88,292.74 247.18,292.62 247.47,292.52 247.76,292.43 248.06,292.35 248.35,292.29 248.64,292.24 248.94,292.20 249.23,292.17 249.52,292.16 249.82,292.16 250.11,292.17 250.40,292.19 250.70,292.22 250.99,292.27 251.28,292.33 251.58,292.40 251.87,292.48 252.16,292.57 252.46,292.68 252.75,292.80 253.04,292.94 253.34,293.08 253.63,293.24 253.92,293.41 254.22,293.60 254.51,293.80 254.80,294.01 255.10,294.24 255.39,294.48 255.68,294.73 255.98,295.00 256.27,295.28 256.56,295.57 256.86,295.88 257.15,296.20 257.44,296.54 257.74,296.89 258.03,297.26 258.32,297.64 258.62,298.04 258.91,298.45 259.20,298.88 259.50,299.32 259.79,299.78 260.08,300.26 260.38,300.76 260.67,301.27 260.96,301.79 261.26,302.34 261.55,302.90 261.84,303.48 262.14,304.08 262.43,304.69 262.72,305.33 263.02,305.98 263.31,306.65 263.60,307.33 263.90,308.04 264.19,308.76 264.48,309.49 264.78,310.24 265.07,311.00 265.36,311.78 265.66,312.56 265.95,313.36 266.24,314.17 266.54,314.99 266.83,315.82 267.12,316.66 267.42,317.50 267.71,318.36 268.00,319.22 268.30,320.08 268.59,320.95 268.88,321.83 269.18,322.71 269.47,323.59 269.76,324.48 270.06,325.37 270.35,326.26 270.65,327.15 270.94,328.05 271.23,328.95 271.53,329.86 271.82,330.77 272.11,331.68 272.41,332.60 272.70,333.53 272.99,334.45 273.29,335.38 273.58,336.32 273.87,337.26 274.17,338.21 274.46,339.16 274.75,340.12 275.05,341.08 275.34,342.05 275.63,343.02 275.93,344.00 276.22,344.99 276.51,345.98 276.81,346.98 277.10,347.99 277.39,349.00 277.69,350.03 277.98,351.05 278.27,352.09 278.57,353.13 278.86,354.18 279.15,355.24 279.45,356.30 279.74,357.38 280.03,358.46 280.33,359.55 280.62,360.65 280.91,361.76 281.21,362.87 281.50,364.00" fill="none" stroke="#00ff00" stroke-width="1.4" stroke-linejoin="round" stroke-dasharray="3.7 1.6 1.3 1.6"/><polyline points="46.80,364.00 47.09,364.20 47.39,364.40 47.68,364.60 47.97,364.79 48.27,364.99 48.56,365.19 48.85,365.39 49.15,365.59 49.44,365.79 49.73,365.99 50.03,366.18 50.32,366.38 50.61,366.58 50.91,366.78 51.20,366.98 51.49,367.18 51.79,367.37 52.08,367.57 52.37,367.77 52.67,367.97 52.96,368.17 53.25,368.37 53.55,368.56 53.84,368.76 54.13,368.96 54.43,369.16 54.72,369.35 55.01,369.55 55.31,369.75 55.60,369.95 55.89,370.14 56.19,370.34 56.48,370.54 56.77,370.73 57.07,370.93 57.36,371.13 57.65,371.32 57.95,371.52 58.24,371.72 58.53,371.91 58.83,372.11 59.12,372.30 59.42,372.50 59.71,372.69 60.00,372.89 60.30,373.08 60.59,373.28 60.88,373.47 61.18,373.67 61.47,373.86 61.76,374.05 62.06,374.25 62.35,374.44 62.64,374.63 62.94,374.83 63.23,375.02 63.52,375.21 63.82,375.40 64.11,375.59 64.40,375.79 64.70,375.98 64.99,376.17 65.28,376.36 65.58,376.55 65.87,376.74 66.16,376.93 66.46,377.11 66.75,377.30 67.04,377.49 67.34,377.68 67.63,377.86 67.92,378.05 68.22,378.24 68.51,378.42 68.80,378.61 69.10,378.79 69.39,378.98 69.68,379.16 69.98,379.34 70.27,379.52 70.56,379.71 70.86,379.89 71.15,380.07 71.44,380.25 71.74,380.43 72.03,380.61 72.32,380.78 72.62,380.96 72.91,381.14 73.20,381.31 73.50,381.49 73.79,381.66 74.08,381.84 74.38,382.01 74.67,382.18 74.96,382.35 75.26,382.52 75.55,382.69 75.84,382.86 76.14,383.03 76.43,383.20 76.72,383.36 77.02,383.53 77.31,383.69 77.60,383.85 77.90,384.02 78.19,384.18 78.48,384.34 78.78,384.50 79.07,384.66 79.36,384.81 79.66,384.97 79.95,385.12 80.24,385.28 80.54,385.43 80.83,385.58 81.12,385.73 81.42,385.88 81.71,386.03 82.00,386.18 82.30,386.32 82.59,386.47 82.89,386.61 83.18,386.75 83.47,386.89 83.77,387.03 84.06,387.17 84.35,387.30 84.65,387.44 84.94,387.57 85.23,387.70 85.53,387.83 85.82,387.96 86.11,388.09 86.41,388.22 86.70,388.34 86.99,388.47 87.29,388.59 87.58,388.71 87.87,388.83 88.17,388.94 88.46,389.06 88.75,389.17 89.05,389.28 89.34,389.39 89.63,389.50 89.93,389.61 90.22,389.71 90.51,389.82 90.81,389.92 91.10,390.02 91.39,390.12 91.69,390.21 91.98,390.31 92.27,390.40 92.57,390.49 92.86,390.58 93.15,390.67 93.45,390.75 93.74,390.84 94.03,390.92 94.33,391.00 94.62,391.08 94.91,391.15 95.21,391.23 95.50,391.30 95.79,391.37 96.09,391.44 96.38,391.50 96.67,391.57 96.97,391.63 97.26,391.69 97.55,391.75 97.85,391.81 98.14,391.86 98.43,391.91 98.73,391.96 99.02,392.01 99.31,392.06 99.61,392.10 99.90,392.14 100.19,392.18 100.49,392.22 100.78,392.25 101.07,392.29 101.37,392.32 101.66,392.35 101.95,392.37 102.25,392.40 102.54,392.42 102.83,392.44 103.13,392.46 103.42,392.48 103.71,392.49 104.01,392.50 104.30,392.51 104.59,392.52 104.89,392.52 105.18,392.53 105.47,392.53 105.77,392.53 106.06,392.52 106.36,392.52 106.65,392.51 106.94,392.50 107.24,392.49 107.53,392.48 107.82,392.46 108.12,392.44 108.41,392.42 108.70,392.40 109.00,392.37 109.29,392.35 109.58,392.32 109.88,392.29 110.17,392.25 110.46,392.22 110.76,392.18 111.05,392.14 111.34,392.10 111.64,392.06 111.93,392.01 112.22,391.96 112.52,391.91 112.81,391.86 113.10,391.81 113.40,391.75 113.69,391.69 113.98,391.63 114.28,391.57 114.57,391.50 114.86,391.44 115.16,391.37 115.45,391.30 115.74,391.23 116.04,391.15 116.33,391.08 116.62,391.00 116.92,390.92 117.21,390.84 117.50,390.75 117.80,390.67 118.09,390.58 118.38,390.49 118.68,390.40 118.97,390.31 119.26,390.21 119.56,390.12 119.85,390.02 120.14,389.92 120.44,389.82 120.73,389.71 121.02,389.61 121.32,389.50 121.61,389.39 121.90,389.28 122.20,389.17 122.49,389.06 122.78,388.94 123.08,388.83 123.37,388.71 123.66,388.59 123.96,388.47 124.25,388.34 124.54,388.22 124.84,388.09 125.13,387.96 125.42,387.83 125.72,387.70 126.01,387.57 126.30,387.44 126.60,387.30 126.89,387.17 127.18,387.03 127.48,386.89 127.77,386.75 128.06,386.61 128.36,386.47 128.65,386.32 128.94,386.18 129.24,386.03 129.53,385.88 129.83,385.73 130.12,385.58 130.41,385.43 130.71,385.28 131.00,385.12 131.29,384.97 131.59,384.81 131.88,384.66 132.17,384.50 132.47,384.34 132.76,384.18 133.05,384.02 133.35,383.85 133.64,383.69 133.93,383.53 134.23,383.36 134.52,383.20 134.81,383.03 135.11,382.86 135.40,382.69 135.69,382.52 135.99,382.35 136.28,382.18 136.57,382.01 136.87,381.84 137.16,381.66 137.45,381.49 137.75,381.31 138.04,381.14 138.33,380.96 138.63,380.78 138.92,380.61 139.21,380.43 139.51,380.25 139.80,380.07 140.09,379.89 140.39,379.71 140.68,379.52 140.97,379.34 141.27,379.16 141.56,378.98 141.85,378.79 142.15,378.61 142.44,378.42 142.73,378.24 143.03,378.05 143.32,377.86 143.61,377.68 143.91,377.49 144.20,377.30 144.49,377.11 144.79,376.93 145.08,376.74 145.37,376.55 145.67,376.36 145.96,376.17 146.25,375.98 146.55,375.79 146.84,375.59 147.13,375.40 147.43,375.21 147.72,375.02 148.01,374.83 148.31,374.63 148.60,374.44 148.89,374.25 149.19,374.05 149.48,373.86 149.77,373.67 150.07,373.47 150.36,373.28 150.65,373.08 150.95,372.89 151.24,372.69 151.53,372.50 151.83,372.30 152.12,372.11 152.41,371.91 152.71,371.72 153.00,371.52 153.30,371.32 153.59,371.13 153.88,370.93 154.18,370.73 154.47,370.54 154.76,370.34 155.06,370.14 155.35,369.95 155.64,369.75 155.94,369.55 156.23,369.35 156.52,369.16 156.82,368.96 157.11,368.76 157.40,368.56 157.70,368.37 157.99,368.17 158.28,367.97 158.58,367.77 158.87,367.57 159.16,367.37 159.46,367.18 159.75,366.98 160.04,366.78 160.34,366.58 160.63,366.38 160.92,366.18 161.22,365.99 161.51,365.79 161.80,365.59 162.10,365.39 162.39,365.19 162.68,364.99 162.98,364.79 163.27,364.60 163.56,364.40 163.86,364.20 164.15,364.00 164.44,363.80 164.74,363.60 165.03,363.40 165.32,363.21 165.62,363.01 165.91,362.81 166.20,362.61 166.50,362.41 166.79,362.21 167.08,362.01 167.38,361.82 167.67,361.62 167.96,361.42 168.26,361.22 168.55,361.02 168.84,360.82 169.14,360.63 169.43,360.43 169.72,360.23 170.02,360.03 170.31,359.83 170.60,359.63 170.90,359.44 171.19,359.24 171.48,359.04 171.78,358.84 172.07,358.65 172.36,358.45 172.66,358.25 172.95,358.05 173.24,357.86 173.54,357.66 173.83,357.46 174.12,357.27 174.42,357.07 174.71,356.87 175.00,356.68 175.30,356.48 175.59,356.28 175.88,356.09 176.18,355.89 176.47,355.70 176.77,355.50 177.06,355.31 177.35,355.11 177.65,354.92 177.94,354.72 178.23,354.53 178.53,354.33 178.82,354.14 179.11,353.95 179.41,353.75 179.70,353.56 179.99,353.37 180.29,353.17 180.58,352.98 180.87,352.79 181.17,352.60 181.46,352.41 181.75,352.21 182.05,352.02 182.34,351.83 182.63,351.64 182.93,351.45 183.22,351.26 183.51,351.07 183.81,350.89 184.10,350.70 184.39,350.51 184.69,350.32 184.98,350.14 185.27,349.95 185.57,349.76 185.86,349.58 186.15,349.39 186.45,349.21 186.74,349.02 187.03,348.84 187.33,348.66 187.62,348.48 187.91,348.29 188.21,348.11 188.50,347.93 188.79,347.75 189.09,347.57 189.38,347.39 189.67,347.22 189.97,347.04 190.26,346.86 190.55,346.69 190.85,346.51 191.14,346.34 191.43,346.16 191.73,345.99 192.02,345.82 192.31,345.65 192.61,345.48 192.90,345.31 193.19,345.14 193.49,344.97 193.78,344.80 194.07,344.64 194.37,344.47 194.66,344.31 194.95,344.15 195.25,343.98 195.54,343.82 195.83,343.66 196.13,343.50 196.42,343.34 196.71,343.19 197.01,343.03 197.30,342.88 197.59,342.72 197.89,342.57 198.18,342.42 198.47,342.27 198.77,342.12 199.06,341.97 199.36,341.82 199.65,341.68 199.94,341.53 200.24,341.39 200.53,341.25 200.82,341.11 201.12,340.97 201.41,340.83 201.70,340.70 202.00,340.56 202.29,340.43 202.58,340.30 202.88,340.17 203.17,340.04 203.46,339.91 203.76,339.78 204.05,339.66 204.34,339.53 204.64,339.41 204.93,339.29 205.22,339.17 205.52,339.06 205.81,338.94 206.10,338.83 206.40,338.72 206.69,338.61 206.98,338.50 207.28,338.39 207.57,338.29 207.86,338.18 208.16,338.08 208.45,337.98 208.74,337.88 209.04,337.79 209.33,337.69 209.62,337.60 209.92,337.51 210.21,337.42 210.50,337.33 210.80,337.25 211.09,337.16 211.38,337.08 211.68,337.00 211.97,336.92 212.26,336.85 212.56,336.77 212.85,336.70 213.14,336.63 213.44,336.56 213.73,336.50 214.02,336.43 214.32,336.37 214.61,336.31 214.90,336.25 215.20,336.19 215.49,336.14 215.78,336.09 216.08,336.04 216.37,335.99 216.66,335.94 216.96,335.90 217.25,335.86 217.54,335.82 217.84,335.78 218.13,335.75 218.42,335.71 218.72,335.68 219.01,335.65 219.30,335.63 219.60,335.60 219.89,335.58 220.18,335.56 220.48,335.54 220.77,335.52 221.06,335.51 221.36,335.50 221.65,335.49 221.94,335.48 222.24,335.48 222.53,335.47 222.82,335.47 223.12,335.47 223.41,335.48 223.71,335.48 224.00,335.49 224.29,335.50 224.59,335.51 224.88,335.52 225.17,335.54 225.47,335.56 225.76,335.58 226.05,335.60 226.35,335.63 226.64,335.65 226.93,335.68 227.23,335.71 227.52,335.75 227.81,335.78 228.11,335.82 228.40,335.86 228.69,335.90 228.99,335.94 229.28,335.99 229.57,336.04 229.87,336.09 230.16,336.14 230.45,336.19 230.75,336.25 231.04,336.31 231.33,336.37 231.63,336.43 231.92,336.50 232.21,336.56 232.51,336.63 232.80,336.70 233.09,336.77 233.39,336.85 233.68,336.92 233.97,337.00 234.27,337.08 234.56,337.16 234.85,337.25 235.15,337.33 235.44,337.42 235.73,337.51 236.03,337.60 236.32,337.69 236.61,337.79 236.91,337.88 237.20,337.98 237.49,338.08 237.79,338.18 238.08,338.29 238.37,338.39 238.67,338.50 238.96,338.61 239.25,338.72 239.55,338.83 239.84,338.94 240.13,339.06 240.43,339.17 240.72,339.29 241.01,339.41 241.31,339.53 241.60,339.66 241.89,339.78 242.19,339.91 242.48,340.04 242.77,340.17 243.07,340.30 243.36,340.43 243.65,340.56 243.95,340.70 244.24,340.83 244.53,340.97 244.83,341.11 245.12,341.25 245.41,341.39 245.71,341.53 246.00,341.68 246.29,341.82 246.59,341.97 246.88,342.12 247.18,342.27 247.47,342.42 247.76,342.57 248.06,342.72 248.35,342.88 248.64,343.03 248.94,343.19 249.23,343.34 249.52,343.50 249.82,343.66 250.11,343.82 250.40,343.98 250.70,344.15 250.99,344.31 251.28,344.47 251.58,344.64 251.87,344.80 252.16,344.97 252.46,345.14 252.75,345.31 253.04,345.48 253.34,345.65 253.63,345.82 253.92,345.99 254.22,346.16 254.51,346.34 254.80,346.51 255.10,346.69 255.39,346.86 255.68,347.04 255.98,347.22 256.27,347.39 256.56,347.57 256.86,347.75 257.15,347.93 257.44,348.11 257.74,348.29 258.03,348.48 258.32,348.66 258.62,348.84 258.91,349.02 259.20,349.21 259.50,349.39 259.79,349.58 260.08,349.76 260.38,349.95 260.67,350.14 260.96,350.32 261.26,350.51 261.55,350.70 261.84,350.89 262.14,351.07 262.43,351.26 262.72,351.45 263.02,351.64 263.31,351.83 263.60,352.02 263.90,352.21 264.19,352.41 264.48,352.60 264.78,352.79 265.07,352.98 265.36,353.17 265.66,353.37 265.95,353.56 266.24,353.75 266.54,353.95 266.83,354.14 267.12,354.33 267.42,354.53 267.71,354.72 268.00,354.92 268.30,355.11 268.59,355.31 268.88,355.50 269.18,355.70 269.47,355.89 269.76,356.09 270.06,356.28 270.35,356.48 270.65,356.68 270.94,356.87 271.23,357.07 271.53,357.27 271.82,357.46 272.11,357.66 272.41,357.86 272.70,358.05 272.99,358.25 273.29,358.45 273.58,358.65 273.87,358.84 274.17,359.04 274.46,359.24 274.75,359.44 275.05,359.63 275.34,359.83 275.63,360.03 275.93,360.23 276.22,360.43 276.51,360.63 276.81,360.82 277.10,361.02 277.39,361.22 277.69,361.42 277.98,361.62 278.27,361.82 278.57,362.01 278.86,362.21 279.15,362.41 279.45,362.61 279.74,362.81 280.03,363.01 280.33,363.21 280.62,363.40 280.91,363.60 281.21,363.80 281.50,364.00" fill="none" stroke="#0000ff" stroke-width="1.4" stroke-linejoin="round" stroke-dasharray="3.7 1.6 1.3 1.6"/></g>
<text transform="translate(47.70,468.5) scale(1.07,1)" font-size="10" text-anchor="middle" stroke="#000" stroke-width="0.15">0</text>
<text transform="translate(94.64,468.5) scale(1.07,1)" font-size="10" text-anchor="middle" stroke="#000" stroke-width="0.15">0.2</text>
<text transform="translate(141.58,468.5) scale(1.07,1)" font-size="10" text-anchor="middle" stroke="#000" stroke-width="0.15">0.4</text>
<text transform="translate(188.52,468.5) scale(1.07,1)" font-size="10" text-anchor="middle" stroke="#000" stroke-width="0.15">0.6</text>
<text transform="translate(235.46,468.5) scale(1.07,1)" font-size="10" text-anchor="middle" stroke="#000" stroke-width="0.15">0.8</text>
<text transform="translate(282.40,468.5) scale(1.07,1)" font-size="10" text-anchor="middle" stroke="#000" stroke-width="0.15">1</text>
<text transform="translate(42.6,460.00) scale(1.07,1)" font-size="10" text-anchor="end" stroke="#000" stroke-width="0.15">−4</text>
<text transform="translate(42.6,436.90) scale(1.07,1)" font-size="10" text-anchor="end" stroke="#000" stroke-width="0.15">−3</text>
<text transform="translate(42.6,413.80) scale(1.07,1)" font-size="10" text-anchor="end" stroke="#000" stroke-width="0.15">−2</text>
<text transform="translate(42.6,390.70) scale(1.07,1)" font-size="10" text-anchor="end" stroke="#000" stroke-width="0.15">−1</text>
<text transform="translate(42.6,367.60) scale(1.07,1)" font-size="10" text-anchor="end" stroke="#000" stroke-width="0.15">0</text>
<text transform="translate(42.6,344.50) scale(1.07,1)" font-size="10" text-anchor="end" stroke="#000" stroke-width="0.15">1</text>
<text transform="translate(42.6,321.40) scale(1.07,1)" font-size="10" text-anchor="end" stroke="#000" stroke-width="0.15">2</text>
<text transform="translate(42.6,298.30) scale(1.07,1)" font-size="10" text-anchor="end" stroke="#000" stroke-width="0.15">3</text>
<text transform="translate(42.6,275.20) scale(1.07,1)" font-size="10" text-anchor="end" stroke="#000" stroke-width="0.15">4</text>
<text x="77.20" y="264.70" font-size="12.3" text-anchor="start" stroke="#000" stroke-width="0.2">GPS, BLOCK IIA, B−Accelerations</text>
<text x="121.30" y="482.60" font-size="12.3" text-anchor="start" stroke="#000" stroke-width="0.2">time (rev period)</text>
<text transform="translate(28.2,374.6) rotate(-90)" font-size="12.3" stroke="#000" stroke-width="0.2">nm/s<tspan dy="-6" font-size="8.5">2</tspan></text>
<rect x="48.7" y="273.6" width="94.2" height="75.6" fill="#fff" stroke="#1a1a1a" stroke-width="1.05"/>
<line x1="51.40" y1="280.80" x2="70.50" y2="280.80" stroke="#ff0000" stroke-width="1.6" />
<text y="283.60" font-size="9" stroke="#000" stroke-width="0.22"><tspan x="72.30">box−wing,</tspan><tspan x="115.00">β</tspan><tspan x="120.40" dy="-0.45" font-size="7.6">=</tspan><tspan x="124.70" dy="0.45">10</tspan><tspan x="134.70" dy="-4.1" font-size="7.2" stroke-width="0.1">o</tspan></text>
<line x1="51.40" y1="293.00" x2="70.50" y2="293.00" stroke="#00ff00" stroke-width="1.6" />
<text y="295.80" font-size="9" stroke="#000" stroke-width="0.22"><tspan x="72.30">box−wing,</tspan><tspan x="115.00">β</tspan><tspan x="120.40" dy="-0.45" font-size="7.6">=</tspan><tspan x="124.70" dy="0.45">45</tspan><tspan x="134.70" dy="-4.1" font-size="7.2" stroke-width="0.1">o</tspan></text>
<line x1="51.40" y1="305.20" x2="70.50" y2="305.20" stroke="#0000ff" stroke-width="1.6" />
<text y="308.00" font-size="9" stroke="#000" stroke-width="0.22"><tspan x="72.30">box−wing,</tspan><tspan x="115.00">β</tspan><tspan x="120.40" dy="-0.45" font-size="7.6">=</tspan><tspan x="124.70" dy="0.45">78</tspan><tspan x="134.70" dy="-4.1" font-size="7.2" stroke-width="0.1">o</tspan></text>
<line x1="51.40" y1="317.40" x2="69.60" y2="317.40" stroke="#ff0000" stroke-width="1.4" stroke-dasharray="3.7 1.6 1.3 1.6" stroke-dashoffset="5.3"/>
<text y="320.20" font-size="9" stroke="#000" stroke-width="0.22"><tspan x="72.30">ROCK−T,</tspan><tspan x="112.30">β</tspan><tspan x="118.00" dy="-0.45" font-size="7.6">=</tspan><tspan x="122.40" dy="0.45">10</tspan><tspan x="132.80" dy="-4.1" font-size="7.2" stroke-width="0.1">o</tspan></text>
<line x1="51.40" y1="329.60" x2="69.60" y2="329.60" stroke="#00ff00" stroke-width="1.4" stroke-dasharray="3.7 1.6 1.3 1.6" stroke-dashoffset="5.3"/>
<text y="332.40" font-size="9" stroke="#000" stroke-width="0.22"><tspan x="72.30">ROCK−T,</tspan><tspan x="112.30">β</tspan><tspan x="118.00" dy="-0.45" font-size="7.6">=</tspan><tspan x="122.40" dy="0.45">45</tspan><tspan x="132.80" dy="-4.1" font-size="7.2" stroke-width="0.1">o</tspan></text>
<line x1="51.40" y1="341.80" x2="69.60" y2="341.80" stroke="#0000ff" stroke-width="1.4" stroke-dasharray="3.7 1.6 1.3 1.6" stroke-dashoffset="5.3"/>
<text y="344.60" font-size="9" stroke="#000" stroke-width="0.22"><tspan x="72.30">ROCK−T,</tspan><tspan x="112.30">β</tspan><tspan x="118.00" dy="-0.45" font-size="7.6">=</tspan><tspan x="122.40" dy="0.45">78</tspan><tspan x="132.80" dy="-4.1" font-size="7.2" stroke-width="0.1">o</tspan></text>
<path d="M339.40,456.0v-2.5M339.40,271.6v2.5M378.42,456.0v-2.5M378.42,271.6v2.5M417.43,456.0v-2.5M417.43,271.6v2.5M456.45,456.0v-2.5M456.45,271.6v2.5M495.47,456.0v-2.5M495.47,271.6v2.5M534.48,456.0v-2.5M534.48,271.6v2.5M573.50,456.0v-2.5M573.50,271.6v2.5M339.4,456.00h2.5M573.5,456.00h-2.5M339.4,419.12h2.5M573.5,419.12h-2.5M339.4,382.24h2.5M573.5,382.24h-2.5M339.4,345.36h2.5M573.5,345.36h-2.5M339.4,308.48h2.5M573.5,308.48h-2.5M339.4,271.60h2.5M573.5,271.60h-2.5" stroke="#000" stroke-width="1" fill="none"/>
<rect x="339.4" y="271.6" width="234.10" height="184.40" fill="none" stroke="#000" stroke-width="1.2"/>
<g clip-path="url(#cBR)"><polyline points="556.16,456.00 534.48,394.41 516.75,456.00 406.67,456.00 404.43,402.04 402.33,456.00 379.21,456.00 378.42,450.68 377.65,456.00 367.67,456.00 367.27,455.63 366.88,456.00 361.32,456.00 361.08,454.79 360.84,456.00 357.30,456.00 357.13,455.45 356.98,456.00 354.52,456.00 354.41,455.75 354.29,456.00 352.49,456.00 352.41,455.83 352.32,456.00 350.94,456.00 350.88,455.56 350.81,456.00 349.72,456.00 349.67,455.84 349.61,456.00 347.92,456.00 347.88,455.84 347.85,456.00 347.23,456.00 347.20,455.89 347.17,456.00 340.38,456.00" fill="none" stroke="#ff0000" stroke-width="1.6" stroke-linejoin="round" /><polyline points="556.16,456.00 534.48,357.90 516.75,456.00 442.08,456.00 436.94,454.89 432.30,456.00 406.67,456.00 404.43,432.43 402.33,456.00 379.21,456.00 378.42,454.12 377.65,456.00 367.67,456.00 367.27,455.43 366.88,456.00 361.32,456.00 361.08,455.67 360.84,456.00 357.30,456.00 357.13,455.69 356.98,456.00 354.52,456.00 354.41,455.36 354.29,456.00 352.49,456.00 352.41,455.25 352.32,456.00 350.94,456.00 350.88,455.45 350.81,456.00 349.72,456.00 349.67,455.55 349.61,456.00 348.73,456.00 348.69,455.63 348.65,456.00 347.92,456.00 347.88,455.81 347.85,456.00 347.23,456.00 347.20,455.84 347.17,456.00 346.65,456.00 346.63,455.88 346.60,456.00 346.15,456.00 346.13,455.92 346.10,456.00 340.38,456.00" fill="none" stroke="#00ff00" stroke-width="1.6" stroke-linejoin="round" /><polyline points="556.16,456.00 534.48,406.58 516.75,456.00 340.38,456.00" fill="none" stroke="#0000ff" stroke-width="1.6" stroke-linejoin="round" /><polyline points="556.16,456.00 534.48,411.74 516.75,456.00 406.67,456.00 404.43,383.31 402.33,456.00 379.21,456.00 378.42,440.51 377.65,456.00 367.67,456.00 367.27,439.21 366.88,456.00 361.32,456.00 361.08,451.57 360.84,456.00 357.30,456.00 357.13,453.40 356.98,456.00 354.52,456.00 354.41,454.70 354.29,456.00 352.49,456.00 352.41,455.43 352.32,456.00 350.94,456.00 350.88,455.24 350.81,456.00 349.72,456.00 349.67,455.39 349.61,456.00 348.73,456.00 348.69,455.55 348.65,456.00 347.92,456.00 347.88,455.63 347.85,456.00 347.23,456.00 347.20,455.72 347.17,456.00 346.65,456.00 346.63,455.74 346.60,456.00 346.15,456.00 346.13,455.55 346.10,456.00 345.33,456.00 345.31,455.56 345.29,456.00 344.69,456.00 344.67,455.75 344.66,456.00 344.17,456.00 344.16,455.84 344.15,456.00 340.38,456.00" fill="none" stroke="#ff0000" stroke-width="1.4" stroke-linejoin="round" stroke-dasharray="3.7 1.6 1.3 1.6"/><polyline points="556.16,456.00 534.48,339.83 516.75,456.00 406.67,456.00 404.43,417.17 402.33,456.00 379.21,456.00 378.42,441.99 377.65,456.00 367.67,456.00 367.27,455.68 366.88,456.00 357.30,456.00 357.13,455.72 356.98,456.00 354.52,456.00 354.41,455.61 354.29,456.00 352.49,456.00 352.41,455.67 352.32,456.00 349.72,456.00 349.67,455.88 349.61,456.00 340.38,456.00" fill="none" stroke="#00ff00" stroke-width="1.4" stroke-linejoin="round" stroke-dasharray="3.7 1.6 1.3 1.6"/><polyline points="556.16,456.00 534.48,409.90 516.75,456.00 406.67,456.00 404.43,454.71 402.33,456.00 340.38,456.00" fill="none" stroke="#0000ff" stroke-width="1.4" stroke-linejoin="round" stroke-dasharray="3.7 1.6 1.3 1.6"/></g>
<text transform="translate(340.30,468.5) scale(1.07,1)" font-size="10" text-anchor="middle" stroke="#000" stroke-width="0.15">0</text>
<text transform="translate(379.32,468.5) scale(1.07,1)" font-size="10" text-anchor="middle" stroke="#000" stroke-width="0.15">0.2</text>
<text transform="translate(418.33,468.5) scale(1.07,1)" font-size="10" text-anchor="middle" stroke="#000" stroke-width="0.15">0.4</text>
<text transform="translate(457.35,468.5) scale(1.07,1)" font-size="10" text-anchor="middle" stroke="#000" stroke-width="0.15">0.6</text>
<text transform="translate(496.37,468.5) scale(1.07,1)" font-size="10" text-anchor="middle" stroke="#000" stroke-width="0.15">0.8</text>
<text transform="translate(535.38,468.5) scale(1.07,1)" font-size="10" text-anchor="middle" stroke="#000" stroke-width="0.15">1</text>
<text transform="translate(574.40,468.5) scale(1.07,1)" font-size="10" text-anchor="middle" stroke="#000" stroke-width="0.15">1.2</text>
<text transform="translate(335.4,459.60) scale(1.07,1)" font-size="10" text-anchor="end" stroke="#000" stroke-width="0.15">0</text>
<text transform="translate(335.4,422.72) scale(1.07,1)" font-size="10" text-anchor="end" stroke="#000" stroke-width="0.15">1</text>
<text transform="translate(335.4,385.84) scale(1.07,1)" font-size="10" text-anchor="end" stroke="#000" stroke-width="0.15">2</text>
<text transform="translate(335.4,348.96) scale(1.07,1)" font-size="10" text-anchor="end" stroke="#000" stroke-width="0.15">3</text>
<text transform="translate(335.4,312.08) scale(1.07,1)" font-size="10" text-anchor="end" stroke="#000" stroke-width="0.15">4</text>
<text transform="translate(335.4,275.20) scale(1.07,1)" font-size="10" text-anchor="end" stroke="#000" stroke-width="0.15">5</text>
<text x="366.80" y="264.70" font-size="12.3" text-anchor="start" stroke="#000" stroke-width="0.2">GPS, BLOCK IIA, B−Accelerations</text>
<text x="428.90" y="482.60" font-size="12.3" text-anchor="start" stroke="#000" stroke-width="0.2">rev period</text>
<text transform="translate(322.1,377.0) rotate(-90)" font-size="12.3" stroke="#000" stroke-width="0.2">nm/s<tspan dy="-6" font-size="8.5">2</tspan></text>
<rect x="341.6" y="273.6" width="94.2" height="75.6" fill="#fff" stroke="#1a1a1a" stroke-width="1.05"/>
<line x1="344.30" y1="280.80" x2="363.40" y2="280.80" stroke="#ff0000" stroke-width="1.6" />
<text y="283.60" font-size="9" stroke="#000" stroke-width="0.22"><tspan x="365.20">box−wing,</tspan><tspan x="407.90">β</tspan><tspan x="413.30" dy="-0.45" font-size="7.6">=</tspan><tspan x="417.60" dy="0.45">10</tspan><tspan x="427.60" dy="-4.1" font-size="7.2" stroke-width="0.1">o</tspan></text>
<line x1="344.30" y1="293.00" x2="363.40" y2="293.00" stroke="#00ff00" stroke-width="1.6" />
<text y="295.80" font-size="9" stroke="#000" stroke-width="0.22"><tspan x="365.20">box−wing,</tspan><tspan x="407.90">β</tspan><tspan x="413.30" dy="-0.45" font-size="7.6">=</tspan><tspan x="417.60" dy="0.45">45</tspan><tspan x="427.60" dy="-4.1" font-size="7.2" stroke-width="0.1">o</tspan></text>
<line x1="344.30" y1="305.20" x2="363.40" y2="305.20" stroke="#0000ff" stroke-width="1.6" />
<text y="308.00" font-size="9" stroke="#000" stroke-width="0.22"><tspan x="365.20">box−wing,</tspan><tspan x="407.90">β</tspan><tspan x="413.30" dy="-0.45" font-size="7.6">=</tspan><tspan x="417.60" dy="0.45">78</tspan><tspan x="427.60" dy="-4.1" font-size="7.2" stroke-width="0.1">o</tspan></text>
<line x1="344.30" y1="317.40" x2="362.50" y2="317.40" stroke="#ff0000" stroke-width="1.4" stroke-dasharray="3.7 1.6 1.3 1.6" stroke-dashoffset="5.3"/>
<text y="320.20" font-size="9" stroke="#000" stroke-width="0.22"><tspan x="365.20">ROCK−T,</tspan><tspan x="405.20">β</tspan><tspan x="410.90" dy="-0.45" font-size="7.6">=</tspan><tspan x="415.30" dy="0.45">10</tspan><tspan x="425.70" dy="-4.1" font-size="7.2" stroke-width="0.1">o</tspan></text>
<line x1="344.30" y1="329.60" x2="362.50" y2="329.60" stroke="#00ff00" stroke-width="1.4" stroke-dasharray="3.7 1.6 1.3 1.6" stroke-dashoffset="5.3"/>
<text y="332.40" font-size="9" stroke="#000" stroke-width="0.22"><tspan x="365.20">ROCK−T,</tspan><tspan x="405.20">β</tspan><tspan x="410.90" dy="-0.45" font-size="7.6">=</tspan><tspan x="415.30" dy="0.45">45</tspan><tspan x="425.70" dy="-4.1" font-size="7.2" stroke-width="0.1">o</tspan></text>
<line x1="344.30" y1="341.80" x2="362.50" y2="341.80" stroke="#0000ff" stroke-width="1.4" stroke-dasharray="3.7 1.6 1.3 1.6" stroke-dashoffset="5.3"/>
<text y="344.60" font-size="9" stroke="#000" stroke-width="0.22"><tspan x="365.20">ROCK−T,</tspan><tspan x="405.20">β</tspan><tspan x="410.90" dy="-0.45" font-size="7.6">=</tspan><tspan x="415.30" dy="0.45">78</tspan><tspan x="425.70" dy="-4.1" font-size="7.2" stroke-width="0.1">o</tspan></text>
</svg></body></html>
